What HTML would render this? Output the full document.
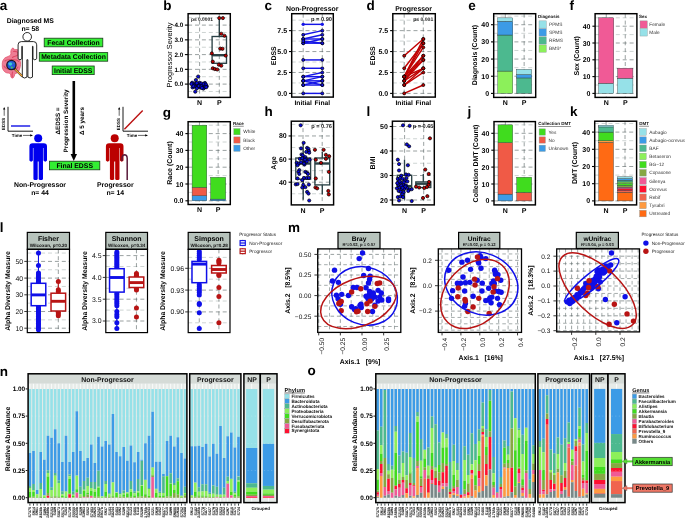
<!DOCTYPE html>
<html><head><meta charset="utf-8"><title>Figure</title>
<style>
html,body{margin:0;padding:0;background:#fff;}
svg{display:block;font-family:"Liberation Sans",sans-serif;text-rendering:geometricPrecision;}
</style></head><body>
<svg width="685" height="518" viewBox="0 0 685 518">
<rect x="0" y="0" width="685" height="518" fill="#ffffff"/>
<text x="-0.30" y="10.30" font-size="13.50px" font-weight="bold" text-anchor="start" fill="#000" >a</text>
<text x="30.30" y="23.20" font-size="6.85px" font-weight="bold" text-anchor="middle" fill="#000" >Diagnosed MS</text>
<text x="30.30" y="31.00" font-size="6.85px" font-weight="bold" text-anchor="middle" fill="#000" >n= 58</text>
<path d="M12 48.5 C13 47.5 14.5 48.5 14 50 C16 49 20 49.5 20 52.5 C20 55 19 56.5 18.5 57.5 C21 60 21 66 19.5 69 C19 72 17 73.5 15 73.5 C14.5 75.5 14 77 13 78 C11.5 78.5 10.5 77 10.8 75 C10.5 73.5 9 73 7.5 73 C4 72.5 2 69 2.3 65 C2 61 4 57.5 7 57 C9 56 10.5 55.5 11 54 C10.5 52 11 49.5 12 48.5 Z" fill="#ee7d94" stroke="#e4566e" stroke-width="0.8"/>
<path d="M13.5 51.5 C16 51 18.5 52 18 54.5 C17.5 56.5 14 56 12.5 57.5 M5 61 C7 59 17 59 18.5 61.5 M4 66 C6 70 16 71 18 67 M12.5 72 C12 74 12 76 12.3 77" fill="none" stroke="#dd4a66" stroke-width="1.1" stroke-linecap="round"/>
<circle cx="27.20" cy="36.80" r="4.30" fill="#fff" stroke="#111" stroke-width="0.90"/>
<path d="M 21.30 41.60 H 33.50 Q 36.70 41.60 36.70 44.80 V 58.75 Q 34.84 60.99 32.98 58.75 V 46.30 H 32.48 V 77.10 Q 30.19 78.90 27.90 77.10 V 59.75 H 26.90 V 77.10 Q 24.61 78.90 22.32 77.10 V 46.30 H 21.82 V 58.75 Q 19.96 60.99 18.10 58.75 V 44.80 Q 18.10 41.60 21.30 41.60 Z" fill="#fff" stroke="#111" stroke-width="0.9" stroke-linejoin="round"/>
<line x1="14.50" y1="68.80" x2="22.00" y2="76.00" stroke="#333" stroke-width="2.20" stroke-linecap="round"/>
<line x1="15.50" y1="69.80" x2="21.80" y2="75.80" stroke="#f0a030" stroke-width="1.30" stroke-linecap="round"/>
<circle cx="11.40" cy="65.00" r="4.60" fill="#2458dc" stroke="#1a1a22" stroke-width="1.30"/>
<path d="M8.2 63.4 q1.8 -2 3.6 -0.6 q1.2 1.6 -0.6 2.8 q-2.4 0.6 -3 -2.2 Z" fill="#38c8d8"/>
<path d="M10.6 66.6 q1.6 -0.6 2.6 0.6 q-0.6 1.6 -2.2 1.2 Z M12.6 62.6 q1.2 0.2 1.4 1.4 q-1 0.4 -1.4 -1.4 Z" fill="#40c060"/>
<rect x="44.20" y="38.20" width="58.60" height="8.60" fill="#33ee33" stroke="#1a3a1a" stroke-width="0.80" />
<text x="73.50" y="45.00" font-size="6.85px" font-weight="bold" text-anchor="middle" fill="#000" >Fecal Collection</text>
<rect x="39.30" y="52.60" width="68.40" height="8.60" fill="#33ee33" stroke="#1a3a1a" stroke-width="0.80" />
<text x="73.50" y="59.30" font-size="6.85px" font-weight="bold" text-anchor="middle" fill="#000" >Metadata Collection</text>
<rect x="52.20" y="66.00" width="42.00" height="8.60" fill="#33ee33" stroke="#1a3a1a" stroke-width="0.80" />
<text x="73.20" y="72.70" font-size="6.85px" font-weight="bold" text-anchor="middle" fill="#000" >Initial EDSS</text>
<line x1="73.80" y1="81.00" x2="73.80" y2="156.00" stroke="#000" stroke-width="2.60" />
<path d="M70.6 154 L77 154 L73.8 161 Z" fill="#000"/>
<text x="60.30" y="121.00" font-size="6.30px" font-weight="bold" text-anchor="middle" fill="#000" transform="rotate(-90 60.30 121.00)" >ΔEDSS =</text>
<text x="68.20" y="121.00" font-size="6.30px" font-weight="bold" text-anchor="middle" fill="#000" transform="rotate(-90 68.20 121.00)" >Progression Severity</text>
<text x="83.70" y="121.00" font-size="6.30px" font-weight="bold" text-anchor="middle" fill="#000" transform="rotate(-90 83.70 121.00)" >Δ 5 years</text>
<rect x="49.50" y="161.20" width="50.30" height="8.60" fill="#33ee33" stroke="#1a3a1a" stroke-width="0.80" />
<text x="74.70" y="167.90" font-size="6.85px" font-weight="bold" text-anchor="middle" fill="#000" >Final EDSS</text>
<path d="M8.00 106.8 V131.2 H33.00" fill="none" stroke="#000" stroke-width="0.9"/>
<text x="5.40" y="124.00" font-size="4.50px" font-weight="bold" text-anchor="middle" fill="#000" transform="rotate(-90 5.40 124.00)" >EDSS</text>
<line x1="4.20" y1="115.80" x2="4.20" y2="108.20" stroke="#000" stroke-width="0.60" />
<path d="M3.10 109.6 L4.20 107 L5.30 109.6 Z" fill="#000"/>
<text x="17.00" y="136.60" font-size="4.50px" font-weight="bold" text-anchor="middle" fill="#000" >Time</text>
<line x1="23.00" y1="135.40" x2="31.50" y2="135.40" stroke="#000" stroke-width="0.60" />
<path d="M30.20 134.2 L33.00 135.4 L30.20 136.6 Z" fill="#000"/>
<line x1="11.00" y1="126.00" x2="30.20" y2="126.00" stroke="#1010e6" stroke-width="1.40" />
<path d="M123.00 106.8 V131.2 H148.00" fill="none" stroke="#000" stroke-width="0.9"/>
<text x="120.40" y="124.00" font-size="4.50px" font-weight="bold" text-anchor="middle" fill="#000" transform="rotate(-90 120.40 124.00)" >EDSS</text>
<line x1="119.20" y1="115.80" x2="119.20" y2="108.20" stroke="#000" stroke-width="0.60" />
<path d="M118.10 109.6 L119.20 107 L120.30 109.6 Z" fill="#000"/>
<text x="132.00" y="136.60" font-size="4.50px" font-weight="bold" text-anchor="middle" fill="#000" >Time</text>
<line x1="138.00" y1="135.40" x2="146.50" y2="135.40" stroke="#000" stroke-width="0.60" />
<path d="M145.20 134.2 L148.00 135.4 L145.20 136.6 Z" fill="#000"/>
<line x1="124.40" y1="129.20" x2="142.70" y2="110.60" stroke="#bb1111" stroke-width="1.40" />
<circle cx="38.20" cy="138.30" r="4.00" fill="#0000ee" stroke="none" stroke-width="0.50"/>
<path d="M 32.60 143.20 H 43.80 Q 47.00 143.20 47.00 146.40 V 160.59 Q 45.24 162.70 43.48 160.59 V 147.90 H 42.98 V 179.20 Q 40.84 181.00 38.70 179.20 V 161.59 H 37.70 V 179.20 Q 35.56 181.00 33.42 179.20 V 147.90 H 32.92 V 160.59 Q 31.16 162.70 29.40 160.59 V 146.40 Q 29.40 143.20 32.60 143.20 Z" fill="#0000ee"/>
<circle cx="114.70" cy="138.30" r="4.00" fill="#bb0000" stroke="none" stroke-width="0.50"/>
<path d="M 109.10 143.20 H 120.30 Q 123.50 143.20 123.50 146.40 V 160.59 Q 121.74 162.70 119.98 160.59 V 147.90 H 119.48 V 179.20 Q 117.34 181.00 115.20 179.20 V 161.59 H 114.20 V 179.20 Q 112.06 181.00 109.92 179.20 V 147.90 H 109.42 V 160.59 Q 107.66 162.70 105.90 160.59 V 146.40 Q 105.90 143.20 109.10 143.20 Z" fill="#bb0000"/>
<path d="M122 161 Q121.6 155 124.3 154.8 Q127.2 154.8 127.2 158.5 V180" fill="none" stroke="#5a1a3a" stroke-width="1.5"/>
<text x="40.00" y="187.20" font-size="6.85px" font-weight="bold" text-anchor="middle" fill="#000" >Non-Progressor</text>
<text x="40.00" y="194.60" font-size="6.85px" font-weight="bold" text-anchor="middle" fill="#000" >n= 44</text>
<text x="115.30" y="187.20" font-size="6.85px" font-weight="bold" text-anchor="middle" fill="#000" >Progressor</text>
<text x="115.30" y="194.60" font-size="6.85px" font-weight="bold" text-anchor="middle" fill="#000" >n= 14</text>
<text x="163.30" y="10.30" font-size="13.50px" font-weight="bold" text-anchor="start" fill="#000" >b</text>
<line x1="188.10" y1="91.47" x2="230.30" y2="91.47" stroke="#a6b0ae" stroke-width="0.55" stroke-dasharray="4 2.9" stroke-dashoffset="0"/>
<line x1="188.10" y1="76.72" x2="230.30" y2="76.72" stroke="#a6b0ae" stroke-width="0.55" stroke-dasharray="4 2.9" stroke-dashoffset="0"/>
<line x1="188.10" y1="61.97" x2="230.30" y2="61.97" stroke="#a6b0ae" stroke-width="0.55" stroke-dasharray="4 2.9" stroke-dashoffset="0"/>
<line x1="188.10" y1="47.22" x2="230.30" y2="47.22" stroke="#a6b0ae" stroke-width="0.55" stroke-dasharray="4 2.9" stroke-dashoffset="0"/>
<line x1="188.10" y1="32.47" x2="230.30" y2="32.47" stroke="#a6b0ae" stroke-width="0.55" stroke-dasharray="4 2.9" stroke-dashoffset="0"/>
<line x1="188.10" y1="17.72" x2="230.30" y2="17.72" stroke="#a6b0ae" stroke-width="0.55" stroke-dasharray="4 2.9" stroke-dashoffset="0"/>
<line x1="188.10" y1="84.10" x2="230.30" y2="84.10" stroke="#465252" stroke-width="0.55" stroke-dasharray="4 2.9" stroke-dashoffset="0"/>
<line x1="188.10" y1="69.35" x2="230.30" y2="69.35" stroke="#465252" stroke-width="0.55" stroke-dasharray="4 2.9" stroke-dashoffset="0"/>
<line x1="188.10" y1="54.60" x2="230.30" y2="54.60" stroke="#465252" stroke-width="0.55" stroke-dasharray="4 2.9" stroke-dashoffset="0"/>
<line x1="188.10" y1="39.85" x2="230.30" y2="39.85" stroke="#465252" stroke-width="0.55" stroke-dasharray="4 2.9" stroke-dashoffset="0"/>
<line x1="188.10" y1="25.10" x2="230.30" y2="25.10" stroke="#465252" stroke-width="0.55" stroke-dasharray="4 2.9" stroke-dashoffset="0"/>
<line x1="199.60" y1="13.70" x2="199.60" y2="97.40" stroke="#465252" stroke-width="0.55" stroke-dasharray="4 2.9" stroke-dashoffset="0"/>
<line x1="219.30" y1="13.70" x2="219.30" y2="97.40" stroke="#465252" stroke-width="0.55" stroke-dasharray="4 2.9" stroke-dashoffset="0"/>
<line x1="219.30" y1="18.00" x2="219.30" y2="36.50" stroke="#2b4246" stroke-width="1.35" />
<line x1="219.30" y1="63.30" x2="219.30" y2="63.30" stroke="#2b4246" stroke-width="1.35" />
<rect x="212.10" y="36.50" width="14.40" height="26.80" fill="none" stroke="#2b4246" stroke-width="1.35" />
<line x1="212.10" y1="55.20" x2="226.50" y2="55.20" stroke="#2b4246" stroke-width="2.40" />
<circle cx="219.26" cy="18.07" r="1.60" fill="#c00000" stroke="#000" stroke-width="0.70"/>
<circle cx="222.87" cy="18.07" r="1.60" fill="#c00000" stroke="#000" stroke-width="0.70"/>
<circle cx="221.27" cy="33.73" r="1.60" fill="#c00000" stroke="#000" stroke-width="0.70"/>
<circle cx="224.48" cy="35.74" r="1.60" fill="#c00000" stroke="#000" stroke-width="0.70"/>
<circle cx="220.26" cy="48.59" r="1.60" fill="#c00000" stroke="#000" stroke-width="0.70"/>
<circle cx="222.47" cy="48.80" r="1.60" fill="#c00000" stroke="#000" stroke-width="0.70"/>
<circle cx="211.83" cy="53.41" r="1.60" fill="#c00000" stroke="#000" stroke-width="0.70"/>
<circle cx="225.68" cy="55.62" r="1.60" fill="#c00000" stroke="#000" stroke-width="0.70"/>
<circle cx="212.83" cy="61.65" r="1.60" fill="#c00000" stroke="#000" stroke-width="0.70"/>
<circle cx="218.86" cy="64.66" r="1.60" fill="#c00000" stroke="#000" stroke-width="0.70"/>
<circle cx="221.27" cy="65.66" r="1.60" fill="#c00000" stroke="#000" stroke-width="0.70"/>
<circle cx="212.83" cy="68.27" r="1.60" fill="#c00000" stroke="#000" stroke-width="0.70"/>
<circle cx="214.84" cy="69.08" r="1.60" fill="#c00000" stroke="#000" stroke-width="0.70"/>
<circle cx="217.25" cy="69.48" r="1.60" fill="#c00000" stroke="#000" stroke-width="0.70"/>
<circle cx="198.19" cy="76.59" r="1.65" fill="#0a0adc" stroke="#000" stroke-width="0.70"/>
<circle cx="195.88" cy="80.06" r="1.65" fill="#0a0adc" stroke="#000" stroke-width="0.70"/>
<circle cx="192.17" cy="82.76" r="1.65" fill="#0a0adc" stroke="#000" stroke-width="0.70"/>
<circle cx="195.10" cy="83.53" r="1.65" fill="#0a0adc" stroke="#000" stroke-width="0.70"/>
<circle cx="199.50" cy="82.76" r="1.65" fill="#0a0adc" stroke="#000" stroke-width="0.70"/>
<circle cx="204.90" cy="82.99" r="1.65" fill="#0a0adc" stroke="#000" stroke-width="0.70"/>
<circle cx="193.72" cy="84.69" r="1.65" fill="#0a0adc" stroke="#000" stroke-width="0.70"/>
<circle cx="197.19" cy="84.69" r="1.65" fill="#0a0adc" stroke="#000" stroke-width="0.70"/>
<circle cx="199.89" cy="84.85" r="1.65" fill="#0a0adc" stroke="#000" stroke-width="0.70"/>
<circle cx="202.59" cy="85.46" r="1.65" fill="#0a0adc" stroke="#000" stroke-width="0.70"/>
<circle cx="206.68" cy="86.23" r="1.65" fill="#0a0adc" stroke="#000" stroke-width="0.70"/>
<circle cx="192.56" cy="87.39" r="1.65" fill="#0a0adc" stroke="#000" stroke-width="0.70"/>
<circle cx="194.87" cy="86.62" r="1.65" fill="#0a0adc" stroke="#000" stroke-width="0.70"/>
<circle cx="197.57" cy="87.01" r="1.65" fill="#0a0adc" stroke="#000" stroke-width="0.70"/>
<circle cx="200.27" cy="87.39" r="1.65" fill="#0a0adc" stroke="#000" stroke-width="0.70"/>
<circle cx="204.13" cy="87.62" r="1.65" fill="#0a0adc" stroke="#000" stroke-width="0.70"/>
<circle cx="203.36" cy="88.55" r="1.65" fill="#0a0adc" stroke="#000" stroke-width="0.70"/>
<circle cx="195.26" cy="91.64" r="1.65" fill="#0a0adc" stroke="#000" stroke-width="0.70"/>
<circle cx="196.80" cy="83.15" r="1.65" fill="#0a0adc" stroke="#000" stroke-width="0.70"/>
<circle cx="201.43" cy="83.53" r="1.65" fill="#0a0adc" stroke="#000" stroke-width="0.70"/>
<circle cx="203.59" cy="84.07" r="1.65" fill="#0a0adc" stroke="#000" stroke-width="0.70"/>
<circle cx="205.91" cy="84.54" r="1.65" fill="#0a0adc" stroke="#000" stroke-width="0.70"/>
<circle cx="193.33" cy="86.08" r="1.65" fill="#0a0adc" stroke="#000" stroke-width="0.70"/>
<circle cx="198.73" cy="86.08" r="1.65" fill="#0a0adc" stroke="#000" stroke-width="0.70"/>
<circle cx="201.43" cy="86.39" r="1.65" fill="#0a0adc" stroke="#000" stroke-width="0.70"/>
<circle cx="205.29" cy="86.62" r="1.65" fill="#0a0adc" stroke="#000" stroke-width="0.70"/>
<circle cx="196.80" cy="88.40" r="1.65" fill="#0a0adc" stroke="#000" stroke-width="0.70"/>
<circle cx="201.82" cy="87.93" r="1.65" fill="#0a0adc" stroke="#000" stroke-width="0.70"/>
<circle cx="191.40" cy="83.92" r="1.65" fill="#0a0adc" stroke="#000" stroke-width="0.70"/>
<circle cx="206.22" cy="87.16" r="1.65" fill="#0a0adc" stroke="#000" stroke-width="0.70"/>
<rect x="188.10" y="13.70" width="42.20" height="83.70" fill="none" stroke="#000" stroke-width="1.45" />
<line x1="184.90" y1="84.10" x2="188.10" y2="84.10" stroke="#000" stroke-width="1.10" />
<text x="183.30" y="86.40" font-size="6.30px" font-weight="bold" text-anchor="end" fill="#000" >0.0</text>
<line x1="184.90" y1="69.35" x2="188.10" y2="69.35" stroke="#000" stroke-width="1.10" />
<text x="183.30" y="71.65" font-size="6.30px" font-weight="bold" text-anchor="end" fill="#000" >1.0</text>
<line x1="184.90" y1="54.60" x2="188.10" y2="54.60" stroke="#000" stroke-width="1.10" />
<text x="183.30" y="56.90" font-size="6.30px" font-weight="bold" text-anchor="end" fill="#000" >2.0</text>
<line x1="184.90" y1="39.85" x2="188.10" y2="39.85" stroke="#000" stroke-width="1.10" />
<text x="183.30" y="42.15" font-size="6.30px" font-weight="bold" text-anchor="end" fill="#000" >3.0</text>
<line x1="184.90" y1="25.10" x2="188.10" y2="25.10" stroke="#000" stroke-width="1.10" />
<text x="183.30" y="27.40" font-size="6.30px" font-weight="bold" text-anchor="end" fill="#000" >4.0</text>
<text x="199.60" y="105.00" font-size="7.00px" font-weight="bold" text-anchor="middle" fill="#000" >N</text>
<text x="219.30" y="105.00" font-size="7.00px" font-weight="bold" text-anchor="middle" fill="#000" >P</text>
<text x="171.90" y="55.00" font-size="7.40px" font-weight="normal" text-anchor="middle" fill="#000" transform="rotate(-90 171.90 55.00)" >Progressor Severity</text>
<text x="191.00" y="20.60" font-size="4.90px" font-weight="bold" text-anchor="start" fill="#222" >p≤ 0.0001</text>
<text x="264.60" y="10.30" font-size="13.50px" font-weight="bold" text-anchor="start" fill="#000" >c</text>
<text x="312.20" y="10.60" font-size="6.90px" font-weight="bold" text-anchor="middle" fill="#000" >Non-Progressor</text>
<line x1="291.70" y1="82.94" x2="333.30" y2="82.94" stroke="#a6b0ae" stroke-width="0.55" stroke-dasharray="4 2.9" stroke-dashoffset="0"/>
<line x1="291.70" y1="62.01" x2="333.30" y2="62.01" stroke="#a6b0ae" stroke-width="0.55" stroke-dasharray="4 2.9" stroke-dashoffset="0"/>
<line x1="291.70" y1="41.09" x2="333.30" y2="41.09" stroke="#a6b0ae" stroke-width="0.55" stroke-dasharray="4 2.9" stroke-dashoffset="0"/>
<line x1="291.70" y1="20.16" x2="333.30" y2="20.16" stroke="#a6b0ae" stroke-width="0.55" stroke-dasharray="4 2.9" stroke-dashoffset="0"/>
<line x1="291.70" y1="93.40" x2="333.30" y2="93.40" stroke="#465252" stroke-width="0.55" stroke-dasharray="4 2.9" stroke-dashoffset="0"/>
<line x1="291.70" y1="72.48" x2="333.30" y2="72.48" stroke="#465252" stroke-width="0.55" stroke-dasharray="4 2.9" stroke-dashoffset="0"/>
<line x1="291.70" y1="51.55" x2="333.30" y2="51.55" stroke="#465252" stroke-width="0.55" stroke-dasharray="4 2.9" stroke-dashoffset="0"/>
<line x1="291.70" y1="30.63" x2="333.30" y2="30.63" stroke="#465252" stroke-width="0.55" stroke-dasharray="4 2.9" stroke-dashoffset="0"/>
<line x1="303.20" y1="13.70" x2="303.20" y2="97.10" stroke="#465252" stroke-width="0.55" stroke-dasharray="4 2.9" stroke-dashoffset="0"/>
<line x1="322.30" y1="13.70" x2="322.30" y2="97.10" stroke="#465252" stroke-width="0.55" stroke-dasharray="4 2.9" stroke-dashoffset="0"/>
<line x1="303.20" y1="24.35" x2="322.30" y2="24.35" stroke="#1414e6" stroke-width="1.45" />
<line x1="303.20" y1="34.81" x2="322.30" y2="30.63" stroke="#1414e6" stroke-width="1.45" />
<line x1="303.20" y1="39.00" x2="322.30" y2="34.81" stroke="#1414e6" stroke-width="1.45" />
<line x1="303.20" y1="39.00" x2="322.30" y2="39.00" stroke="#1414e6" stroke-width="1.45" />
<line x1="303.20" y1="43.18" x2="322.30" y2="39.00" stroke="#1414e6" stroke-width="1.45" />
<line x1="303.20" y1="43.18" x2="322.30" y2="43.18" stroke="#1414e6" stroke-width="1.45" />
<line x1="303.20" y1="41.09" x2="322.30" y2="43.18" stroke="#1414e6" stroke-width="1.45" />
<line x1="303.20" y1="59.92" x2="322.30" y2="59.92" stroke="#1414e6" stroke-width="1.45" />
<line x1="303.20" y1="68.29" x2="322.30" y2="68.29" stroke="#1414e6" stroke-width="1.45" />
<line x1="303.20" y1="76.66" x2="322.30" y2="72.48" stroke="#1414e6" stroke-width="1.45" />
<line x1="303.20" y1="76.66" x2="322.30" y2="76.66" stroke="#1414e6" stroke-width="1.45" />
<line x1="303.20" y1="80.84" x2="322.30" y2="76.66" stroke="#1414e6" stroke-width="1.45" />
<line x1="303.20" y1="80.84" x2="322.30" y2="80.84" stroke="#1414e6" stroke-width="1.45" />
<line x1="303.20" y1="85.03" x2="322.30" y2="80.84" stroke="#1414e6" stroke-width="1.45" />
<line x1="303.20" y1="85.03" x2="322.30" y2="85.03" stroke="#1414e6" stroke-width="1.45" />
<line x1="303.20" y1="80.84" x2="322.30" y2="85.03" stroke="#1414e6" stroke-width="1.45" />
<line x1="303.20" y1="93.40" x2="322.30" y2="93.40" stroke="#1414e6" stroke-width="1.45" />
<circle cx="303.20" cy="24.35" r="1.70" fill="#1414e6" stroke="none" stroke-width="0.50"/>
<circle cx="322.30" cy="24.35" r="1.70" fill="#1414e6" stroke="none" stroke-width="0.50"/>
<circle cx="303.20" cy="34.81" r="1.50" fill="#1414e6" stroke="#000" stroke-width="0.70"/>
<circle cx="322.30" cy="30.63" r="1.50" fill="#1414e6" stroke="#000" stroke-width="0.70"/>
<circle cx="303.20" cy="39.00" r="1.50" fill="#1414e6" stroke="#000" stroke-width="0.70"/>
<circle cx="322.30" cy="34.81" r="1.50" fill="#1414e6" stroke="#000" stroke-width="0.70"/>
<circle cx="303.20" cy="39.00" r="1.50" fill="#1414e6" stroke="#000" stroke-width="0.70"/>
<circle cx="322.30" cy="39.00" r="1.50" fill="#1414e6" stroke="#000" stroke-width="0.70"/>
<circle cx="303.20" cy="43.18" r="1.50" fill="#1414e6" stroke="#000" stroke-width="0.70"/>
<circle cx="322.30" cy="39.00" r="1.50" fill="#1414e6" stroke="#000" stroke-width="0.70"/>
<circle cx="303.20" cy="43.18" r="1.50" fill="#1414e6" stroke="#000" stroke-width="0.70"/>
<circle cx="322.30" cy="43.18" r="1.50" fill="#1414e6" stroke="#000" stroke-width="0.70"/>
<circle cx="303.20" cy="41.09" r="1.50" fill="#1414e6" stroke="#000" stroke-width="0.70"/>
<circle cx="322.30" cy="43.18" r="1.50" fill="#1414e6" stroke="#000" stroke-width="0.70"/>
<circle cx="303.20" cy="59.92" r="1.50" fill="#1414e6" stroke="#000" stroke-width="0.70"/>
<circle cx="322.30" cy="59.92" r="1.50" fill="#1414e6" stroke="#000" stroke-width="0.70"/>
<circle cx="303.20" cy="68.29" r="1.50" fill="#1414e6" stroke="#000" stroke-width="0.70"/>
<circle cx="322.30" cy="68.29" r="1.50" fill="#1414e6" stroke="#000" stroke-width="0.70"/>
<circle cx="303.20" cy="76.66" r="1.50" fill="#1414e6" stroke="#000" stroke-width="0.70"/>
<circle cx="322.30" cy="72.48" r="1.50" fill="#1414e6" stroke="#000" stroke-width="0.70"/>
<circle cx="303.20" cy="76.66" r="1.50" fill="#1414e6" stroke="#000" stroke-width="0.70"/>
<circle cx="322.30" cy="76.66" r="1.50" fill="#1414e6" stroke="#000" stroke-width="0.70"/>
<circle cx="303.20" cy="80.84" r="1.50" fill="#1414e6" stroke="#000" stroke-width="0.70"/>
<circle cx="322.30" cy="76.66" r="1.50" fill="#1414e6" stroke="#000" stroke-width="0.70"/>
<circle cx="303.20" cy="80.84" r="1.50" fill="#1414e6" stroke="#000" stroke-width="0.70"/>
<circle cx="322.30" cy="80.84" r="1.50" fill="#1414e6" stroke="#000" stroke-width="0.70"/>
<circle cx="303.20" cy="85.03" r="1.50" fill="#1414e6" stroke="#000" stroke-width="0.70"/>
<circle cx="322.30" cy="80.84" r="1.50" fill="#1414e6" stroke="#000" stroke-width="0.70"/>
<circle cx="303.20" cy="85.03" r="1.50" fill="#1414e6" stroke="#000" stroke-width="0.70"/>
<circle cx="322.30" cy="85.03" r="1.50" fill="#1414e6" stroke="#000" stroke-width="0.70"/>
<circle cx="303.20" cy="80.84" r="1.50" fill="#1414e6" stroke="#000" stroke-width="0.70"/>
<circle cx="322.30" cy="85.03" r="1.50" fill="#1414e6" stroke="#000" stroke-width="0.70"/>
<circle cx="303.20" cy="93.40" r="1.50" fill="#1414e6" stroke="#000" stroke-width="0.70"/>
<circle cx="322.30" cy="93.40" r="1.50" fill="#1414e6" stroke="#000" stroke-width="0.70"/>
<rect x="291.70" y="13.70" width="41.60" height="83.40" fill="none" stroke="#000" stroke-width="1.45" />
<line x1="289.00" y1="93.40" x2="291.70" y2="93.40" stroke="#000" stroke-width="1.10" />
<text x="287.10" y="95.90" font-size="7.00px" font-weight="bold" text-anchor="end" fill="#000" >0.0</text>
<line x1="289.00" y1="72.48" x2="291.70" y2="72.48" stroke="#000" stroke-width="1.10" />
<text x="287.10" y="74.98" font-size="7.00px" font-weight="bold" text-anchor="end" fill="#000" >2.5</text>
<line x1="289.00" y1="51.55" x2="291.70" y2="51.55" stroke="#000" stroke-width="1.10" />
<text x="287.10" y="54.05" font-size="7.00px" font-weight="bold" text-anchor="end" fill="#000" >5.0</text>
<line x1="289.00" y1="30.63" x2="291.70" y2="30.63" stroke="#000" stroke-width="1.10" />
<text x="287.10" y="33.13" font-size="7.00px" font-weight="bold" text-anchor="end" fill="#000" >7.5</text>
<text x="303.20" y="104.70" font-size="6.70px" font-weight="bold" text-anchor="middle" fill="#000" >Initial</text>
<text x="322.30" y="104.70" font-size="6.70px" font-weight="bold" text-anchor="middle" fill="#000" >Final</text>
<text x="275.60" y="55.80" font-size="6.90px" font-weight="bold" text-anchor="middle" fill="#000" transform="rotate(-90 275.60 55.80)" >EDSS</text>
<text x="311.00" y="20.60" font-size="5.70px" font-weight="bold" text-anchor="start" fill="#222" >p = 0.90</text>
<text x="366.60" y="10.30" font-size="13.50px" font-weight="bold" text-anchor="start" fill="#000" >d</text>
<text x="413.60" y="10.60" font-size="6.90px" font-weight="bold" text-anchor="middle" fill="#000" >Progressor</text>
<line x1="392.80" y1="82.94" x2="435.30" y2="82.94" stroke="#a6b0ae" stroke-width="0.55" stroke-dasharray="4 2.9" stroke-dashoffset="0"/>
<line x1="392.80" y1="62.01" x2="435.30" y2="62.01" stroke="#a6b0ae" stroke-width="0.55" stroke-dasharray="4 2.9" stroke-dashoffset="0"/>
<line x1="392.80" y1="41.09" x2="435.30" y2="41.09" stroke="#a6b0ae" stroke-width="0.55" stroke-dasharray="4 2.9" stroke-dashoffset="0"/>
<line x1="392.80" y1="20.16" x2="435.30" y2="20.16" stroke="#a6b0ae" stroke-width="0.55" stroke-dasharray="4 2.9" stroke-dashoffset="0"/>
<line x1="392.80" y1="93.40" x2="435.30" y2="93.40" stroke="#465252" stroke-width="0.55" stroke-dasharray="4 2.9" stroke-dashoffset="0"/>
<line x1="392.80" y1="72.48" x2="435.30" y2="72.48" stroke="#465252" stroke-width="0.55" stroke-dasharray="4 2.9" stroke-dashoffset="0"/>
<line x1="392.80" y1="51.55" x2="435.30" y2="51.55" stroke="#465252" stroke-width="0.55" stroke-dasharray="4 2.9" stroke-dashoffset="0"/>
<line x1="392.80" y1="30.63" x2="435.30" y2="30.63" stroke="#465252" stroke-width="0.55" stroke-dasharray="4 2.9" stroke-dashoffset="0"/>
<line x1="404.20" y1="13.70" x2="404.20" y2="97.10" stroke="#465252" stroke-width="0.55" stroke-dasharray="4 2.9" stroke-dashoffset="0"/>
<line x1="423.30" y1="13.70" x2="423.30" y2="97.10" stroke="#465252" stroke-width="0.55" stroke-dasharray="4 2.9" stroke-dashoffset="0"/>
<line x1="404.20" y1="55.74" x2="423.30" y2="39.00" stroke="#c00000" stroke-width="1.45" />
<line x1="404.20" y1="68.29" x2="423.30" y2="43.18" stroke="#c00000" stroke-width="1.45" />
<line x1="404.20" y1="76.66" x2="423.30" y2="39.00" stroke="#c00000" stroke-width="1.45" />
<line x1="404.20" y1="76.66" x2="423.30" y2="43.18" stroke="#c00000" stroke-width="1.45" />
<line x1="404.20" y1="76.66" x2="423.30" y2="47.37" stroke="#c00000" stroke-width="1.45" />
<line x1="404.20" y1="76.66" x2="423.30" y2="55.74" stroke="#c00000" stroke-width="1.45" />
<line x1="404.20" y1="76.66" x2="423.30" y2="59.92" stroke="#c00000" stroke-width="1.45" />
<line x1="404.20" y1="80.84" x2="423.30" y2="59.92" stroke="#c00000" stroke-width="1.45" />
<line x1="404.20" y1="80.84" x2="423.30" y2="55.74" stroke="#c00000" stroke-width="1.45" />
<line x1="404.20" y1="80.84" x2="423.30" y2="68.29" stroke="#c00000" stroke-width="1.45" />
<line x1="404.20" y1="85.03" x2="423.30" y2="68.29" stroke="#c00000" stroke-width="1.45" />
<line x1="404.20" y1="85.03" x2="423.30" y2="72.48" stroke="#c00000" stroke-width="1.45" />
<line x1="404.20" y1="76.66" x2="423.30" y2="68.29" stroke="#c00000" stroke-width="1.45" />
<line x1="404.20" y1="93.40" x2="423.30" y2="85.03" stroke="#c00000" stroke-width="1.45" />
<circle cx="404.20" cy="55.74" r="1.50" fill="#c00000" stroke="#000" stroke-width="0.70"/>
<circle cx="423.30" cy="39.00" r="1.50" fill="#c00000" stroke="#000" stroke-width="0.70"/>
<circle cx="404.20" cy="68.29" r="1.50" fill="#c00000" stroke="#000" stroke-width="0.70"/>
<circle cx="423.30" cy="43.18" r="1.50" fill="#c00000" stroke="#000" stroke-width="0.70"/>
<circle cx="404.20" cy="76.66" r="1.50" fill="#c00000" stroke="#000" stroke-width="0.70"/>
<circle cx="423.30" cy="39.00" r="1.50" fill="#c00000" stroke="#000" stroke-width="0.70"/>
<circle cx="404.20" cy="76.66" r="1.50" fill="#c00000" stroke="#000" stroke-width="0.70"/>
<circle cx="423.30" cy="43.18" r="1.50" fill="#c00000" stroke="#000" stroke-width="0.70"/>
<circle cx="404.20" cy="76.66" r="1.50" fill="#c00000" stroke="#000" stroke-width="0.70"/>
<circle cx="423.30" cy="47.37" r="1.50" fill="#c00000" stroke="#000" stroke-width="0.70"/>
<circle cx="404.20" cy="76.66" r="1.50" fill="#c00000" stroke="#000" stroke-width="0.70"/>
<circle cx="423.30" cy="55.74" r="1.50" fill="#c00000" stroke="#000" stroke-width="0.70"/>
<circle cx="404.20" cy="76.66" r="1.50" fill="#c00000" stroke="#000" stroke-width="0.70"/>
<circle cx="423.30" cy="59.92" r="1.50" fill="#c00000" stroke="#000" stroke-width="0.70"/>
<circle cx="404.20" cy="80.84" r="1.50" fill="#c00000" stroke="#000" stroke-width="0.70"/>
<circle cx="423.30" cy="59.92" r="1.50" fill="#c00000" stroke="#000" stroke-width="0.70"/>
<circle cx="404.20" cy="80.84" r="1.50" fill="#c00000" stroke="#000" stroke-width="0.70"/>
<circle cx="423.30" cy="55.74" r="1.50" fill="#c00000" stroke="#000" stroke-width="0.70"/>
<circle cx="404.20" cy="80.84" r="1.50" fill="#c00000" stroke="#000" stroke-width="0.70"/>
<circle cx="423.30" cy="68.29" r="1.50" fill="#c00000" stroke="#000" stroke-width="0.70"/>
<circle cx="404.20" cy="85.03" r="1.50" fill="#c00000" stroke="#000" stroke-width="0.70"/>
<circle cx="423.30" cy="68.29" r="1.50" fill="#c00000" stroke="#000" stroke-width="0.70"/>
<circle cx="404.20" cy="85.03" r="1.50" fill="#c00000" stroke="#000" stroke-width="0.70"/>
<circle cx="423.30" cy="72.48" r="1.50" fill="#c00000" stroke="#000" stroke-width="0.70"/>
<circle cx="404.20" cy="76.66" r="1.50" fill="#c00000" stroke="#000" stroke-width="0.70"/>
<circle cx="423.30" cy="68.29" r="1.50" fill="#c00000" stroke="#000" stroke-width="0.70"/>
<circle cx="404.20" cy="93.40" r="1.50" fill="#c00000" stroke="#000" stroke-width="0.70"/>
<circle cx="423.30" cy="85.03" r="1.50" fill="#c00000" stroke="#000" stroke-width="0.70"/>
<rect x="392.80" y="13.70" width="42.50" height="83.40" fill="none" stroke="#000" stroke-width="1.45" />
<line x1="390.10" y1="93.40" x2="392.80" y2="93.40" stroke="#000" stroke-width="1.10" />
<text x="388.20" y="95.90" font-size="7.00px" font-weight="bold" text-anchor="end" fill="#000" >0.0</text>
<line x1="390.10" y1="72.48" x2="392.80" y2="72.48" stroke="#000" stroke-width="1.10" />
<text x="388.20" y="74.98" font-size="7.00px" font-weight="bold" text-anchor="end" fill="#000" >2.5</text>
<line x1="390.10" y1="51.55" x2="392.80" y2="51.55" stroke="#000" stroke-width="1.10" />
<text x="388.20" y="54.05" font-size="7.00px" font-weight="bold" text-anchor="end" fill="#000" >5.0</text>
<line x1="390.10" y1="30.63" x2="392.80" y2="30.63" stroke="#000" stroke-width="1.10" />
<text x="388.20" y="33.13" font-size="7.00px" font-weight="bold" text-anchor="end" fill="#000" >7.5</text>
<text x="404.20" y="104.70" font-size="6.70px" font-weight="bold" text-anchor="middle" fill="#000" >Initial</text>
<text x="423.30" y="104.70" font-size="6.70px" font-weight="bold" text-anchor="middle" fill="#000" >Final</text>
<text x="375.20" y="55.80" font-size="6.90px" font-weight="bold" text-anchor="middle" fill="#000" transform="rotate(-90 375.20 55.80)" >EDSS</text>
<text x="413.20" y="20.60" font-size="5.10px" font-weight="bold" text-anchor="start" fill="#222" >p≤ 0.001</text>
<text x="468.20" y="10.30" font-size="13.50px" font-weight="bold" text-anchor="start" fill="#000" >e</text>
<line x1="493.70" y1="84.81" x2="535.70" y2="84.81" stroke="#a6b0ae" stroke-width="0.55" stroke-dasharray="4 2.9" stroke-dashoffset="0"/>
<line x1="493.70" y1="67.65" x2="535.70" y2="67.65" stroke="#a6b0ae" stroke-width="0.55" stroke-dasharray="4 2.9" stroke-dashoffset="0"/>
<line x1="493.70" y1="50.48" x2="535.70" y2="50.48" stroke="#a6b0ae" stroke-width="0.55" stroke-dasharray="4 2.9" stroke-dashoffset="0"/>
<line x1="493.70" y1="33.30" x2="535.70" y2="33.30" stroke="#a6b0ae" stroke-width="0.55" stroke-dasharray="4 2.9" stroke-dashoffset="0"/>
<line x1="493.70" y1="16.13" x2="535.70" y2="16.13" stroke="#a6b0ae" stroke-width="0.55" stroke-dasharray="4 2.9" stroke-dashoffset="0"/>
<line x1="493.70" y1="93.40" x2="535.70" y2="93.40" stroke="#465252" stroke-width="0.55" stroke-dasharray="4 2.9" stroke-dashoffset="0"/>
<line x1="493.70" y1="76.23" x2="535.70" y2="76.23" stroke="#465252" stroke-width="0.55" stroke-dasharray="4 2.9" stroke-dashoffset="0"/>
<line x1="493.70" y1="59.06" x2="535.70" y2="59.06" stroke="#465252" stroke-width="0.55" stroke-dasharray="4 2.9" stroke-dashoffset="0"/>
<line x1="493.70" y1="41.89" x2="535.70" y2="41.89" stroke="#465252" stroke-width="0.55" stroke-dasharray="4 2.9" stroke-dashoffset="0"/>
<line x1="493.70" y1="24.72" x2="535.70" y2="24.72" stroke="#465252" stroke-width="0.55" stroke-dasharray="4 2.9" stroke-dashoffset="0"/>
<line x1="505.30" y1="13.70" x2="505.30" y2="97.40" stroke="#465252" stroke-width="0.55" stroke-dasharray="4 2.9" stroke-dashoffset="0"/>
<line x1="524.15" y1="13.70" x2="524.15" y2="97.40" stroke="#465252" stroke-width="0.55" stroke-dasharray="4 2.9" stroke-dashoffset="0"/>
<rect x="497.80" y="71.08" width="15.00" height="22.32" fill="#8cf05a" stroke="#2a3a3a" stroke-width="0.40" />
<rect x="497.80" y="35.02" width="15.00" height="36.06" fill="#4cb98f" stroke="#2a3a3a" stroke-width="0.40" />
<rect x="497.80" y="21.29" width="15.00" height="13.74" fill="#3c9be6" stroke="#2a3a3a" stroke-width="0.40" />
<rect x="497.80" y="17.85" width="15.00" height="3.43" fill="#96e1e8" stroke="#2a3a3a" stroke-width="0.40" />
<rect x="516.60" y="77.95" width="15.10" height="15.45" fill="#4cb98f" stroke="#2a3a3a" stroke-width="0.40" />
<rect x="516.60" y="74.51" width="15.10" height="3.43" fill="#3c9be6" stroke="#2a3a3a" stroke-width="0.40" />
<rect x="516.60" y="69.36" width="15.10" height="5.15" fill="#96e1e8" stroke="#2a3a3a" stroke-width="0.40" />
<rect x="493.70" y="13.70" width="42.00" height="83.70" fill="none" stroke="#000" stroke-width="1.45" />
<line x1="491.00" y1="93.40" x2="493.70" y2="93.40" stroke="#000" stroke-width="1.10" />
<text x="489.10" y="95.90" font-size="7.00px" font-weight="bold" text-anchor="end" fill="#000" >0</text>
<line x1="491.00" y1="76.23" x2="493.70" y2="76.23" stroke="#000" stroke-width="1.10" />
<text x="489.10" y="78.73" font-size="7.00px" font-weight="bold" text-anchor="end" fill="#000" >10</text>
<line x1="491.00" y1="59.06" x2="493.70" y2="59.06" stroke="#000" stroke-width="1.10" />
<text x="489.10" y="61.56" font-size="7.00px" font-weight="bold" text-anchor="end" fill="#000" >20</text>
<line x1="491.00" y1="41.89" x2="493.70" y2="41.89" stroke="#000" stroke-width="1.10" />
<text x="489.10" y="44.39" font-size="7.00px" font-weight="bold" text-anchor="end" fill="#000" >30</text>
<line x1="491.00" y1="24.72" x2="493.70" y2="24.72" stroke="#000" stroke-width="1.10" />
<text x="489.10" y="27.22" font-size="7.00px" font-weight="bold" text-anchor="end" fill="#000" >40</text>
<text x="505.30" y="105.00" font-size="7.00px" font-weight="bold" text-anchor="middle" fill="#000" >N</text>
<text x="524.15" y="105.00" font-size="7.00px" font-weight="bold" text-anchor="middle" fill="#000" >P</text>
<text x="477.20" y="55.00" font-size="7.00px" font-weight="bold" text-anchor="middle" fill="#000" transform="rotate(-90 477.20 55.00)" >Diagnosis (Count)</text>
<text x="538.00" y="17.50" font-size="4.50px" font-weight="bold" text-anchor="start" fill="#111" >Diagnosis</text>
<rect x="539.00" y="20.85" width="7.30" height="7.30" fill="#96e1e8" stroke="#8a9a9a" stroke-width="0.40" />
<text x="549.00" y="26.15" font-size="4.75px" font-weight="normal" text-anchor="start" fill="#333" >PPMS</text>
<rect x="539.00" y="28.75" width="7.30" height="7.30" fill="#3c9be6" stroke="#8a9a9a" stroke-width="0.40" />
<text x="549.00" y="34.05" font-size="4.75px" font-weight="normal" text-anchor="start" fill="#333" >SPMS</text>
<rect x="539.00" y="36.85" width="7.30" height="7.30" fill="#4cb98f" stroke="#8a9a9a" stroke-width="0.40" />
<text x="549.00" y="42.15" font-size="4.75px" font-weight="normal" text-anchor="start" fill="#333" >RRMS</text>
<rect x="539.00" y="44.95" width="7.30" height="7.30" fill="#8cf05a" stroke="#8a9a9a" stroke-width="0.40" />
<text x="549.00" y="50.25" font-size="4.75px" font-weight="normal" text-anchor="start" fill="#333" >BMS*</text>
<text x="569.60" y="10.30" font-size="13.50px" font-weight="bold" text-anchor="start" fill="#000" >f</text>
<line x1="595.10" y1="85.00" x2="636.90" y2="85.00" stroke="#a6b0ae" stroke-width="0.55" stroke-dasharray="4 2.9" stroke-dashoffset="0"/>
<line x1="595.10" y1="68.20" x2="636.90" y2="68.20" stroke="#a6b0ae" stroke-width="0.55" stroke-dasharray="4 2.9" stroke-dashoffset="0"/>
<line x1="595.10" y1="51.40" x2="636.90" y2="51.40" stroke="#a6b0ae" stroke-width="0.55" stroke-dasharray="4 2.9" stroke-dashoffset="0"/>
<line x1="595.10" y1="34.60" x2="636.90" y2="34.60" stroke="#a6b0ae" stroke-width="0.55" stroke-dasharray="4 2.9" stroke-dashoffset="0"/>
<line x1="595.10" y1="17.80" x2="636.90" y2="17.80" stroke="#a6b0ae" stroke-width="0.55" stroke-dasharray="4 2.9" stroke-dashoffset="0"/>
<line x1="595.10" y1="93.40" x2="636.90" y2="93.40" stroke="#465252" stroke-width="0.55" stroke-dasharray="4 2.9" stroke-dashoffset="0"/>
<line x1="595.10" y1="76.60" x2="636.90" y2="76.60" stroke="#465252" stroke-width="0.55" stroke-dasharray="4 2.9" stroke-dashoffset="0"/>
<line x1="595.10" y1="59.80" x2="636.90" y2="59.80" stroke="#465252" stroke-width="0.55" stroke-dasharray="4 2.9" stroke-dashoffset="0"/>
<line x1="595.10" y1="43.00" x2="636.90" y2="43.00" stroke="#465252" stroke-width="0.55" stroke-dasharray="4 2.9" stroke-dashoffset="0"/>
<line x1="595.10" y1="26.20" x2="636.90" y2="26.20" stroke="#465252" stroke-width="0.55" stroke-dasharray="4 2.9" stroke-dashoffset="0"/>
<line x1="606.25" y1="13.70" x2="606.25" y2="97.40" stroke="#465252" stroke-width="0.55" stroke-dasharray="4 2.9" stroke-dashoffset="0"/>
<line x1="625.25" y1="13.70" x2="625.25" y2="97.40" stroke="#465252" stroke-width="0.55" stroke-dasharray="4 2.9" stroke-dashoffset="0"/>
<rect x="598.70" y="83.32" width="15.10" height="10.08" fill="#96e1e8" stroke="#2a3a3a" stroke-width="0.40" />
<rect x="598.70" y="17.80" width="15.10" height="65.52" fill="#f05a96" stroke="#2a3a3a" stroke-width="0.40" />
<rect x="617.60" y="78.28" width="15.30" height="15.12" fill="#96e1e8" stroke="#2a3a3a" stroke-width="0.40" />
<rect x="617.60" y="68.20" width="15.30" height="10.08" fill="#f05a96" stroke="#2a3a3a" stroke-width="0.40" />
<rect x="595.10" y="13.70" width="41.80" height="83.70" fill="none" stroke="#000" stroke-width="1.45" />
<line x1="592.40" y1="93.40" x2="595.10" y2="93.40" stroke="#000" stroke-width="1.10" />
<text x="590.50" y="95.90" font-size="7.00px" font-weight="bold" text-anchor="end" fill="#000" >0</text>
<line x1="592.40" y1="76.60" x2="595.10" y2="76.60" stroke="#000" stroke-width="1.10" />
<text x="590.50" y="79.10" font-size="7.00px" font-weight="bold" text-anchor="end" fill="#000" >10</text>
<line x1="592.40" y1="59.80" x2="595.10" y2="59.80" stroke="#000" stroke-width="1.10" />
<text x="590.50" y="62.30" font-size="7.00px" font-weight="bold" text-anchor="end" fill="#000" >20</text>
<line x1="592.40" y1="43.00" x2="595.10" y2="43.00" stroke="#000" stroke-width="1.10" />
<text x="590.50" y="45.50" font-size="7.00px" font-weight="bold" text-anchor="end" fill="#000" >30</text>
<line x1="592.40" y1="26.20" x2="595.10" y2="26.20" stroke="#000" stroke-width="1.10" />
<text x="590.50" y="28.70" font-size="7.00px" font-weight="bold" text-anchor="end" fill="#000" >40</text>
<text x="606.25" y="105.00" font-size="7.00px" font-weight="bold" text-anchor="middle" fill="#000" >N</text>
<text x="625.25" y="105.00" font-size="7.00px" font-weight="bold" text-anchor="middle" fill="#000" >P</text>
<text x="578.70" y="55.80" font-size="7.00px" font-weight="bold" text-anchor="middle" fill="#000" transform="rotate(-90 578.70 55.80)" >Sex (Count)</text>
<text x="639.00" y="17.50" font-size="4.50px" font-weight="bold" text-anchor="start" fill="#111" >Sex</text>
<rect x="640.00" y="20.85" width="7.30" height="7.30" fill="#f05a96" stroke="#8a9a9a" stroke-width="0.40" />
<text x="649.30" y="26.15" font-size="4.75px" font-weight="normal" text-anchor="start" fill="#333" >Female</text>
<rect x="640.00" y="28.75" width="7.30" height="7.30" fill="#96e1e8" stroke="#8a9a9a" stroke-width="0.40" />
<text x="649.30" y="34.05" font-size="4.75px" font-weight="normal" text-anchor="start" fill="#333" >Male</text>
<text x="162.80" y="116.60" font-size="13.50px" font-weight="bold" text-anchor="start" fill="#000" >g</text>
<line x1="188.10" y1="192.40" x2="230.30" y2="192.40" stroke="#a6b0ae" stroke-width="0.55" stroke-dasharray="4 2.9" stroke-dashoffset="0"/>
<line x1="188.10" y1="175.60" x2="230.30" y2="175.60" stroke="#a6b0ae" stroke-width="0.55" stroke-dasharray="4 2.9" stroke-dashoffset="0"/>
<line x1="188.10" y1="158.80" x2="230.30" y2="158.80" stroke="#a6b0ae" stroke-width="0.55" stroke-dasharray="4 2.9" stroke-dashoffset="0"/>
<line x1="188.10" y1="142.00" x2="230.30" y2="142.00" stroke="#a6b0ae" stroke-width="0.55" stroke-dasharray="4 2.9" stroke-dashoffset="0"/>
<line x1="188.10" y1="125.20" x2="230.30" y2="125.20" stroke="#a6b0ae" stroke-width="0.55" stroke-dasharray="4 2.9" stroke-dashoffset="0"/>
<line x1="188.10" y1="200.80" x2="230.30" y2="200.80" stroke="#465252" stroke-width="0.55" stroke-dasharray="4 2.9" stroke-dashoffset="0"/>
<line x1="188.10" y1="184.00" x2="230.30" y2="184.00" stroke="#465252" stroke-width="0.55" stroke-dasharray="4 2.9" stroke-dashoffset="0"/>
<line x1="188.10" y1="167.20" x2="230.30" y2="167.20" stroke="#465252" stroke-width="0.55" stroke-dasharray="4 2.9" stroke-dashoffset="0"/>
<line x1="188.10" y1="150.40" x2="230.30" y2="150.40" stroke="#465252" stroke-width="0.55" stroke-dasharray="4 2.9" stroke-dashoffset="0"/>
<line x1="188.10" y1="133.60" x2="230.30" y2="133.60" stroke="#465252" stroke-width="0.55" stroke-dasharray="4 2.9" stroke-dashoffset="0"/>
<line x1="199.45" y1="121.70" x2="199.45" y2="204.50" stroke="#465252" stroke-width="0.55" stroke-dasharray="4 2.9" stroke-dashoffset="0"/>
<line x1="218.15" y1="121.70" x2="218.15" y2="204.50" stroke="#465252" stroke-width="0.55" stroke-dasharray="4 2.9" stroke-dashoffset="0"/>
<rect x="192.10" y="195.76" width="14.70" height="5.04" fill="#3c9be6" stroke="#2a3a3a" stroke-width="0.40" />
<rect x="192.10" y="187.36" width="14.70" height="8.40" fill="#f05a46" stroke="#2a3a3a" stroke-width="0.40" />
<rect x="192.10" y="125.20" width="14.70" height="62.16" fill="#40dc1e" stroke="#2a3a3a" stroke-width="0.40" />
<rect x="210.60" y="199.12" width="15.10" height="1.68" fill="#3c9be6" stroke="#2a3a3a" stroke-width="0.40" />
<rect x="210.60" y="177.28" width="15.10" height="21.84" fill="#40dc1e" stroke="#2a3a3a" stroke-width="0.40" />
<rect x="188.10" y="121.70" width="42.20" height="82.80" fill="none" stroke="#000" stroke-width="1.45" />
<line x1="185.40" y1="200.80" x2="188.10" y2="200.80" stroke="#000" stroke-width="1.10" />
<text x="183.50" y="203.30" font-size="7.00px" font-weight="bold" text-anchor="end" fill="#000" >0.0</text>
<line x1="185.40" y1="184.00" x2="188.10" y2="184.00" stroke="#000" stroke-width="1.10" />
<text x="183.50" y="186.50" font-size="7.00px" font-weight="bold" text-anchor="end" fill="#000" >10</text>
<line x1="185.40" y1="167.20" x2="188.10" y2="167.20" stroke="#000" stroke-width="1.10" />
<text x="183.50" y="169.70" font-size="7.00px" font-weight="bold" text-anchor="end" fill="#000" >20</text>
<line x1="185.40" y1="150.40" x2="188.10" y2="150.40" stroke="#000" stroke-width="1.10" />
<text x="183.50" y="152.90" font-size="7.00px" font-weight="bold" text-anchor="end" fill="#000" >30</text>
<line x1="185.40" y1="133.60" x2="188.10" y2="133.60" stroke="#000" stroke-width="1.10" />
<text x="183.50" y="136.10" font-size="7.00px" font-weight="bold" text-anchor="end" fill="#000" >40</text>
<text x="199.45" y="212.10" font-size="7.00px" font-weight="bold" text-anchor="middle" fill="#000" >N</text>
<text x="218.15" y="212.10" font-size="7.00px" font-weight="bold" text-anchor="middle" fill="#000" >P</text>
<text x="171.70" y="163.00" font-size="7.00px" font-weight="bold" text-anchor="middle" fill="#000" transform="rotate(-90 171.70 163.00)" >Race (Count)</text>
<text x="233.00" y="124.90" font-size="4.50px" font-weight="bold" text-anchor="start" fill="#111" text-decoration="underline">Race</text>
<rect x="233.80" y="128.55" width="6.30" height="6.30" fill="#40dc1e" stroke="#8a9a9a" stroke-width="0.40" />
<text x="243.30" y="133.35" font-size="4.75px" font-weight="normal" text-anchor="start" fill="#333" >White</text>
<rect x="233.80" y="136.85" width="6.30" height="6.30" fill="#f05a46" stroke="#8a9a9a" stroke-width="0.40" />
<text x="243.30" y="141.65" font-size="4.75px" font-weight="normal" text-anchor="start" fill="#333" >Black</text>
<rect x="233.80" y="145.05" width="6.30" height="6.30" fill="#3c9be6" stroke="#8a9a9a" stroke-width="0.40" />
<text x="243.30" y="149.85" font-size="4.75px" font-weight="normal" text-anchor="start" fill="#333" >Other</text>
<text x="264.40" y="116.40" font-size="13.50px" font-weight="bold" text-anchor="start" fill="#000" >h</text>
<line x1="291.30" y1="193.76" x2="333.60" y2="193.76" stroke="#a6b0ae" stroke-width="0.55" stroke-dasharray="4 2.9" stroke-dashoffset="0"/>
<line x1="291.30" y1="170.64" x2="333.60" y2="170.64" stroke="#a6b0ae" stroke-width="0.55" stroke-dasharray="4 2.9" stroke-dashoffset="0"/>
<line x1="291.30" y1="147.52" x2="333.60" y2="147.52" stroke="#a6b0ae" stroke-width="0.55" stroke-dasharray="4 2.9" stroke-dashoffset="0"/>
<line x1="291.30" y1="124.40" x2="333.60" y2="124.40" stroke="#a6b0ae" stroke-width="0.55" stroke-dasharray="4 2.9" stroke-dashoffset="0"/>
<line x1="291.30" y1="182.20" x2="333.60" y2="182.20" stroke="#465252" stroke-width="0.55" stroke-dasharray="4 2.9" stroke-dashoffset="0"/>
<line x1="291.30" y1="159.08" x2="333.60" y2="159.08" stroke="#465252" stroke-width="0.55" stroke-dasharray="4 2.9" stroke-dashoffset="0"/>
<line x1="291.30" y1="135.96" x2="333.60" y2="135.96" stroke="#465252" stroke-width="0.55" stroke-dasharray="4 2.9" stroke-dashoffset="0"/>
<line x1="303.00" y1="121.20" x2="303.00" y2="204.90" stroke="#465252" stroke-width="0.55" stroke-dasharray="4 2.9" stroke-dashoffset="0"/>
<line x1="322.20" y1="121.20" x2="322.20" y2="204.90" stroke="#465252" stroke-width="0.55" stroke-dasharray="4 2.9" stroke-dashoffset="0"/>
<line x1="303.20" y1="144.00" x2="303.20" y2="158.00" stroke="#2b4246" stroke-width="1.35" />
<line x1="303.20" y1="179.20" x2="303.20" y2="199.70" stroke="#2b4246" stroke-width="1.35" />
<rect x="295.80" y="158.00" width="14.80" height="21.20" fill="none" stroke="#2b4246" stroke-width="1.35" />
<line x1="295.80" y1="163.50" x2="310.60" y2="163.50" stroke="#2b4246" stroke-width="2.40" />
<line x1="322.30" y1="151.90" x2="322.30" y2="158.00" stroke="#2b4246" stroke-width="1.35" />
<line x1="322.30" y1="184.90" x2="322.30" y2="194.40" stroke="#2b4246" stroke-width="1.35" />
<rect x="314.90" y="158.00" width="14.80" height="26.90" fill="none" stroke="#2b4246" stroke-width="1.35" />
<line x1="314.90" y1="163.50" x2="329.70" y2="163.50" stroke="#2b4246" stroke-width="2.40" />
<circle cx="300.68" cy="125.30" r="1.60" fill="#0a0adc" stroke="#000" stroke-width="0.70"/>
<circle cx="303.64" cy="142.84" r="1.60" fill="#0a0adc" stroke="#000" stroke-width="0.70"/>
<circle cx="301.03" cy="148.40" r="1.60" fill="#0a0adc" stroke="#000" stroke-width="0.70"/>
<circle cx="307.11" cy="147.88" r="1.60" fill="#0a0adc" stroke="#000" stroke-width="0.70"/>
<circle cx="308.50" cy="148.92" r="1.60" fill="#0a0adc" stroke="#000" stroke-width="0.70"/>
<circle cx="308.85" cy="151.01" r="1.60" fill="#0a0adc" stroke="#000" stroke-width="0.70"/>
<circle cx="306.24" cy="151.88" r="1.60" fill="#0a0adc" stroke="#000" stroke-width="0.70"/>
<circle cx="309.20" cy="152.75" r="1.60" fill="#0a0adc" stroke="#000" stroke-width="0.70"/>
<circle cx="301.55" cy="154.48" r="1.60" fill="#0a0adc" stroke="#000" stroke-width="0.70"/>
<circle cx="302.77" cy="155.35" r="1.60" fill="#0a0adc" stroke="#000" stroke-width="0.70"/>
<circle cx="305.37" cy="157.09" r="1.60" fill="#0a0adc" stroke="#000" stroke-width="0.70"/>
<circle cx="299.81" cy="158.83" r="1.60" fill="#0a0adc" stroke="#000" stroke-width="0.70"/>
<circle cx="302.25" cy="158.31" r="1.60" fill="#0a0adc" stroke="#000" stroke-width="0.70"/>
<circle cx="306.24" cy="159.35" r="1.60" fill="#0a0adc" stroke="#000" stroke-width="0.70"/>
<circle cx="309.72" cy="159.70" r="1.60" fill="#0a0adc" stroke="#000" stroke-width="0.70"/>
<circle cx="303.98" cy="160.56" r="1.60" fill="#0a0adc" stroke="#000" stroke-width="0.70"/>
<circle cx="306.76" cy="161.43" r="1.60" fill="#0a0adc" stroke="#000" stroke-width="0.70"/>
<circle cx="296.69" cy="162.82" r="1.60" fill="#0a0adc" stroke="#000" stroke-width="0.70"/>
<circle cx="298.77" cy="163.52" r="1.60" fill="#0a0adc" stroke="#000" stroke-width="0.70"/>
<circle cx="297.56" cy="165.26" r="1.60" fill="#0a0adc" stroke="#000" stroke-width="0.70"/>
<circle cx="304.50" cy="164.56" r="1.60" fill="#0a0adc" stroke="#000" stroke-width="0.70"/>
<circle cx="299.29" cy="170.12" r="1.60" fill="#0a0adc" stroke="#000" stroke-width="0.70"/>
<circle cx="298.42" cy="171.86" r="1.60" fill="#0a0adc" stroke="#000" stroke-width="0.70"/>
<circle cx="305.37" cy="171.86" r="1.60" fill="#0a0adc" stroke="#000" stroke-width="0.70"/>
<circle cx="307.11" cy="172.73" r="1.60" fill="#0a0adc" stroke="#000" stroke-width="0.70"/>
<circle cx="307.98" cy="173.94" r="1.60" fill="#0a0adc" stroke="#000" stroke-width="0.70"/>
<circle cx="297.56" cy="178.46" r="1.60" fill="#0a0adc" stroke="#000" stroke-width="0.70"/>
<circle cx="303.98" cy="177.94" r="1.60" fill="#0a0adc" stroke="#000" stroke-width="0.70"/>
<circle cx="306.76" cy="177.94" r="1.60" fill="#0a0adc" stroke="#000" stroke-width="0.70"/>
<circle cx="302.25" cy="180.20" r="1.60" fill="#0a0adc" stroke="#000" stroke-width="0.70"/>
<circle cx="295.82" cy="184.37" r="1.60" fill="#0a0adc" stroke="#000" stroke-width="0.70"/>
<circle cx="297.56" cy="184.02" r="1.60" fill="#0a0adc" stroke="#000" stroke-width="0.70"/>
<circle cx="303.29" cy="184.89" r="1.60" fill="#0a0adc" stroke="#000" stroke-width="0.70"/>
<circle cx="308.85" cy="184.54" r="1.60" fill="#0a0adc" stroke="#000" stroke-width="0.70"/>
<circle cx="302.25" cy="187.49" r="1.60" fill="#0a0adc" stroke="#000" stroke-width="0.70"/>
<circle cx="305.37" cy="187.15" r="1.60" fill="#0a0adc" stroke="#000" stroke-width="0.70"/>
<circle cx="307.11" cy="191.84" r="1.60" fill="#0a0adc" stroke="#000" stroke-width="0.70"/>
<circle cx="308.50" cy="193.57" r="1.60" fill="#0a0adc" stroke="#000" stroke-width="0.70"/>
<circle cx="309.20" cy="200.52" r="1.60" fill="#0a0adc" stroke="#000" stroke-width="0.70"/>
<circle cx="301.03" cy="162.30" r="1.60" fill="#0a0adc" stroke="#000" stroke-width="0.70"/>
<circle cx="303.98" cy="163.52" r="1.60" fill="#0a0adc" stroke="#000" stroke-width="0.70"/>
<circle cx="308.85" cy="177.94" r="1.60" fill="#0a0adc" stroke="#000" stroke-width="0.70"/>
<circle cx="299.29" cy="173.94" r="1.60" fill="#0a0adc" stroke="#000" stroke-width="0.70"/>
<circle cx="305.03" cy="159.70" r="1.60" fill="#0a0adc" stroke="#000" stroke-width="0.70"/>
<circle cx="314.93" cy="149.79" r="1.60" fill="#c00000" stroke="#000" stroke-width="0.70"/>
<circle cx="323.62" cy="149.79" r="1.60" fill="#c00000" stroke="#000" stroke-width="0.70"/>
<circle cx="325.87" cy="154.83" r="1.60" fill="#c00000" stroke="#000" stroke-width="0.70"/>
<circle cx="329.17" cy="156.22" r="1.60" fill="#c00000" stroke="#000" stroke-width="0.70"/>
<circle cx="315.80" cy="159.70" r="1.60" fill="#c00000" stroke="#000" stroke-width="0.70"/>
<circle cx="325.87" cy="158.83" r="1.60" fill="#c00000" stroke="#000" stroke-width="0.70"/>
<circle cx="321.01" cy="162.82" r="1.60" fill="#c00000" stroke="#000" stroke-width="0.70"/>
<circle cx="328.83" cy="171.86" r="1.60" fill="#c00000" stroke="#000" stroke-width="0.70"/>
<circle cx="315.80" cy="178.46" r="1.60" fill="#c00000" stroke="#000" stroke-width="0.70"/>
<circle cx="315.45" cy="187.49" r="1.60" fill="#c00000" stroke="#000" stroke-width="0.70"/>
<circle cx="317.19" cy="188.36" r="1.60" fill="#c00000" stroke="#000" stroke-width="0.70"/>
<circle cx="328.31" cy="190.97" r="1.60" fill="#c00000" stroke="#000" stroke-width="0.70"/>
<circle cx="328.83" cy="194.44" r="1.60" fill="#c00000" stroke="#000" stroke-width="0.70"/>
<rect x="291.30" y="121.20" width="42.30" height="83.70" fill="none" stroke="#000" stroke-width="1.45" />
<line x1="288.60" y1="182.20" x2="291.30" y2="182.20" stroke="#000" stroke-width="1.10" />
<text x="286.70" y="184.70" font-size="7.00px" font-weight="bold" text-anchor="end" fill="#000" >40</text>
<line x1="288.60" y1="159.08" x2="291.30" y2="159.08" stroke="#000" stroke-width="1.10" />
<text x="286.70" y="161.58" font-size="7.00px" font-weight="bold" text-anchor="end" fill="#000" >60</text>
<line x1="288.60" y1="135.96" x2="291.30" y2="135.96" stroke="#000" stroke-width="1.10" />
<text x="286.70" y="138.46" font-size="7.00px" font-weight="bold" text-anchor="end" fill="#000" >80</text>
<text x="303.00" y="212.50" font-size="7.00px" font-weight="bold" text-anchor="middle" fill="#000" >N</text>
<text x="322.20" y="212.50" font-size="7.00px" font-weight="bold" text-anchor="middle" fill="#000" >P</text>
<text x="275.80" y="163.00" font-size="7.00px" font-weight="bold" text-anchor="middle" fill="#000" transform="rotate(-90 275.80 163.00)" >Age</text>
<text x="311.20" y="128.10" font-size="5.60px" font-weight="bold" text-anchor="start" fill="#222" >p = 0.76</text>
<text x="366.60" y="116.40" font-size="13.50px" font-weight="bold" text-anchor="start" fill="#000" >l</text>
<line x1="392.40" y1="187.75" x2="434.30" y2="187.75" stroke="#a6b0ae" stroke-width="0.55" stroke-dasharray="4 2.9" stroke-dashoffset="0"/>
<line x1="392.40" y1="163.25" x2="434.30" y2="163.25" stroke="#a6b0ae" stroke-width="0.55" stroke-dasharray="4 2.9" stroke-dashoffset="0"/>
<line x1="392.40" y1="138.75" x2="434.30" y2="138.75" stroke="#a6b0ae" stroke-width="0.55" stroke-dasharray="4 2.9" stroke-dashoffset="0"/>
<line x1="392.40" y1="200.00" x2="434.30" y2="200.00" stroke="#465252" stroke-width="0.55" stroke-dasharray="4 2.9" stroke-dashoffset="0"/>
<line x1="392.40" y1="175.50" x2="434.30" y2="175.50" stroke="#465252" stroke-width="0.55" stroke-dasharray="4 2.9" stroke-dashoffset="0"/>
<line x1="392.40" y1="151.00" x2="434.30" y2="151.00" stroke="#465252" stroke-width="0.55" stroke-dasharray="4 2.9" stroke-dashoffset="0"/>
<line x1="392.40" y1="126.50" x2="434.30" y2="126.50" stroke="#465252" stroke-width="0.55" stroke-dasharray="4 2.9" stroke-dashoffset="0"/>
<line x1="404.60" y1="121.20" x2="404.60" y2="204.90" stroke="#465252" stroke-width="0.55" stroke-dasharray="4 2.9" stroke-dashoffset="0"/>
<line x1="423.70" y1="121.20" x2="423.70" y2="204.90" stroke="#465252" stroke-width="0.55" stroke-dasharray="4 2.9" stroke-dashoffset="0"/>
<line x1="404.50" y1="159.70" x2="404.50" y2="175.30" stroke="#2b4246" stroke-width="1.35" />
<line x1="404.50" y1="188.40" x2="404.50" y2="199.70" stroke="#2b4246" stroke-width="1.35" />
<rect x="397.30" y="175.30" width="14.40" height="13.10" fill="none" stroke="#2b4246" stroke-width="1.35" />
<line x1="397.30" y1="186.10" x2="411.70" y2="186.10" stroke="#2b4246" stroke-width="2.40" />
<line x1="423.30" y1="173.90" x2="423.30" y2="181.90" stroke="#2b4246" stroke-width="1.35" />
<line x1="423.30" y1="187.50" x2="423.30" y2="187.50" stroke="#2b4246" stroke-width="1.35" />
<rect x="415.80" y="181.90" width="15.00" height="5.60" fill="none" stroke="#2b4246" stroke-width="1.35" />
<line x1="415.80" y1="183.70" x2="430.80" y2="183.70" stroke="#2b4246" stroke-width="2.40" />
<circle cx="403.03" cy="125.30" r="1.60" fill="#0a0adc" stroke="#000" stroke-width="0.70"/>
<circle cx="409.63" cy="125.82" r="1.60" fill="#0a0adc" stroke="#000" stroke-width="0.70"/>
<circle cx="406.85" cy="144.41" r="1.60" fill="#0a0adc" stroke="#000" stroke-width="0.70"/>
<circle cx="409.11" cy="146.32" r="1.60" fill="#0a0adc" stroke="#000" stroke-width="0.70"/>
<circle cx="397.82" cy="159.70" r="1.60" fill="#0a0adc" stroke="#000" stroke-width="0.70"/>
<circle cx="399.03" cy="164.04" r="1.60" fill="#0a0adc" stroke="#000" stroke-width="0.70"/>
<circle cx="407.89" cy="165.26" r="1.60" fill="#0a0adc" stroke="#000" stroke-width="0.70"/>
<circle cx="399.03" cy="170.47" r="1.60" fill="#0a0adc" stroke="#000" stroke-width="0.70"/>
<circle cx="405.98" cy="174.46" r="1.60" fill="#0a0adc" stroke="#000" stroke-width="0.70"/>
<circle cx="408.59" cy="174.81" r="1.60" fill="#0a0adc" stroke="#000" stroke-width="0.70"/>
<circle cx="401.29" cy="175.68" r="1.60" fill="#0a0adc" stroke="#000" stroke-width="0.70"/>
<circle cx="397.82" cy="178.81" r="1.60" fill="#0a0adc" stroke="#000" stroke-width="0.70"/>
<circle cx="400.08" cy="177.94" r="1.60" fill="#0a0adc" stroke="#000" stroke-width="0.70"/>
<circle cx="402.51" cy="178.81" r="1.60" fill="#0a0adc" stroke="#000" stroke-width="0.70"/>
<circle cx="404.77" cy="180.54" r="1.60" fill="#0a0adc" stroke="#000" stroke-width="0.70"/>
<circle cx="407.37" cy="181.41" r="1.60" fill="#0a0adc" stroke="#000" stroke-width="0.70"/>
<circle cx="400.77" cy="182.63" r="1.60" fill="#0a0adc" stroke="#000" stroke-width="0.70"/>
<circle cx="398.34" cy="184.89" r="1.60" fill="#0a0adc" stroke="#000" stroke-width="0.70"/>
<circle cx="403.55" cy="184.54" r="1.60" fill="#0a0adc" stroke="#000" stroke-width="0.70"/>
<circle cx="405.98" cy="185.41" r="1.60" fill="#0a0adc" stroke="#000" stroke-width="0.70"/>
<circle cx="396.95" cy="188.36" r="1.60" fill="#0a0adc" stroke="#000" stroke-width="0.70"/>
<circle cx="399.56" cy="187.49" r="1.60" fill="#0a0adc" stroke="#000" stroke-width="0.70"/>
<circle cx="401.81" cy="189.23" r="1.60" fill="#0a0adc" stroke="#000" stroke-width="0.70"/>
<circle cx="404.25" cy="188.88" r="1.60" fill="#0a0adc" stroke="#000" stroke-width="0.70"/>
<circle cx="407.03" cy="187.84" r="1.60" fill="#0a0adc" stroke="#000" stroke-width="0.70"/>
<circle cx="409.46" cy="189.58" r="1.60" fill="#0a0adc" stroke="#000" stroke-width="0.70"/>
<circle cx="411.72" cy="189.23" r="1.60" fill="#0a0adc" stroke="#000" stroke-width="0.70"/>
<circle cx="398.69" cy="190.97" r="1.60" fill="#0a0adc" stroke="#000" stroke-width="0.70"/>
<circle cx="400.77" cy="191.84" r="1.60" fill="#0a0adc" stroke="#000" stroke-width="0.70"/>
<circle cx="403.55" cy="192.36" r="1.60" fill="#0a0adc" stroke="#000" stroke-width="0.70"/>
<circle cx="402.16" cy="194.44" r="1.60" fill="#0a0adc" stroke="#000" stroke-width="0.70"/>
<circle cx="397.82" cy="197.05" r="1.60" fill="#0a0adc" stroke="#000" stroke-width="0.70"/>
<circle cx="400.42" cy="196.53" r="1.60" fill="#0a0adc" stroke="#000" stroke-width="0.70"/>
<circle cx="403.03" cy="197.05" r="1.60" fill="#0a0adc" stroke="#000" stroke-width="0.70"/>
<circle cx="399.03" cy="200.52" r="1.60" fill="#0a0adc" stroke="#000" stroke-width="0.70"/>
<circle cx="411.72" cy="201.04" r="1.60" fill="#0a0adc" stroke="#000" stroke-width="0.70"/>
<circle cx="405.29" cy="186.62" r="1.60" fill="#0a0adc" stroke="#000" stroke-width="0.70"/>
<circle cx="408.24" cy="190.97" r="1.60" fill="#0a0adc" stroke="#000" stroke-width="0.70"/>
<circle cx="401.29" cy="185.76" r="1.60" fill="#0a0adc" stroke="#000" stroke-width="0.70"/>
<circle cx="403.90" cy="182.28" r="1.60" fill="#0a0adc" stroke="#000" stroke-width="0.70"/>
<circle cx="406.50" cy="177.94" r="1.60" fill="#0a0adc" stroke="#000" stroke-width="0.70"/>
<circle cx="399.56" cy="181.41" r="1.60" fill="#0a0adc" stroke="#000" stroke-width="0.70"/>
<circle cx="397.30" cy="183.15" r="1.60" fill="#0a0adc" stroke="#000" stroke-width="0.70"/>
<circle cx="402.51" cy="187.84" r="1.60" fill="#0a0adc" stroke="#000" stroke-width="0.70"/>
<circle cx="429.96" cy="138.33" r="1.60" fill="#c00000" stroke="#000" stroke-width="0.70"/>
<circle cx="425.27" cy="169.60" r="1.60" fill="#c00000" stroke="#000" stroke-width="0.70"/>
<circle cx="428.74" cy="173.94" r="1.60" fill="#c00000" stroke="#000" stroke-width="0.70"/>
<circle cx="429.09" cy="181.93" r="1.60" fill="#c00000" stroke="#000" stroke-width="0.70"/>
<circle cx="428.57" cy="184.89" r="1.60" fill="#c00000" stroke="#000" stroke-width="0.70"/>
<circle cx="426.83" cy="186.97" r="1.60" fill="#c00000" stroke="#000" stroke-width="0.70"/>
<circle cx="424.23" cy="188.01" r="1.60" fill="#c00000" stroke="#000" stroke-width="0.70"/>
<circle cx="419.19" cy="187.49" r="1.60" fill="#c00000" stroke="#000" stroke-width="0.70"/>
<circle cx="416.06" cy="186.62" r="1.60" fill="#c00000" stroke="#000" stroke-width="0.70"/>
<circle cx="427.35" cy="196.18" r="1.60" fill="#c00000" stroke="#000" stroke-width="0.70"/>
<circle cx="423.01" cy="197.92" r="1.60" fill="#c00000" stroke="#000" stroke-width="0.70"/>
<rect x="392.40" y="121.20" width="41.90" height="83.70" fill="none" stroke="#000" stroke-width="1.45" />
<line x1="389.70" y1="200.00" x2="392.40" y2="200.00" stroke="#000" stroke-width="1.10" />
<text x="387.80" y="202.50" font-size="7.00px" font-weight="bold" text-anchor="end" fill="#000" >20</text>
<line x1="389.70" y1="175.50" x2="392.40" y2="175.50" stroke="#000" stroke-width="1.10" />
<text x="387.80" y="178.00" font-size="7.00px" font-weight="bold" text-anchor="end" fill="#000" >30</text>
<line x1="389.70" y1="151.00" x2="392.40" y2="151.00" stroke="#000" stroke-width="1.10" />
<text x="387.80" y="153.50" font-size="7.00px" font-weight="bold" text-anchor="end" fill="#000" >40</text>
<line x1="389.70" y1="126.50" x2="392.40" y2="126.50" stroke="#000" stroke-width="1.10" />
<text x="387.80" y="129.00" font-size="7.00px" font-weight="bold" text-anchor="end" fill="#000" >50</text>
<text x="404.60" y="212.50" font-size="7.00px" font-weight="bold" text-anchor="middle" fill="#000" >N</text>
<text x="423.70" y="212.50" font-size="7.00px" font-weight="bold" text-anchor="middle" fill="#000" >P</text>
<text x="374.80" y="163.00" font-size="7.00px" font-weight="bold" text-anchor="middle" fill="#000" transform="rotate(-90 374.80 163.00)" >BMI</text>
<text x="412.80" y="128.10" font-size="5.60px" font-weight="bold" text-anchor="start" fill="#222" >p = 0.65</text>
<text x="467.60" y="116.00" font-size="13.50px" font-weight="bold" text-anchor="start" fill="#000" >j</text>
<line x1="494.00" y1="192.45" x2="535.40" y2="192.45" stroke="#a6b0ae" stroke-width="0.55" stroke-dasharray="4 2.9" stroke-dashoffset="0"/>
<line x1="494.00" y1="175.55" x2="535.40" y2="175.55" stroke="#a6b0ae" stroke-width="0.55" stroke-dasharray="4 2.9" stroke-dashoffset="0"/>
<line x1="494.00" y1="158.65" x2="535.40" y2="158.65" stroke="#a6b0ae" stroke-width="0.55" stroke-dasharray="4 2.9" stroke-dashoffset="0"/>
<line x1="494.00" y1="141.75" x2="535.40" y2="141.75" stroke="#a6b0ae" stroke-width="0.55" stroke-dasharray="4 2.9" stroke-dashoffset="0"/>
<line x1="494.00" y1="124.85" x2="535.40" y2="124.85" stroke="#a6b0ae" stroke-width="0.55" stroke-dasharray="4 2.9" stroke-dashoffset="0"/>
<line x1="494.00" y1="200.90" x2="535.40" y2="200.90" stroke="#465252" stroke-width="0.55" stroke-dasharray="4 2.9" stroke-dashoffset="0"/>
<line x1="494.00" y1="184.00" x2="535.40" y2="184.00" stroke="#465252" stroke-width="0.55" stroke-dasharray="4 2.9" stroke-dashoffset="0"/>
<line x1="494.00" y1="167.10" x2="535.40" y2="167.10" stroke="#465252" stroke-width="0.55" stroke-dasharray="4 2.9" stroke-dashoffset="0"/>
<line x1="494.00" y1="150.20" x2="535.40" y2="150.20" stroke="#465252" stroke-width="0.55" stroke-dasharray="4 2.9" stroke-dashoffset="0"/>
<line x1="494.00" y1="133.30" x2="535.40" y2="133.30" stroke="#465252" stroke-width="0.55" stroke-dasharray="4 2.9" stroke-dashoffset="0"/>
<line x1="505.35" y1="121.60" x2="505.35" y2="204.90" stroke="#465252" stroke-width="0.55" stroke-dasharray="4 2.9" stroke-dashoffset="0"/>
<line x1="524.20" y1="121.60" x2="524.20" y2="204.90" stroke="#465252" stroke-width="0.55" stroke-dasharray="4 2.9" stroke-dashoffset="0"/>
<rect x="498.00" y="194.14" width="14.70" height="6.76" fill="#3c9be6" stroke="#2a3a3a" stroke-width="0.40" />
<rect x="498.00" y="142.60" width="14.70" height="51.54" fill="#f05a46" stroke="#2a3a3a" stroke-width="0.40" />
<rect x="498.00" y="124.85" width="14.70" height="17.75" fill="#40dc1e" stroke="#2a3a3a" stroke-width="0.40" />
<rect x="516.70" y="192.45" width="15.00" height="8.45" fill="#f05a46" stroke="#2a3a3a" stroke-width="0.40" />
<rect x="516.70" y="177.24" width="15.00" height="15.21" fill="#40dc1e" stroke="#2a3a3a" stroke-width="0.40" />
<rect x="494.00" y="121.60" width="41.40" height="83.30" fill="none" stroke="#000" stroke-width="1.45" />
<line x1="491.30" y1="200.90" x2="494.00" y2="200.90" stroke="#000" stroke-width="1.10" />
<text x="489.40" y="203.40" font-size="7.00px" font-weight="bold" text-anchor="end" fill="#000" >0</text>
<line x1="491.30" y1="184.00" x2="494.00" y2="184.00" stroke="#000" stroke-width="1.10" />
<text x="489.40" y="186.50" font-size="7.00px" font-weight="bold" text-anchor="end" fill="#000" >10</text>
<line x1="491.30" y1="167.10" x2="494.00" y2="167.10" stroke="#000" stroke-width="1.10" />
<text x="489.40" y="169.60" font-size="7.00px" font-weight="bold" text-anchor="end" fill="#000" >20</text>
<line x1="491.30" y1="150.20" x2="494.00" y2="150.20" stroke="#000" stroke-width="1.10" />
<text x="489.40" y="152.70" font-size="7.00px" font-weight="bold" text-anchor="end" fill="#000" >30</text>
<line x1="491.30" y1="133.30" x2="494.00" y2="133.30" stroke="#000" stroke-width="1.10" />
<text x="489.40" y="135.80" font-size="7.00px" font-weight="bold" text-anchor="end" fill="#000" >40</text>
<text x="505.35" y="212.50" font-size="7.00px" font-weight="bold" text-anchor="middle" fill="#000" >N</text>
<text x="524.20" y="212.50" font-size="7.00px" font-weight="bold" text-anchor="middle" fill="#000" >P</text>
<text x="478.30" y="163.50" font-size="7.00px" font-weight="bold" text-anchor="middle" fill="#000" transform="rotate(-90 478.30 163.50)" >Collection DMT (Count)</text>
<text x="538.30" y="125.00" font-size="4.50px" font-weight="bold" text-anchor="start" fill="#111" text-decoration="underline">Collection DMT</text>
<rect x="539.10" y="128.85" width="6.30" height="6.30" fill="#40dc1e" stroke="#8a9a9a" stroke-width="0.40" />
<text x="548.60" y="133.65" font-size="4.75px" font-weight="normal" text-anchor="start" fill="#333" >Yes</text>
<rect x="539.10" y="136.85" width="6.30" height="6.30" fill="#f05a46" stroke="#8a9a9a" stroke-width="0.40" />
<text x="548.60" y="141.65" font-size="4.75px" font-weight="normal" text-anchor="start" fill="#333" >No</text>
<rect x="539.10" y="145.15" width="6.30" height="6.30" fill="#3c9be6" stroke="#8a9a9a" stroke-width="0.40" />
<text x="548.60" y="149.95" font-size="4.75px" font-weight="normal" text-anchor="start" fill="#333" >Unknown</text>
<text x="570.00" y="116.40" font-size="13.50px" font-weight="bold" text-anchor="start" fill="#000" >k</text>
<line x1="594.70" y1="192.30" x2="636.60" y2="192.30" stroke="#a6b0ae" stroke-width="0.55" stroke-dasharray="4 2.9" stroke-dashoffset="0"/>
<line x1="594.70" y1="175.10" x2="636.60" y2="175.10" stroke="#a6b0ae" stroke-width="0.55" stroke-dasharray="4 2.9" stroke-dashoffset="0"/>
<line x1="594.70" y1="157.90" x2="636.60" y2="157.90" stroke="#a6b0ae" stroke-width="0.55" stroke-dasharray="4 2.9" stroke-dashoffset="0"/>
<line x1="594.70" y1="140.70" x2="636.60" y2="140.70" stroke="#a6b0ae" stroke-width="0.55" stroke-dasharray="4 2.9" stroke-dashoffset="0"/>
<line x1="594.70" y1="123.50" x2="636.60" y2="123.50" stroke="#a6b0ae" stroke-width="0.55" stroke-dasharray="4 2.9" stroke-dashoffset="0"/>
<line x1="594.70" y1="200.90" x2="636.60" y2="200.90" stroke="#465252" stroke-width="0.55" stroke-dasharray="4 2.9" stroke-dashoffset="0"/>
<line x1="594.70" y1="183.70" x2="636.60" y2="183.70" stroke="#465252" stroke-width="0.55" stroke-dasharray="4 2.9" stroke-dashoffset="0"/>
<line x1="594.70" y1="166.50" x2="636.60" y2="166.50" stroke="#465252" stroke-width="0.55" stroke-dasharray="4 2.9" stroke-dashoffset="0"/>
<line x1="594.70" y1="149.30" x2="636.60" y2="149.30" stroke="#465252" stroke-width="0.55" stroke-dasharray="4 2.9" stroke-dashoffset="0"/>
<line x1="594.70" y1="132.10" x2="636.60" y2="132.10" stroke="#465252" stroke-width="0.55" stroke-dasharray="4 2.9" stroke-dashoffset="0"/>
<line x1="606.10" y1="121.20" x2="606.10" y2="204.90" stroke="#465252" stroke-width="0.55" stroke-dasharray="4 2.9" stroke-dashoffset="0"/>
<line x1="625.00" y1="121.20" x2="625.00" y2="204.90" stroke="#465252" stroke-width="0.55" stroke-dasharray="4 2.9" stroke-dashoffset="0"/>
<rect x="598.70" y="142.42" width="14.80" height="58.48" fill="#ff6a14" stroke="#2a3a3a" stroke-width="0.40" />
<rect x="598.70" y="140.70" width="14.80" height="1.72" fill="#ff9a40" stroke="#2a3a3a" stroke-width="0.40" />
<rect x="598.70" y="132.10" width="14.80" height="8.60" fill="#40dc1e" stroke="#2a3a3a" stroke-width="0.40" />
<rect x="598.70" y="126.94" width="14.80" height="5.16" fill="#4cb98f" stroke="#2a3a3a" stroke-width="0.40" />
<rect x="598.70" y="125.22" width="14.80" height="1.72" fill="#96e1e8" stroke="#2a3a3a" stroke-width="0.40" />
<rect x="617.40" y="192.30" width="15.20" height="8.60" fill="#ff6a14" stroke="#2a3a3a" stroke-width="0.40" />
<rect x="617.40" y="190.58" width="15.20" height="1.72" fill="#f0644e" stroke="#2a3a3a" stroke-width="0.40" />
<rect x="617.40" y="188.86" width="15.20" height="1.72" fill="#ff1030" stroke="#2a3a3a" stroke-width="0.40" />
<rect x="617.40" y="187.14" width="15.20" height="1.72" fill="#f05a96" stroke="#2a3a3a" stroke-width="0.40" />
<rect x="617.40" y="185.42" width="15.20" height="1.72" fill="#86a843" stroke="#2a3a3a" stroke-width="0.40" />
<rect x="617.40" y="183.70" width="15.20" height="1.72" fill="#40dc1e" stroke="#2a3a3a" stroke-width="0.40" />
<rect x="617.40" y="181.98" width="15.20" height="1.72" fill="#8cf05a" stroke="#2a3a3a" stroke-width="0.40" />
<rect x="617.40" y="180.26" width="15.20" height="1.72" fill="#4cb98f" stroke="#2a3a3a" stroke-width="0.40" />
<rect x="617.40" y="178.54" width="15.20" height="1.72" fill="#3c9be6" stroke="#2a3a3a" stroke-width="0.40" />
<rect x="617.40" y="176.82" width="15.20" height="1.72" fill="#96e1e8" stroke="#2a3a3a" stroke-width="0.40" />
<rect x="594.70" y="121.20" width="41.90" height="83.70" fill="none" stroke="#000" stroke-width="1.45" />
<line x1="592.00" y1="200.90" x2="594.70" y2="200.90" stroke="#000" stroke-width="1.10" />
<text x="590.10" y="203.40" font-size="7.00px" font-weight="bold" text-anchor="end" fill="#000" >0</text>
<line x1="592.00" y1="183.70" x2="594.70" y2="183.70" stroke="#000" stroke-width="1.10" />
<text x="590.10" y="186.20" font-size="7.00px" font-weight="bold" text-anchor="end" fill="#000" >10</text>
<line x1="592.00" y1="166.50" x2="594.70" y2="166.50" stroke="#000" stroke-width="1.10" />
<text x="590.10" y="169.00" font-size="7.00px" font-weight="bold" text-anchor="end" fill="#000" >20</text>
<line x1="592.00" y1="149.30" x2="594.70" y2="149.30" stroke="#000" stroke-width="1.10" />
<text x="590.10" y="151.80" font-size="7.00px" font-weight="bold" text-anchor="end" fill="#000" >30</text>
<line x1="592.00" y1="132.10" x2="594.70" y2="132.10" stroke="#000" stroke-width="1.10" />
<text x="590.10" y="134.60" font-size="7.00px" font-weight="bold" text-anchor="end" fill="#000" >40</text>
<text x="606.10" y="212.50" font-size="7.00px" font-weight="bold" text-anchor="middle" fill="#000" >N</text>
<text x="625.00" y="212.50" font-size="7.00px" font-weight="bold" text-anchor="middle" fill="#000" >P</text>
<text x="577.20" y="163.00" font-size="7.00px" font-weight="bold" text-anchor="middle" fill="#000" transform="rotate(-90 577.20 163.00)" >DMT (Count)</text>
<text x="639.20" y="124.90" font-size="4.50px" font-weight="bold" text-anchor="start" fill="#111" text-decoration="underline">DMT</text>
<rect x="639.60" y="128.70" width="6.60" height="6.60" fill="#96e1e8" stroke="#8a9a9a" stroke-width="0.40" />
<text x="649.30" y="133.65" font-size="4.75px" font-weight="normal" text-anchor="start" fill="#333" >Aubagio</text>
<rect x="639.60" y="136.85" width="6.60" height="6.60" fill="#3c9be6" stroke="#8a9a9a" stroke-width="0.40" />
<text x="649.30" y="141.81" font-size="4.75px" font-weight="normal" text-anchor="start" fill="#333" >Aubagio-ocrevus</text>
<rect x="639.60" y="145.01" width="6.60" height="6.60" fill="#4cb98f" stroke="#8a9a9a" stroke-width="0.40" />
<text x="649.30" y="149.96" font-size="4.75px" font-weight="normal" text-anchor="start" fill="#333" >BAF</text>
<rect x="639.60" y="153.16" width="6.60" height="6.60" fill="#8cf05a" stroke="#8a9a9a" stroke-width="0.40" />
<text x="649.30" y="158.12" font-size="4.75px" font-weight="normal" text-anchor="start" fill="#333" >Betaseron</text>
<rect x="639.60" y="161.32" width="6.60" height="6.60" fill="#40dc1e" stroke="#8a9a9a" stroke-width="0.40" />
<text x="649.30" y="166.27" font-size="4.75px" font-weight="normal" text-anchor="start" fill="#333" >BG−12</text>
<rect x="639.60" y="169.47" width="6.60" height="6.60" fill="#86a843" stroke="#8a9a9a" stroke-width="0.40" />
<text x="649.30" y="174.43" font-size="4.75px" font-weight="normal" text-anchor="start" fill="#333" >Copaxone</text>
<rect x="639.60" y="177.63" width="6.60" height="6.60" fill="#f05a96" stroke="#8a9a9a" stroke-width="0.40" />
<text x="649.30" y="182.58" font-size="4.75px" font-weight="normal" text-anchor="start" fill="#333" >Gilenya</text>
<rect x="639.60" y="185.78" width="6.60" height="6.60" fill="#ff1030" stroke="#8a9a9a" stroke-width="0.40" />
<text x="649.30" y="190.73" font-size="4.75px" font-weight="normal" text-anchor="start" fill="#333" >Ocrevus</text>
<rect x="639.60" y="193.94" width="6.60" height="6.60" fill="#f0644e" stroke="#8a9a9a" stroke-width="0.40" />
<text x="649.30" y="198.89" font-size="4.75px" font-weight="normal" text-anchor="start" fill="#333" >Rebif</text>
<rect x="639.60" y="202.09" width="6.60" height="6.60" fill="#ff9a40" stroke="#8a9a9a" stroke-width="0.40" />
<text x="649.30" y="207.04" font-size="4.75px" font-weight="normal" text-anchor="start" fill="#333" >Tysabri</text>
<rect x="639.60" y="210.25" width="6.60" height="6.60" fill="#ff6a14" stroke="#8a9a9a" stroke-width="0.40" />
<text x="649.30" y="215.20" font-size="4.75px" font-weight="normal" text-anchor="start" fill="#333" >Untreated</text>
<text x="-0.20" y="231.60" font-size="13.50px" font-weight="bold" text-anchor="start" fill="#000" >l</text>
<line x1="27.30" y1="319.85" x2="69.50" y2="319.85" stroke="#a6b0ae" stroke-width="0.55" stroke-dasharray="4 2.9" stroke-dashoffset="0"/>
<line x1="27.30" y1="303.15" x2="69.50" y2="303.15" stroke="#a6b0ae" stroke-width="0.55" stroke-dasharray="4 2.9" stroke-dashoffset="0"/>
<line x1="27.30" y1="286.45" x2="69.50" y2="286.45" stroke="#a6b0ae" stroke-width="0.55" stroke-dasharray="4 2.9" stroke-dashoffset="0"/>
<line x1="27.30" y1="269.75" x2="69.50" y2="269.75" stroke="#a6b0ae" stroke-width="0.55" stroke-dasharray="4 2.9" stroke-dashoffset="0"/>
<line x1="27.30" y1="253.05" x2="69.50" y2="253.05" stroke="#a6b0ae" stroke-width="0.55" stroke-dasharray="4 2.9" stroke-dashoffset="0"/>
<line x1="27.30" y1="328.20" x2="69.50" y2="328.20" stroke="#465252" stroke-width="0.55" stroke-dasharray="4 2.9" stroke-dashoffset="0"/>
<line x1="27.30" y1="311.50" x2="69.50" y2="311.50" stroke="#465252" stroke-width="0.55" stroke-dasharray="4 2.9" stroke-dashoffset="0"/>
<line x1="27.30" y1="294.80" x2="69.50" y2="294.80" stroke="#465252" stroke-width="0.55" stroke-dasharray="4 2.9" stroke-dashoffset="0"/>
<line x1="27.30" y1="278.10" x2="69.50" y2="278.10" stroke="#465252" stroke-width="0.55" stroke-dasharray="4 2.9" stroke-dashoffset="0"/>
<line x1="27.30" y1="261.40" x2="69.50" y2="261.40" stroke="#465252" stroke-width="0.55" stroke-dasharray="4 2.9" stroke-dashoffset="0"/>
<line x1="38.48" y1="249.30" x2="38.48" y2="332.60" stroke="#465252" stroke-width="0.55" stroke-dasharray="4 2.9" stroke-dashoffset="0"/>
<line x1="58.32" y1="249.30" x2="58.32" y2="332.60" stroke="#465252" stroke-width="0.55" stroke-dasharray="4 2.9" stroke-dashoffset="0"/>
<line x1="38.48" y1="252.00" x2="38.48" y2="329.60" stroke="#0f0fe8" stroke-width="1.10" />
<circle cx="38.48" cy="253.05" r="2.50" fill="#0f0fe8" stroke="none" stroke-width="0.50"/>
<circle cx="38.48" cy="265.57" r="2.50" fill="#0f0fe8" stroke="none" stroke-width="0.50"/>
<circle cx="38.48" cy="273.09" r="2.50" fill="#0f0fe8" stroke="none" stroke-width="0.50"/>
<circle cx="38.48" cy="274.76" r="2.50" fill="#0f0fe8" stroke="none" stroke-width="0.50"/>
<circle cx="38.48" cy="276.43" r="2.50" fill="#0f0fe8" stroke="none" stroke-width="0.50"/>
<circle cx="38.48" cy="278.10" r="2.50" fill="#0f0fe8" stroke="none" stroke-width="0.50"/>
<circle cx="38.48" cy="279.77" r="2.50" fill="#0f0fe8" stroke="none" stroke-width="0.50"/>
<circle cx="38.48" cy="281.44" r="2.50" fill="#0f0fe8" stroke="none" stroke-width="0.50"/>
<circle cx="38.48" cy="282.27" r="2.50" fill="#0f0fe8" stroke="none" stroke-width="0.50"/>
<circle cx="38.48" cy="306.49" r="2.50" fill="#0f0fe8" stroke="none" stroke-width="0.50"/>
<circle cx="38.48" cy="308.16" r="2.50" fill="#0f0fe8" stroke="none" stroke-width="0.50"/>
<circle cx="38.48" cy="309.83" r="2.50" fill="#0f0fe8" stroke="none" stroke-width="0.50"/>
<circle cx="38.48" cy="311.50" r="2.50" fill="#0f0fe8" stroke="none" stroke-width="0.50"/>
<circle cx="38.48" cy="313.17" r="2.50" fill="#0f0fe8" stroke="none" stroke-width="0.50"/>
<circle cx="38.48" cy="314.84" r="2.50" fill="#0f0fe8" stroke="none" stroke-width="0.50"/>
<circle cx="38.48" cy="316.51" r="2.50" fill="#0f0fe8" stroke="none" stroke-width="0.50"/>
<circle cx="38.48" cy="318.18" r="2.50" fill="#0f0fe8" stroke="none" stroke-width="0.50"/>
<circle cx="38.48" cy="319.85" r="2.50" fill="#0f0fe8" stroke="none" stroke-width="0.50"/>
<circle cx="38.48" cy="321.52" r="2.50" fill="#0f0fe8" stroke="none" stroke-width="0.50"/>
<circle cx="38.48" cy="323.19" r="2.50" fill="#0f0fe8" stroke="none" stroke-width="0.50"/>
<circle cx="38.48" cy="324.86" r="2.50" fill="#0f0fe8" stroke="none" stroke-width="0.50"/>
<circle cx="38.48" cy="326.53" r="2.50" fill="#0f0fe8" stroke="none" stroke-width="0.50"/>
<circle cx="38.48" cy="328.20" r="2.50" fill="#0f0fe8" stroke="none" stroke-width="0.50"/>
<circle cx="38.48" cy="329.87" r="2.50" fill="#0f0fe8" stroke="none" stroke-width="0.50"/>
<rect x="31.18" y="283.30" width="14.60" height="22.40" fill="#fff" stroke="#0f0fe8" stroke-width="1.50" />
<line x1="31.18" y1="294.90" x2="45.78" y2="294.90" stroke="#0f0fe8" stroke-width="2.90" />
<line x1="58.32" y1="281.70" x2="58.32" y2="315.70" stroke="#b81414" stroke-width="1.10" />
<circle cx="58.32" cy="281.44" r="2.50" fill="#b81414" stroke="none" stroke-width="0.50"/>
<circle cx="58.32" cy="289.79" r="2.50" fill="#b81414" stroke="none" stroke-width="0.50"/>
<circle cx="58.32" cy="291.46" r="2.50" fill="#b81414" stroke="none" stroke-width="0.50"/>
<circle cx="58.32" cy="312.33" r="2.50" fill="#b81414" stroke="none" stroke-width="0.50"/>
<circle cx="58.32" cy="314.00" r="2.50" fill="#b81414" stroke="none" stroke-width="0.50"/>
<circle cx="58.32" cy="315.68" r="2.50" fill="#b81414" stroke="none" stroke-width="0.50"/>
<rect x="51.02" y="293.20" width="14.60" height="17.80" fill="#fff" stroke="#b81414" stroke-width="1.50" />
<line x1="51.02" y1="301.30" x2="65.62" y2="301.30" stroke="#b81414" stroke-width="2.90" />
<rect x="27.30" y="232.40" width="42.20" height="16.90" fill="#b7c3bc" stroke="#000" stroke-width="1.20" />
<rect x="27.30" y="249.30" width="42.20" height="83.30" fill="none" stroke="#000" stroke-width="1.20" />
<text x="48.40" y="241.20" font-size="7.00px" font-weight="bold" text-anchor="middle" fill="#000" >Fisher</text>
<text x="48.40" y="247.00" font-size="4.60px" font-weight="bold" text-anchor="middle" fill="#111" >Wilcoxon, p=0.20</text>
<line x1="24.30" y1="328.20" x2="27.30" y2="328.20" stroke="#222" stroke-width="0.90" />
<text x="23.10" y="330.65" font-size="6.90px" font-weight="normal" text-anchor="end" fill="#111" >10</text>
<line x1="24.30" y1="311.50" x2="27.30" y2="311.50" stroke="#222" stroke-width="0.90" />
<text x="23.10" y="313.95" font-size="6.90px" font-weight="normal" text-anchor="end" fill="#111" >20</text>
<line x1="24.30" y1="294.80" x2="27.30" y2="294.80" stroke="#222" stroke-width="0.90" />
<text x="23.10" y="297.25" font-size="6.90px" font-weight="normal" text-anchor="end" fill="#111" >30</text>
<line x1="24.30" y1="278.10" x2="27.30" y2="278.10" stroke="#222" stroke-width="0.90" />
<text x="23.10" y="280.55" font-size="6.90px" font-weight="normal" text-anchor="end" fill="#111" >40</text>
<line x1="24.30" y1="261.40" x2="27.30" y2="261.40" stroke="#222" stroke-width="0.90" />
<text x="23.10" y="263.85" font-size="6.90px" font-weight="normal" text-anchor="end" fill="#111" >50</text>
<text x="9.90" y="291.00" font-size="6.86px" font-weight="bold" text-anchor="middle" fill="#000" transform="rotate(-90 9.90 291.00)" >Alpha Diversity Measure</text>
<line x1="105.80" y1="310.10" x2="147.50" y2="310.10" stroke="#a6b0ae" stroke-width="0.55" stroke-dasharray="4 2.9" stroke-dashoffset="0"/>
<line x1="105.80" y1="288.30" x2="147.50" y2="288.30" stroke="#a6b0ae" stroke-width="0.55" stroke-dasharray="4 2.9" stroke-dashoffset="0"/>
<line x1="105.80" y1="266.50" x2="147.50" y2="266.50" stroke="#a6b0ae" stroke-width="0.55" stroke-dasharray="4 2.9" stroke-dashoffset="0"/>
<line x1="105.80" y1="321.00" x2="147.50" y2="321.00" stroke="#465252" stroke-width="0.55" stroke-dasharray="4 2.9" stroke-dashoffset="0"/>
<line x1="105.80" y1="299.20" x2="147.50" y2="299.20" stroke="#465252" stroke-width="0.55" stroke-dasharray="4 2.9" stroke-dashoffset="0"/>
<line x1="105.80" y1="277.40" x2="147.50" y2="277.40" stroke="#465252" stroke-width="0.55" stroke-dasharray="4 2.9" stroke-dashoffset="0"/>
<line x1="105.80" y1="255.60" x2="147.50" y2="255.60" stroke="#465252" stroke-width="0.55" stroke-dasharray="4 2.9" stroke-dashoffset="0"/>
<line x1="116.85" y1="249.30" x2="116.85" y2="332.60" stroke="#465252" stroke-width="0.55" stroke-dasharray="4 2.9" stroke-dashoffset="0"/>
<line x1="136.45" y1="249.30" x2="136.45" y2="332.60" stroke="#465252" stroke-width="0.55" stroke-dasharray="4 2.9" stroke-dashoffset="0"/>
<line x1="116.85" y1="252.00" x2="116.85" y2="328.40" stroke="#0f0fe8" stroke-width="1.10" />
<circle cx="116.85" cy="252.11" r="2.50" fill="#0f0fe8" stroke="none" stroke-width="0.50"/>
<circle cx="116.85" cy="253.42" r="2.50" fill="#0f0fe8" stroke="none" stroke-width="0.50"/>
<circle cx="116.85" cy="255.60" r="2.50" fill="#0f0fe8" stroke="none" stroke-width="0.50"/>
<circle cx="116.85" cy="257.34" r="2.50" fill="#0f0fe8" stroke="none" stroke-width="0.50"/>
<circle cx="116.85" cy="259.09" r="2.50" fill="#0f0fe8" stroke="none" stroke-width="0.50"/>
<circle cx="116.85" cy="260.83" r="2.50" fill="#0f0fe8" stroke="none" stroke-width="0.50"/>
<circle cx="116.85" cy="262.58" r="2.50" fill="#0f0fe8" stroke="none" stroke-width="0.50"/>
<circle cx="116.85" cy="264.32" r="2.50" fill="#0f0fe8" stroke="none" stroke-width="0.50"/>
<circle cx="116.85" cy="266.06" r="2.50" fill="#0f0fe8" stroke="none" stroke-width="0.50"/>
<circle cx="116.85" cy="267.81" r="2.50" fill="#0f0fe8" stroke="none" stroke-width="0.50"/>
<circle cx="116.85" cy="293.10" r="2.50" fill="#0f0fe8" stroke="none" stroke-width="0.50"/>
<circle cx="116.85" cy="294.84" r="2.50" fill="#0f0fe8" stroke="none" stroke-width="0.50"/>
<circle cx="116.85" cy="297.02" r="2.50" fill="#0f0fe8" stroke="none" stroke-width="0.50"/>
<circle cx="116.85" cy="299.20" r="2.50" fill="#0f0fe8" stroke="none" stroke-width="0.50"/>
<circle cx="116.85" cy="301.38" r="2.50" fill="#0f0fe8" stroke="none" stroke-width="0.50"/>
<circle cx="116.85" cy="303.56" r="2.50" fill="#0f0fe8" stroke="none" stroke-width="0.50"/>
<circle cx="116.85" cy="305.74" r="2.50" fill="#0f0fe8" stroke="none" stroke-width="0.50"/>
<circle cx="116.85" cy="311.41" r="2.50" fill="#0f0fe8" stroke="none" stroke-width="0.50"/>
<circle cx="116.85" cy="314.46" r="2.50" fill="#0f0fe8" stroke="none" stroke-width="0.50"/>
<circle cx="116.85" cy="316.64" r="2.50" fill="#0f0fe8" stroke="none" stroke-width="0.50"/>
<circle cx="116.85" cy="322.74" r="2.50" fill="#0f0fe8" stroke="none" stroke-width="0.50"/>
<circle cx="116.85" cy="328.41" r="2.50" fill="#0f0fe8" stroke="none" stroke-width="0.50"/>
<rect x="109.55" y="268.70" width="14.60" height="23.40" fill="#fff" stroke="#0f0fe8" stroke-width="1.50" />
<line x1="109.55" y1="277.50" x2="124.15" y2="277.50" stroke="#0f0fe8" stroke-width="2.90" />
<line x1="136.45" y1="273.30" x2="136.45" y2="290.20" stroke="#b81414" stroke-width="1.10" />
<circle cx="136.45" cy="273.48" r="2.50" fill="#b81414" stroke="none" stroke-width="0.50"/>
<circle cx="136.45" cy="275.22" r="2.50" fill="#b81414" stroke="none" stroke-width="0.50"/>
<circle cx="136.45" cy="276.53" r="2.50" fill="#b81414" stroke="none" stroke-width="0.50"/>
<circle cx="136.45" cy="288.74" r="2.50" fill="#b81414" stroke="none" stroke-width="0.50"/>
<circle cx="136.45" cy="290.04" r="2.50" fill="#b81414" stroke="none" stroke-width="0.50"/>
<circle cx="136.45" cy="307.92" r="2.50" fill="#b81414" stroke="none" stroke-width="0.50"/>
<circle cx="136.45" cy="317.08" r="2.50" fill="#b81414" stroke="none" stroke-width="0.50"/>
<rect x="129.15" y="277.00" width="14.60" height="10.50" fill="#fff" stroke="#b81414" stroke-width="1.50" />
<line x1="129.15" y1="282.60" x2="143.75" y2="282.60" stroke="#b81414" stroke-width="2.90" />
<rect x="105.80" y="232.40" width="41.70" height="16.90" fill="#b7c3bc" stroke="#000" stroke-width="1.20" />
<rect x="105.80" y="249.30" width="41.70" height="83.30" fill="none" stroke="#000" stroke-width="1.20" />
<text x="126.65" y="241.20" font-size="7.00px" font-weight="bold" text-anchor="middle" fill="#000" >Shannon</text>
<text x="126.65" y="247.00" font-size="4.60px" font-weight="bold" text-anchor="middle" fill="#111" >Wilcoxon, p=0.34</text>
<line x1="102.80" y1="321.00" x2="105.80" y2="321.00" stroke="#222" stroke-width="0.90" />
<text x="101.60" y="323.45" font-size="6.90px" font-weight="normal" text-anchor="end" fill="#111" >3.0</text>
<line x1="102.80" y1="299.20" x2="105.80" y2="299.20" stroke="#222" stroke-width="0.90" />
<text x="101.60" y="301.65" font-size="6.90px" font-weight="normal" text-anchor="end" fill="#111" >3.5</text>
<line x1="102.80" y1="277.40" x2="105.80" y2="277.40" stroke="#222" stroke-width="0.90" />
<text x="101.60" y="279.85" font-size="6.90px" font-weight="normal" text-anchor="end" fill="#111" >4.0</text>
<line x1="102.80" y1="255.60" x2="105.80" y2="255.60" stroke="#222" stroke-width="0.90" />
<text x="101.60" y="258.05" font-size="6.90px" font-weight="normal" text-anchor="end" fill="#111" >4.5</text>
<text x="86.60" y="291.00" font-size="6.86px" font-weight="bold" text-anchor="middle" fill="#000" transform="rotate(-90 86.60 291.00)" >Alpha Diversity Measure</text>
<line x1="188.20" y1="322.80" x2="230.00" y2="322.80" stroke="#a6b0ae" stroke-width="0.55" stroke-dasharray="4 2.9" stroke-dashoffset="0"/>
<line x1="188.20" y1="301.00" x2="230.00" y2="301.00" stroke="#a6b0ae" stroke-width="0.55" stroke-dasharray="4 2.9" stroke-dashoffset="0"/>
<line x1="188.20" y1="279.20" x2="230.00" y2="279.20" stroke="#a6b0ae" stroke-width="0.55" stroke-dasharray="4 2.9" stroke-dashoffset="0"/>
<line x1="188.20" y1="257.40" x2="230.00" y2="257.40" stroke="#a6b0ae" stroke-width="0.55" stroke-dasharray="4 2.9" stroke-dashoffset="0"/>
<line x1="188.20" y1="311.90" x2="230.00" y2="311.90" stroke="#465252" stroke-width="0.55" stroke-dasharray="4 2.9" stroke-dashoffset="0"/>
<line x1="188.20" y1="290.10" x2="230.00" y2="290.10" stroke="#465252" stroke-width="0.55" stroke-dasharray="4 2.9" stroke-dashoffset="0"/>
<line x1="188.20" y1="268.30" x2="230.00" y2="268.30" stroke="#465252" stroke-width="0.55" stroke-dasharray="4 2.9" stroke-dashoffset="0"/>
<line x1="199.28" y1="249.30" x2="199.28" y2="332.60" stroke="#465252" stroke-width="0.55" stroke-dasharray="4 2.9" stroke-dashoffset="0"/>
<line x1="218.92" y1="249.30" x2="218.92" y2="332.60" stroke="#465252" stroke-width="0.55" stroke-dasharray="4 2.9" stroke-dashoffset="0"/>
<line x1="199.28" y1="251.60" x2="199.28" y2="295.00" stroke="#0f0fe8" stroke-width="1.10" />
<circle cx="199.28" cy="251.60" r="2.50" fill="#0f0fe8" stroke="none" stroke-width="0.50"/>
<circle cx="199.28" cy="253.50" r="2.50" fill="#0f0fe8" stroke="none" stroke-width="0.50"/>
<circle cx="199.28" cy="255.50" r="2.50" fill="#0f0fe8" stroke="none" stroke-width="0.50"/>
<circle cx="199.28" cy="257.50" r="2.50" fill="#0f0fe8" stroke="none" stroke-width="0.50"/>
<circle cx="199.28" cy="259.50" r="2.50" fill="#0f0fe8" stroke="none" stroke-width="0.50"/>
<circle cx="199.28" cy="284.50" r="2.50" fill="#0f0fe8" stroke="none" stroke-width="0.50"/>
<circle cx="199.28" cy="286.50" r="2.50" fill="#0f0fe8" stroke="none" stroke-width="0.50"/>
<circle cx="199.28" cy="288.50" r="2.50" fill="#0f0fe8" stroke="none" stroke-width="0.50"/>
<circle cx="199.28" cy="290.50" r="2.50" fill="#0f0fe8" stroke="none" stroke-width="0.50"/>
<circle cx="199.28" cy="292.50" r="2.50" fill="#0f0fe8" stroke="none" stroke-width="0.50"/>
<circle cx="199.28" cy="295.00" r="2.50" fill="#0f0fe8" stroke="none" stroke-width="0.50"/>
<circle cx="199.28" cy="303.50" r="2.50" fill="#0f0fe8" stroke="none" stroke-width="0.50"/>
<circle cx="199.28" cy="304.50" r="2.50" fill="#0f0fe8" stroke="none" stroke-width="0.50"/>
<circle cx="199.28" cy="312.80" r="2.50" fill="#0f0fe8" stroke="none" stroke-width="0.50"/>
<circle cx="199.28" cy="328.60" r="2.50" fill="#0f0fe8" stroke="none" stroke-width="0.50"/>
<rect x="191.98" y="261.40" width="14.60" height="21.30" fill="#fff" stroke="#0f0fe8" stroke-width="1.50" />
<line x1="191.98" y1="264.10" x2="206.58" y2="264.10" stroke="#0f0fe8" stroke-width="2.90" />
<line x1="218.92" y1="260.20" x2="218.92" y2="275.30" stroke="#b81414" stroke-width="1.10" />
<circle cx="218.92" cy="260.20" r="2.50" fill="#b81414" stroke="none" stroke-width="0.50"/>
<circle cx="218.92" cy="261.50" r="2.50" fill="#b81414" stroke="none" stroke-width="0.50"/>
<circle cx="218.92" cy="263.00" r="2.50" fill="#b81414" stroke="none" stroke-width="0.50"/>
<circle cx="218.92" cy="274.50" r="2.50" fill="#b81414" stroke="none" stroke-width="0.50"/>
<circle cx="218.92" cy="275.50" r="2.50" fill="#b81414" stroke="none" stroke-width="0.50"/>
<circle cx="218.92" cy="287.60" r="2.50" fill="#b81414" stroke="none" stroke-width="0.50"/>
<circle cx="218.92" cy="296.60" r="2.50" fill="#b81414" stroke="none" stroke-width="0.50"/>
<circle cx="218.92" cy="322.80" r="2.50" fill="#b81414" stroke="none" stroke-width="0.50"/>
<rect x="211.62" y="265.50" width="14.60" height="7.50" fill="#fff" stroke="#b81414" stroke-width="1.50" />
<line x1="211.62" y1="269.50" x2="226.22" y2="269.50" stroke="#b81414" stroke-width="2.90" />
<rect x="188.20" y="232.40" width="41.80" height="16.90" fill="#b7c3bc" stroke="#000" stroke-width="1.20" />
<rect x="188.20" y="249.30" width="41.80" height="83.30" fill="none" stroke="#000" stroke-width="1.20" />
<text x="209.10" y="241.20" font-size="7.00px" font-weight="bold" text-anchor="middle" fill="#000" >Simpson</text>
<text x="209.10" y="247.00" font-size="4.60px" font-weight="bold" text-anchor="middle" fill="#111" >Wilcoxon, p=0.28</text>
<line x1="185.20" y1="311.90" x2="188.20" y2="311.90" stroke="#222" stroke-width="0.90" />
<text x="184.00" y="314.35" font-size="6.90px" font-weight="normal" text-anchor="end" fill="#111" >0.90</text>
<line x1="185.20" y1="290.10" x2="188.20" y2="290.10" stroke="#222" stroke-width="0.90" />
<text x="184.00" y="292.55" font-size="6.90px" font-weight="normal" text-anchor="end" fill="#111" >0.93</text>
<line x1="185.20" y1="268.30" x2="188.20" y2="268.30" stroke="#222" stroke-width="0.90" />
<text x="184.00" y="270.75" font-size="6.90px" font-weight="normal" text-anchor="end" fill="#111" >0.96</text>
<text x="164.60" y="291.00" font-size="6.86px" font-weight="bold" text-anchor="middle" fill="#000" transform="rotate(-90 164.60 291.00)" >Alpha Diversity Measure</text>
<text x="239.20" y="236.20" font-size="4.60px" font-weight="normal" text-anchor="start" fill="#222" >Progressor Status</text>
<rect x="239.40" y="239.70" width="6.60" height="6.60" fill="#dfe4e2" stroke="none" stroke-width="1.00" />
<line x1="242.70" y1="239.90" x2="242.70" y2="246.10" stroke="#0f0fe8" stroke-width="1.00" />
<rect x="240.10" y="240.60" width="5.20" height="4.80" fill="#fff" stroke="#0f0fe8" stroke-width="1.10" />
<line x1="240.10" y1="243.00" x2="245.30" y2="243.00" stroke="#0f0fe8" stroke-width="1.20" />
<text x="249.20" y="244.60" font-size="4.70px" font-weight="normal" text-anchor="start" fill="#222" >Non-Progressor</text>
<rect x="239.40" y="247.90" width="6.60" height="6.60" fill="#dfe4e2" stroke="none" stroke-width="1.00" />
<line x1="242.70" y1="248.10" x2="242.70" y2="254.30" stroke="#b81414" stroke-width="1.00" />
<rect x="240.10" y="248.80" width="5.20" height="4.80" fill="#fff" stroke="#b81414" stroke-width="1.10" />
<line x1="240.10" y1="251.20" x2="245.30" y2="251.20" stroke="#b81414" stroke-width="1.20" />
<text x="249.20" y="252.80" font-size="4.70px" font-weight="normal" text-anchor="start" fill="#222" >Progressor</text>
<text x="287.90" y="231.80" font-size="13.50px" font-weight="bold" text-anchor="start" fill="#000" >m</text>
<line x1="317.70" y1="326.50" x2="400.80" y2="326.50" stroke="#5c6868" stroke-width="0.55" stroke-dasharray="3.6 2.8" stroke-dashoffset="0"/>
<line x1="317.70" y1="305.90" x2="400.80" y2="305.90" stroke="#5c6868" stroke-width="0.55" stroke-dasharray="3.6 2.8" stroke-dashoffset="0"/>
<line x1="317.70" y1="285.30" x2="400.80" y2="285.30" stroke="#5c6868" stroke-width="0.55" stroke-dasharray="3.6 2.8" stroke-dashoffset="0"/>
<line x1="317.70" y1="264.70" x2="400.80" y2="264.70" stroke="#5c6868" stroke-width="0.55" stroke-dasharray="3.6 2.8" stroke-dashoffset="0"/>
<line x1="317.70" y1="316.20" x2="400.80" y2="316.20" stroke="#465252" stroke-width="0.55" stroke-dasharray="3.6 2.8" stroke-dashoffset="0"/>
<line x1="317.70" y1="295.60" x2="400.80" y2="295.60" stroke="#465252" stroke-width="0.55" stroke-dasharray="3.6 2.8" stroke-dashoffset="0"/>
<line x1="317.70" y1="275.00" x2="400.80" y2="275.00" stroke="#465252" stroke-width="0.55" stroke-dasharray="3.6 2.8" stroke-dashoffset="0"/>
<line x1="317.70" y1="254.40" x2="400.80" y2="254.40" stroke="#465252" stroke-width="0.55" stroke-dasharray="3.6 2.8" stroke-dashoffset="0"/>
<line x1="329.52" y1="248.90" x2="329.52" y2="332.40" stroke="#5c6868" stroke-width="0.55" stroke-dasharray="3.6 2.8" stroke-dashoffset="0"/>
<line x1="351.18" y1="248.90" x2="351.18" y2="332.40" stroke="#5c6868" stroke-width="0.55" stroke-dasharray="3.6 2.8" stroke-dashoffset="0"/>
<line x1="372.82" y1="248.90" x2="372.82" y2="332.40" stroke="#5c6868" stroke-width="0.55" stroke-dasharray="3.6 2.8" stroke-dashoffset="0"/>
<line x1="394.48" y1="248.90" x2="394.48" y2="332.40" stroke="#5c6868" stroke-width="0.55" stroke-dasharray="3.6 2.8" stroke-dashoffset="0"/>
<line x1="318.70" y1="248.90" x2="318.70" y2="332.40" stroke="#465252" stroke-width="0.55" stroke-dasharray="3.6 2.8" stroke-dashoffset="0"/>
<line x1="340.35" y1="248.90" x2="340.35" y2="332.40" stroke="#465252" stroke-width="0.55" stroke-dasharray="3.6 2.8" stroke-dashoffset="0"/>
<line x1="362.00" y1="248.90" x2="362.00" y2="332.40" stroke="#465252" stroke-width="0.55" stroke-dasharray="3.6 2.8" stroke-dashoffset="0"/>
<line x1="383.65" y1="248.90" x2="383.65" y2="332.40" stroke="#465252" stroke-width="0.55" stroke-dasharray="3.6 2.8" stroke-dashoffset="0"/>
<circle cx="362.55" cy="253.01" r="2.70" fill="#0f0fe8" stroke="none" stroke-width="0.50"/>
<circle cx="359.19" cy="258.62" r="2.70" fill="#0f0fe8" stroke="none" stroke-width="0.50"/>
<circle cx="334.51" cy="270.15" r="2.70" fill="#0f0fe8" stroke="none" stroke-width="0.50"/>
<circle cx="368.48" cy="268.55" r="2.70" fill="#0f0fe8" stroke="none" stroke-width="0.50"/>
<circle cx="363.67" cy="275.44" r="2.70" fill="#0f0fe8" stroke="none" stroke-width="0.50"/>
<circle cx="370.08" cy="276.24" r="2.70" fill="#0f0fe8" stroke="none" stroke-width="0.50"/>
<circle cx="332.42" cy="281.05" r="2.70" fill="#0f0fe8" stroke="none" stroke-width="0.50"/>
<circle cx="338.35" cy="282.33" r="2.70" fill="#0f0fe8" stroke="none" stroke-width="0.50"/>
<circle cx="369.60" cy="279.45" r="2.70" fill="#0f0fe8" stroke="none" stroke-width="0.50"/>
<circle cx="368.48" cy="282.97" r="2.70" fill="#0f0fe8" stroke="none" stroke-width="0.50"/>
<circle cx="353.26" cy="287.46" r="2.70" fill="#0f0fe8" stroke="none" stroke-width="0.50"/>
<circle cx="356.94" cy="287.46" r="2.70" fill="#0f0fe8" stroke="none" stroke-width="0.50"/>
<circle cx="366.08" cy="287.78" r="2.70" fill="#0f0fe8" stroke="none" stroke-width="0.50"/>
<circle cx="378.10" cy="290.35" r="2.70" fill="#0f0fe8" stroke="none" stroke-width="0.50"/>
<circle cx="381.30" cy="293.07" r="2.70" fill="#0f0fe8" stroke="none" stroke-width="0.50"/>
<circle cx="336.43" cy="295.15" r="2.70" fill="#0f0fe8" stroke="none" stroke-width="0.50"/>
<circle cx="341.72" cy="294.35" r="2.70" fill="#0f0fe8" stroke="none" stroke-width="0.50"/>
<circle cx="348.45" cy="295.47" r="2.70" fill="#0f0fe8" stroke="none" stroke-width="0.50"/>
<circle cx="338.03" cy="298.68" r="2.70" fill="#0f0fe8" stroke="none" stroke-width="0.50"/>
<circle cx="366.08" cy="296.28" r="2.70" fill="#0f0fe8" stroke="none" stroke-width="0.50"/>
<circle cx="369.28" cy="294.67" r="2.70" fill="#0f0fe8" stroke="none" stroke-width="0.50"/>
<circle cx="373.29" cy="293.07" r="2.70" fill="#0f0fe8" stroke="none" stroke-width="0.50"/>
<circle cx="370.88" cy="297.08" r="2.70" fill="#0f0fe8" stroke="none" stroke-width="0.50"/>
<circle cx="374.89" cy="297.08" r="2.70" fill="#0f0fe8" stroke="none" stroke-width="0.50"/>
<circle cx="378.10" cy="301.08" r="2.70" fill="#0f0fe8" stroke="none" stroke-width="0.50"/>
<circle cx="381.78" cy="299.96" r="2.70" fill="#0f0fe8" stroke="none" stroke-width="0.50"/>
<circle cx="388.51" cy="299.00" r="2.70" fill="#0f0fe8" stroke="none" stroke-width="0.50"/>
<circle cx="388.51" cy="300.60" r="2.70" fill="#0f0fe8" stroke="none" stroke-width="0.50"/>
<circle cx="351.65" cy="306.69" r="2.70" fill="#0f0fe8" stroke="none" stroke-width="0.50"/>
<circle cx="355.66" cy="308.62" r="2.70" fill="#0f0fe8" stroke="none" stroke-width="0.50"/>
<circle cx="360.95" cy="304.29" r="2.70" fill="#0f0fe8" stroke="none" stroke-width="0.50"/>
<circle cx="361.27" cy="307.49" r="2.70" fill="#0f0fe8" stroke="none" stroke-width="0.50"/>
<circle cx="357.26" cy="310.70" r="2.70" fill="#0f0fe8" stroke="none" stroke-width="0.50"/>
<circle cx="372.49" cy="311.50" r="2.70" fill="#0f0fe8" stroke="none" stroke-width="0.50"/>
<circle cx="374.89" cy="305.09" r="2.70" fill="#0f0fe8" stroke="none" stroke-width="0.50"/>
<circle cx="367.68" cy="297.08" r="2.70" fill="#0f0fe8" stroke="none" stroke-width="0.50"/>
<circle cx="340.44" cy="304.29" r="2.70" fill="#0f0fe8" stroke="none" stroke-width="0.50"/>
<circle cx="369.60" cy="291.47" r="2.70" fill="#0f0fe8" stroke="none" stroke-width="0.50"/>
<circle cx="373.29" cy="295.47" r="2.70" fill="#0f0fe8" stroke="none" stroke-width="0.50"/>
<circle cx="368.00" cy="298.68" r="2.70" fill="#0f0fe8" stroke="none" stroke-width="0.50"/>
<circle cx="354.54" cy="309.58" r="2.70" fill="#0f0fe8" stroke="none" stroke-width="0.50"/>
<circle cx="379.70" cy="297.08" r="2.70" fill="#0f0fe8" stroke="none" stroke-width="0.50"/>
<circle cx="359.99" cy="305.41" r="2.70" fill="#0f0fe8" stroke="none" stroke-width="0.50"/>
<circle cx="371.69" cy="299.00" r="2.70" fill="#0f0fe8" stroke="none" stroke-width="0.50"/>
<circle cx="377.29" cy="283.46" r="2.70" fill="#b81414" stroke="none" stroke-width="0.50"/>
<circle cx="379.70" cy="282.97" r="2.70" fill="#b81414" stroke="none" stroke-width="0.50"/>
<circle cx="360.79" cy="288.74" r="2.70" fill="#b81414" stroke="none" stroke-width="0.50"/>
<circle cx="351.65" cy="291.95" r="2.70" fill="#b81414" stroke="none" stroke-width="0.50"/>
<circle cx="338.83" cy="303.49" r="2.70" fill="#b81414" stroke="none" stroke-width="0.50"/>
<circle cx="341.24" cy="301.56" r="2.70" fill="#b81414" stroke="none" stroke-width="0.50"/>
<circle cx="341.24" cy="310.70" r="2.70" fill="#b81414" stroke="none" stroke-width="0.50"/>
<circle cx="356.46" cy="311.82" r="2.70" fill="#b81414" stroke="none" stroke-width="0.50"/>
<circle cx="358.06" cy="311.18" r="2.70" fill="#b81414" stroke="none" stroke-width="0.50"/>
<circle cx="367.68" cy="311.50" r="2.70" fill="#b81414" stroke="none" stroke-width="0.50"/>
<circle cx="366.88" cy="303.81" r="2.70" fill="#b81414" stroke="none" stroke-width="0.50"/>
<circle cx="370.08" cy="301.08" r="2.70" fill="#b81414" stroke="none" stroke-width="0.50"/>
<circle cx="374.89" cy="306.37" r="2.70" fill="#b81414" stroke="none" stroke-width="0.50"/>
<circle cx="339.63" cy="302.69" r="2.70" fill="#b81414" stroke="none" stroke-width="0.50"/>
<ellipse cx="364.60" cy="295.90" rx="33.40" ry="28.60" transform="rotate(22.0 364.60 295.90)" fill="none" stroke="#0f0fe8" stroke-width="1.5"/>
<ellipse cx="358.50" cy="302.50" rx="39.50" ry="23.50" transform="rotate(-21.0 358.50 302.50)" fill="none" stroke="#b81414" stroke-width="1.5"/>
<rect x="338.00" y="232.40" width="42.00" height="16.10" fill="#b7c3bc" stroke="#000" stroke-width="1.20" />
<rect x="317.70" y="248.90" width="83.10" height="83.50" fill="none" stroke="#000" stroke-width="1.30" />
<text x="359.00" y="240.80" font-size="6.60px" font-weight="bold" text-anchor="middle" fill="#000" >Bray</text>
<text x="359.00" y="246.40" font-size="4.20px" font-weight="bold" text-anchor="middle" fill="#111" >R²=0.02, p = 0.07</text>
<line x1="314.40" y1="316.20" x2="317.70" y2="316.20" stroke="#222" stroke-width="0.90" />
<text x="311.30" y="318.50" font-size="6.50px" font-weight="normal" text-anchor="end" fill="#111" >−0.25</text>
<line x1="314.40" y1="295.60" x2="317.70" y2="295.60" stroke="#222" stroke-width="0.90" />
<text x="311.30" y="297.90" font-size="6.50px" font-weight="normal" text-anchor="end" fill="#111" >0.00</text>
<line x1="314.40" y1="275.00" x2="317.70" y2="275.00" stroke="#222" stroke-width="0.90" />
<text x="311.30" y="277.30" font-size="6.50px" font-weight="normal" text-anchor="end" fill="#111" >0.25</text>
<line x1="314.40" y1="254.40" x2="317.70" y2="254.40" stroke="#222" stroke-width="0.90" />
<text x="311.30" y="256.70" font-size="6.50px" font-weight="normal" text-anchor="end" fill="#111" >0.50</text>
<line x1="318.70" y1="332.40" x2="318.70" y2="335.40" stroke="#222" stroke-width="0.90" />
<text x="323.80" y="337.80" font-size="6.60px" font-weight="normal" text-anchor="end" fill="#111" transform="rotate(-90 323.80 337.80)" >−0.50</text>
<line x1="340.35" y1="332.40" x2="340.35" y2="335.40" stroke="#222" stroke-width="0.90" />
<text x="345.45" y="337.80" font-size="6.60px" font-weight="normal" text-anchor="end" fill="#111" transform="rotate(-90 345.45 337.80)" >−0.25</text>
<line x1="362.00" y1="332.40" x2="362.00" y2="335.40" stroke="#222" stroke-width="0.90" />
<text x="367.10" y="337.80" font-size="6.60px" font-weight="normal" text-anchor="end" fill="#111" transform="rotate(-90 367.10 337.80)" >0.00</text>
<line x1="383.65" y1="332.40" x2="383.65" y2="335.40" stroke="#222" stroke-width="0.90" />
<text x="388.75" y="337.80" font-size="6.60px" font-weight="normal" text-anchor="end" fill="#111" transform="rotate(-90 388.75 337.80)" >0.25</text>
<text x="360.05" y="363.80" font-size="6.90px" font-weight="bold" text-anchor="middle" fill="#000" xml:space="preserve">Axis.1   [9%]</text>
<text x="290.20" y="290.60" font-size="6.90px" font-weight="bold" text-anchor="middle" fill="#000" transform="rotate(-90 290.20 290.60)" xml:space="preserve">Axis.2   [8.5%]</text>
<line x1="438.30" y1="330.15" x2="521.50" y2="330.15" stroke="#5c6868" stroke-width="0.55" stroke-dasharray="3.6 2.8" stroke-dashoffset="0"/>
<line x1="438.30" y1="323.80" x2="521.50" y2="323.80" stroke="#5c6868" stroke-width="0.55" stroke-dasharray="3.6 2.8" stroke-dashoffset="0"/>
<line x1="438.30" y1="317.45" x2="521.50" y2="317.45" stroke="#5c6868" stroke-width="0.55" stroke-dasharray="3.6 2.8" stroke-dashoffset="0"/>
<line x1="438.30" y1="304.75" x2="521.50" y2="304.75" stroke="#5c6868" stroke-width="0.55" stroke-dasharray="3.6 2.8" stroke-dashoffset="0"/>
<line x1="438.30" y1="298.40" x2="521.50" y2="298.40" stroke="#5c6868" stroke-width="0.55" stroke-dasharray="3.6 2.8" stroke-dashoffset="0"/>
<line x1="438.30" y1="292.05" x2="521.50" y2="292.05" stroke="#5c6868" stroke-width="0.55" stroke-dasharray="3.6 2.8" stroke-dashoffset="0"/>
<line x1="438.30" y1="279.35" x2="521.50" y2="279.35" stroke="#5c6868" stroke-width="0.55" stroke-dasharray="3.6 2.8" stroke-dashoffset="0"/>
<line x1="438.30" y1="273.00" x2="521.50" y2="273.00" stroke="#5c6868" stroke-width="0.55" stroke-dasharray="3.6 2.8" stroke-dashoffset="0"/>
<line x1="438.30" y1="266.65" x2="521.50" y2="266.65" stroke="#5c6868" stroke-width="0.55" stroke-dasharray="3.6 2.8" stroke-dashoffset="0"/>
<line x1="438.30" y1="253.95" x2="521.50" y2="253.95" stroke="#5c6868" stroke-width="0.55" stroke-dasharray="3.6 2.8" stroke-dashoffset="0"/>
<line x1="438.30" y1="311.10" x2="521.50" y2="311.10" stroke="#465252" stroke-width="0.55" stroke-dasharray="3.6 2.8" stroke-dashoffset="0"/>
<line x1="438.30" y1="285.70" x2="521.50" y2="285.70" stroke="#465252" stroke-width="0.55" stroke-dasharray="3.6 2.8" stroke-dashoffset="0"/>
<line x1="438.30" y1="260.30" x2="521.50" y2="260.30" stroke="#465252" stroke-width="0.55" stroke-dasharray="3.6 2.8" stroke-dashoffset="0"/>
<line x1="451.48" y1="248.90" x2="451.48" y2="332.40" stroke="#5c6868" stroke-width="0.55" stroke-dasharray="3.6 2.8" stroke-dashoffset="0"/>
<line x1="470.36" y1="248.90" x2="470.36" y2="332.40" stroke="#5c6868" stroke-width="0.55" stroke-dasharray="3.6 2.8" stroke-dashoffset="0"/>
<line x1="489.24" y1="248.90" x2="489.24" y2="332.40" stroke="#5c6868" stroke-width="0.55" stroke-dasharray="3.6 2.8" stroke-dashoffset="0"/>
<line x1="508.12" y1="248.90" x2="508.12" y2="332.40" stroke="#5c6868" stroke-width="0.55" stroke-dasharray="3.6 2.8" stroke-dashoffset="0"/>
<line x1="442.04" y1="248.90" x2="442.04" y2="332.40" stroke="#465252" stroke-width="0.55" stroke-dasharray="3.6 2.8" stroke-dashoffset="0"/>
<line x1="460.92" y1="248.90" x2="460.92" y2="332.40" stroke="#465252" stroke-width="0.55" stroke-dasharray="3.6 2.8" stroke-dashoffset="0"/>
<line x1="479.80" y1="248.90" x2="479.80" y2="332.40" stroke="#465252" stroke-width="0.55" stroke-dasharray="3.6 2.8" stroke-dashoffset="0"/>
<line x1="498.68" y1="248.90" x2="498.68" y2="332.40" stroke="#465252" stroke-width="0.55" stroke-dasharray="3.6 2.8" stroke-dashoffset="0"/>
<line x1="517.56" y1="248.90" x2="517.56" y2="332.40" stroke="#465252" stroke-width="0.55" stroke-dasharray="3.6 2.8" stroke-dashoffset="0"/>
<circle cx="480.19" cy="255.73" r="2.70" fill="#0f0fe8" stroke="none" stroke-width="0.50"/>
<circle cx="485.79" cy="258.62" r="2.70" fill="#0f0fe8" stroke="none" stroke-width="0.50"/>
<circle cx="461.92" cy="262.14" r="2.70" fill="#0f0fe8" stroke="none" stroke-width="0.50"/>
<circle cx="467.53" cy="260.22" r="2.70" fill="#0f0fe8" stroke="none" stroke-width="0.50"/>
<circle cx="478.74" cy="263.10" r="2.70" fill="#0f0fe8" stroke="none" stroke-width="0.50"/>
<circle cx="480.99" cy="268.23" r="2.70" fill="#0f0fe8" stroke="none" stroke-width="0.50"/>
<circle cx="470.57" cy="269.35" r="2.70" fill="#0f0fe8" stroke="none" stroke-width="0.50"/>
<circle cx="448.62" cy="270.31" r="2.70" fill="#0f0fe8" stroke="none" stroke-width="0.50"/>
<circle cx="494.61" cy="270.15" r="2.70" fill="#0f0fe8" stroke="none" stroke-width="0.50"/>
<circle cx="495.41" cy="274.32" r="2.70" fill="#0f0fe8" stroke="none" stroke-width="0.50"/>
<circle cx="497.97" cy="274.64" r="2.70" fill="#0f0fe8" stroke="none" stroke-width="0.50"/>
<circle cx="463.04" cy="277.04" r="2.70" fill="#0f0fe8" stroke="none" stroke-width="0.50"/>
<circle cx="500.70" cy="280.25" r="2.70" fill="#0f0fe8" stroke="none" stroke-width="0.50"/>
<circle cx="477.14" cy="280.25" r="2.70" fill="#0f0fe8" stroke="none" stroke-width="0.50"/>
<circle cx="493.49" cy="281.05" r="2.70" fill="#0f0fe8" stroke="none" stroke-width="0.50"/>
<circle cx="457.43" cy="283.13" r="2.70" fill="#0f0fe8" stroke="none" stroke-width="0.50"/>
<circle cx="460.63" cy="283.13" r="2.70" fill="#0f0fe8" stroke="none" stroke-width="0.50"/>
<circle cx="465.44" cy="282.65" r="2.70" fill="#0f0fe8" stroke="none" stroke-width="0.50"/>
<circle cx="469.77" cy="282.33" r="2.70" fill="#0f0fe8" stroke="none" stroke-width="0.50"/>
<circle cx="482.27" cy="283.13" r="2.70" fill="#0f0fe8" stroke="none" stroke-width="0.50"/>
<circle cx="491.88" cy="283.46" r="2.70" fill="#0f0fe8" stroke="none" stroke-width="0.50"/>
<circle cx="488.68" cy="288.26" r="2.70" fill="#0f0fe8" stroke="none" stroke-width="0.50"/>
<circle cx="452.62" cy="290.67" r="2.70" fill="#0f0fe8" stroke="none" stroke-width="0.50"/>
<circle cx="464.64" cy="290.99" r="2.70" fill="#0f0fe8" stroke="none" stroke-width="0.50"/>
<circle cx="481.95" cy="290.99" r="2.70" fill="#0f0fe8" stroke="none" stroke-width="0.50"/>
<circle cx="495.09" cy="290.99" r="2.70" fill="#0f0fe8" stroke="none" stroke-width="0.50"/>
<circle cx="498.62" cy="291.47" r="2.70" fill="#0f0fe8" stroke="none" stroke-width="0.50"/>
<circle cx="501.18" cy="292.27" r="2.70" fill="#0f0fe8" stroke="none" stroke-width="0.50"/>
<circle cx="473.13" cy="296.28" r="2.70" fill="#0f0fe8" stroke="none" stroke-width="0.50"/>
<circle cx="451.50" cy="298.36" r="2.70" fill="#0f0fe8" stroke="none" stroke-width="0.50"/>
<circle cx="491.88" cy="297.08" r="2.70" fill="#0f0fe8" stroke="none" stroke-width="0.50"/>
<circle cx="497.49" cy="298.36" r="2.70" fill="#0f0fe8" stroke="none" stroke-width="0.50"/>
<circle cx="485.79" cy="300.60" r="2.70" fill="#0f0fe8" stroke="none" stroke-width="0.50"/>
<circle cx="488.68" cy="299.96" r="2.70" fill="#0f0fe8" stroke="none" stroke-width="0.50"/>
<circle cx="491.08" cy="302.69" r="2.70" fill="#0f0fe8" stroke="none" stroke-width="0.50"/>
<circle cx="499.58" cy="304.77" r="2.70" fill="#0f0fe8" stroke="none" stroke-width="0.50"/>
<circle cx="465.44" cy="303.49" r="2.70" fill="#0f0fe8" stroke="none" stroke-width="0.50"/>
<circle cx="464.64" cy="306.37" r="2.70" fill="#0f0fe8" stroke="none" stroke-width="0.50"/>
<circle cx="494.29" cy="283.46" r="2.70" fill="#0f0fe8" stroke="none" stroke-width="0.50"/>
<circle cx="489.96" cy="297.88" r="2.70" fill="#0f0fe8" stroke="none" stroke-width="0.50"/>
<circle cx="495.41" cy="272.24" r="2.70" fill="#0f0fe8" stroke="none" stroke-width="0.50"/>
<circle cx="458.23" cy="284.26" r="2.70" fill="#0f0fe8" stroke="none" stroke-width="0.50"/>
<circle cx="478.26" cy="261.82" r="2.70" fill="#0f0fe8" stroke="none" stroke-width="0.50"/>
<circle cx="480.99" cy="257.33" r="2.70" fill="#0f0fe8" stroke="none" stroke-width="0.50"/>
<circle cx="477.46" cy="257.01" r="2.70" fill="#b81414" stroke="none" stroke-width="0.50"/>
<circle cx="474.58" cy="279.13" r="2.70" fill="#b81414" stroke="none" stroke-width="0.50"/>
<circle cx="497.49" cy="278.65" r="2.70" fill="#b81414" stroke="none" stroke-width="0.50"/>
<circle cx="475.06" cy="285.06" r="2.70" fill="#b81414" stroke="none" stroke-width="0.50"/>
<circle cx="493.97" cy="286.66" r="2.70" fill="#b81414" stroke="none" stroke-width="0.50"/>
<circle cx="458.23" cy="287.94" r="2.70" fill="#b81414" stroke="none" stroke-width="0.50"/>
<circle cx="493.17" cy="291.95" r="2.70" fill="#b81414" stroke="none" stroke-width="0.50"/>
<circle cx="457.75" cy="296.76" r="2.70" fill="#b81414" stroke="none" stroke-width="0.50"/>
<circle cx="478.74" cy="298.36" r="2.70" fill="#b81414" stroke="none" stroke-width="0.50"/>
<circle cx="464.96" cy="299.48" r="2.70" fill="#b81414" stroke="none" stroke-width="0.50"/>
<circle cx="465.44" cy="301.08" r="2.70" fill="#b81414" stroke="none" stroke-width="0.50"/>
<circle cx="473.13" cy="307.01" r="2.70" fill="#b81414" stroke="none" stroke-width="0.50"/>
<circle cx="467.85" cy="311.50" r="2.70" fill="#b81414" stroke="none" stroke-width="0.50"/>
<circle cx="489.16" cy="313.42" r="2.70" fill="#b81414" stroke="none" stroke-width="0.50"/>
<ellipse cx="481.30" cy="283.50" rx="37.50" ry="30.50" transform="rotate(22.5 481.30 283.50)" fill="none" stroke="#0f0fe8" stroke-width="1.5"/>
<ellipse cx="475.00" cy="293.90" rx="39.40" ry="28.70" transform="rotate(-46.0 475.00 293.90)" fill="none" stroke="#b81414" stroke-width="1.5"/>
<rect x="458.60" y="232.40" width="41.20" height="16.10" fill="#b7c3bc" stroke="#000" stroke-width="1.20" />
<rect x="438.30" y="248.90" width="83.20" height="83.50" fill="none" stroke="#000" stroke-width="1.30" />
<text x="479.20" y="240.80" font-size="6.60px" font-weight="bold" text-anchor="middle" fill="#000" >Unifrac</text>
<text x="479.20" y="246.40" font-size="4.20px" font-weight="bold" text-anchor="middle" fill="#111" >R²=0.02, p = 0.12</text>
<line x1="435.00" y1="311.10" x2="438.30" y2="311.10" stroke="#222" stroke-width="0.90" />
<text x="431.90" y="313.40" font-size="6.50px" font-weight="normal" text-anchor="end" fill="#111" >−0.2</text>
<line x1="435.00" y1="285.70" x2="438.30" y2="285.70" stroke="#222" stroke-width="0.90" />
<text x="431.90" y="288.00" font-size="6.50px" font-weight="normal" text-anchor="end" fill="#111" >0.0</text>
<line x1="435.00" y1="260.30" x2="438.30" y2="260.30" stroke="#222" stroke-width="0.90" />
<text x="431.90" y="262.60" font-size="6.50px" font-weight="normal" text-anchor="end" fill="#111" >0.2</text>
<line x1="442.04" y1="332.40" x2="442.04" y2="335.40" stroke="#222" stroke-width="0.90" />
<text x="447.14" y="337.80" font-size="6.60px" font-weight="normal" text-anchor="end" fill="#111" transform="rotate(-90 447.14 337.80)" >−0.4</text>
<line x1="460.92" y1="332.40" x2="460.92" y2="335.40" stroke="#222" stroke-width="0.90" />
<text x="466.02" y="337.80" font-size="6.60px" font-weight="normal" text-anchor="end" fill="#111" transform="rotate(-90 466.02 337.80)" >−0.2</text>
<line x1="479.80" y1="332.40" x2="479.80" y2="335.40" stroke="#222" stroke-width="0.90" />
<text x="484.90" y="337.80" font-size="6.60px" font-weight="normal" text-anchor="end" fill="#111" transform="rotate(-90 484.90 337.80)" >0.0</text>
<line x1="498.68" y1="332.40" x2="498.68" y2="335.40" stroke="#222" stroke-width="0.90" />
<text x="503.78" y="337.80" font-size="6.60px" font-weight="normal" text-anchor="end" fill="#111" transform="rotate(-90 503.78 337.80)" >0.2</text>
<line x1="517.56" y1="332.40" x2="517.56" y2="335.40" stroke="#222" stroke-width="0.90" />
<text x="522.66" y="337.80" font-size="6.60px" font-weight="normal" text-anchor="end" fill="#111" transform="rotate(-90 522.66 337.80)" >0.4</text>
<text x="480.70" y="360.20" font-size="6.90px" font-weight="bold" text-anchor="middle" fill="#000" xml:space="preserve">Axis.1   [16%]</text>
<text x="415.20" y="290.60" font-size="6.90px" font-weight="bold" text-anchor="middle" fill="#000" transform="rotate(-90 415.20 290.60)" xml:space="preserve">Axis.2   [8.2%]</text>
<line x1="556.70" y1="323.25" x2="639.50" y2="323.25" stroke="#5c6868" stroke-width="0.55" stroke-dasharray="3.6 2.8" stroke-dashoffset="0"/>
<line x1="556.70" y1="308.35" x2="639.50" y2="308.35" stroke="#5c6868" stroke-width="0.55" stroke-dasharray="3.6 2.8" stroke-dashoffset="0"/>
<line x1="556.70" y1="293.45" x2="639.50" y2="293.45" stroke="#5c6868" stroke-width="0.55" stroke-dasharray="3.6 2.8" stroke-dashoffset="0"/>
<line x1="556.70" y1="278.55" x2="639.50" y2="278.55" stroke="#5c6868" stroke-width="0.55" stroke-dasharray="3.6 2.8" stroke-dashoffset="0"/>
<line x1="556.70" y1="263.65" x2="639.50" y2="263.65" stroke="#5c6868" stroke-width="0.55" stroke-dasharray="3.6 2.8" stroke-dashoffset="0"/>
<line x1="556.70" y1="330.70" x2="639.50" y2="330.70" stroke="#465252" stroke-width="0.55" stroke-dasharray="3.6 2.8" stroke-dashoffset="0"/>
<line x1="556.70" y1="315.80" x2="639.50" y2="315.80" stroke="#465252" stroke-width="0.55" stroke-dasharray="3.6 2.8" stroke-dashoffset="0"/>
<line x1="556.70" y1="300.90" x2="639.50" y2="300.90" stroke="#465252" stroke-width="0.55" stroke-dasharray="3.6 2.8" stroke-dashoffset="0"/>
<line x1="556.70" y1="286.00" x2="639.50" y2="286.00" stroke="#465252" stroke-width="0.55" stroke-dasharray="3.6 2.8" stroke-dashoffset="0"/>
<line x1="556.70" y1="271.10" x2="639.50" y2="271.10" stroke="#465252" stroke-width="0.55" stroke-dasharray="3.6 2.8" stroke-dashoffset="0"/>
<line x1="556.70" y1="256.20" x2="639.50" y2="256.20" stroke="#465252" stroke-width="0.55" stroke-dasharray="3.6 2.8" stroke-dashoffset="0"/>
<line x1="559.50" y1="248.90" x2="559.50" y2="331.90" stroke="#5c6868" stroke-width="0.55" stroke-dasharray="3.6 2.8" stroke-dashoffset="0"/>
<line x1="565.55" y1="248.90" x2="565.55" y2="331.90" stroke="#5c6868" stroke-width="0.55" stroke-dasharray="3.6 2.8" stroke-dashoffset="0"/>
<line x1="577.65" y1="248.90" x2="577.65" y2="331.90" stroke="#5c6868" stroke-width="0.55" stroke-dasharray="3.6 2.8" stroke-dashoffset="0"/>
<line x1="583.70" y1="248.90" x2="583.70" y2="331.90" stroke="#5c6868" stroke-width="0.55" stroke-dasharray="3.6 2.8" stroke-dashoffset="0"/>
<line x1="589.75" y1="248.90" x2="589.75" y2="331.90" stroke="#5c6868" stroke-width="0.55" stroke-dasharray="3.6 2.8" stroke-dashoffset="0"/>
<line x1="601.85" y1="248.90" x2="601.85" y2="331.90" stroke="#5c6868" stroke-width="0.55" stroke-dasharray="3.6 2.8" stroke-dashoffset="0"/>
<line x1="607.90" y1="248.90" x2="607.90" y2="331.90" stroke="#5c6868" stroke-width="0.55" stroke-dasharray="3.6 2.8" stroke-dashoffset="0"/>
<line x1="613.95" y1="248.90" x2="613.95" y2="331.90" stroke="#5c6868" stroke-width="0.55" stroke-dasharray="3.6 2.8" stroke-dashoffset="0"/>
<line x1="626.05" y1="248.90" x2="626.05" y2="331.90" stroke="#5c6868" stroke-width="0.55" stroke-dasharray="3.6 2.8" stroke-dashoffset="0"/>
<line x1="632.10" y1="248.90" x2="632.10" y2="331.90" stroke="#5c6868" stroke-width="0.55" stroke-dasharray="3.6 2.8" stroke-dashoffset="0"/>
<line x1="638.15" y1="248.90" x2="638.15" y2="331.90" stroke="#5c6868" stroke-width="0.55" stroke-dasharray="3.6 2.8" stroke-dashoffset="0"/>
<line x1="571.60" y1="248.90" x2="571.60" y2="331.90" stroke="#465252" stroke-width="0.55" stroke-dasharray="3.6 2.8" stroke-dashoffset="0"/>
<line x1="595.80" y1="248.90" x2="595.80" y2="331.90" stroke="#465252" stroke-width="0.55" stroke-dasharray="3.6 2.8" stroke-dashoffset="0"/>
<line x1="620.00" y1="248.90" x2="620.00" y2="331.90" stroke="#465252" stroke-width="0.55" stroke-dasharray="3.6 2.8" stroke-dashoffset="0"/>
<circle cx="611.49" cy="253.01" r="2.70" fill="#0f0fe8" stroke="none" stroke-width="0.50"/>
<circle cx="610.69" cy="265.03" r="2.70" fill="#0f0fe8" stroke="none" stroke-width="0.50"/>
<circle cx="605.88" cy="265.83" r="2.70" fill="#0f0fe8" stroke="none" stroke-width="0.50"/>
<circle cx="607.96" cy="267.91" r="2.70" fill="#0f0fe8" stroke="none" stroke-width="0.50"/>
<circle cx="602.67" cy="269.03" r="2.70" fill="#0f0fe8" stroke="none" stroke-width="0.50"/>
<circle cx="598.99" cy="269.83" r="2.70" fill="#0f0fe8" stroke="none" stroke-width="0.50"/>
<circle cx="605.08" cy="271.44" r="2.70" fill="#0f0fe8" stroke="none" stroke-width="0.50"/>
<circle cx="601.07" cy="273.04" r="2.70" fill="#0f0fe8" stroke="none" stroke-width="0.50"/>
<circle cx="597.87" cy="274.64" r="2.70" fill="#0f0fe8" stroke="none" stroke-width="0.50"/>
<circle cx="599.47" cy="277.04" r="2.70" fill="#0f0fe8" stroke="none" stroke-width="0.50"/>
<circle cx="595.46" cy="278.65" r="2.70" fill="#0f0fe8" stroke="none" stroke-width="0.50"/>
<circle cx="597.87" cy="280.25" r="2.70" fill="#0f0fe8" stroke="none" stroke-width="0.50"/>
<circle cx="593.06" cy="280.25" r="2.70" fill="#0f0fe8" stroke="none" stroke-width="0.50"/>
<circle cx="585.85" cy="283.46" r="2.70" fill="#0f0fe8" stroke="none" stroke-width="0.50"/>
<circle cx="590.65" cy="283.46" r="2.70" fill="#0f0fe8" stroke="none" stroke-width="0.50"/>
<circle cx="594.66" cy="283.46" r="2.70" fill="#0f0fe8" stroke="none" stroke-width="0.50"/>
<circle cx="600.27" cy="281.85" r="2.70" fill="#0f0fe8" stroke="none" stroke-width="0.50"/>
<circle cx="588.25" cy="286.18" r="2.70" fill="#0f0fe8" stroke="none" stroke-width="0.50"/>
<circle cx="591.46" cy="288.26" r="2.70" fill="#0f0fe8" stroke="none" stroke-width="0.50"/>
<circle cx="598.35" cy="288.74" r="2.70" fill="#0f0fe8" stroke="none" stroke-width="0.50"/>
<circle cx="583.44" cy="289.06" r="2.70" fill="#0f0fe8" stroke="none" stroke-width="0.50"/>
<circle cx="580.24" cy="290.99" r="2.70" fill="#0f0fe8" stroke="none" stroke-width="0.50"/>
<circle cx="581.04" cy="293.07" r="2.70" fill="#0f0fe8" stroke="none" stroke-width="0.50"/>
<circle cx="577.03" cy="294.67" r="2.70" fill="#0f0fe8" stroke="none" stroke-width="0.50"/>
<circle cx="578.63" cy="296.28" r="2.70" fill="#0f0fe8" stroke="none" stroke-width="0.50"/>
<circle cx="574.63" cy="297.08" r="2.70" fill="#0f0fe8" stroke="none" stroke-width="0.50"/>
<circle cx="572.22" cy="298.68" r="2.70" fill="#0f0fe8" stroke="none" stroke-width="0.50"/>
<circle cx="573.03" cy="301.08" r="2.70" fill="#0f0fe8" stroke="none" stroke-width="0.50"/>
<circle cx="569.02" cy="300.28" r="2.70" fill="#0f0fe8" stroke="none" stroke-width="0.50"/>
<circle cx="567.42" cy="301.88" r="2.70" fill="#0f0fe8" stroke="none" stroke-width="0.50"/>
<circle cx="569.82" cy="303.49" r="2.70" fill="#0f0fe8" stroke="none" stroke-width="0.50"/>
<circle cx="605.40" cy="299.48" r="2.70" fill="#0f0fe8" stroke="none" stroke-width="0.50"/>
<circle cx="625.11" cy="296.76" r="2.70" fill="#0f0fe8" stroke="none" stroke-width="0.50"/>
<circle cx="616.78" cy="322.72" r="2.70" fill="#0f0fe8" stroke="none" stroke-width="0.50"/>
<circle cx="603.47" cy="273.04" r="2.70" fill="#0f0fe8" stroke="none" stroke-width="0.50"/>
<circle cx="596.26" cy="276.24" r="2.70" fill="#0f0fe8" stroke="none" stroke-width="0.50"/>
<circle cx="593.06" cy="285.86" r="2.70" fill="#0f0fe8" stroke="none" stroke-width="0.50"/>
<circle cx="585.04" cy="287.46" r="2.70" fill="#0f0fe8" stroke="none" stroke-width="0.50"/>
<circle cx="576.23" cy="298.68" r="2.70" fill="#0f0fe8" stroke="none" stroke-width="0.50"/>
<circle cx="606.68" cy="269.83" r="2.70" fill="#0f0fe8" stroke="none" stroke-width="0.50"/>
<circle cx="582.64" cy="291.47" r="2.70" fill="#0f0fe8" stroke="none" stroke-width="0.50"/>
<circle cx="589.05" cy="285.06" r="2.70" fill="#0f0fe8" stroke="none" stroke-width="0.50"/>
<circle cx="597.06" cy="271.44" r="2.70" fill="#0f0fe8" stroke="none" stroke-width="0.50"/>
<circle cx="571.42" cy="301.88" r="2.70" fill="#0f0fe8" stroke="none" stroke-width="0.50"/>
<circle cx="609.88" cy="271.12" r="2.70" fill="#b81414" stroke="none" stroke-width="0.50"/>
<circle cx="589.05" cy="280.73" r="2.70" fill="#b81414" stroke="none" stroke-width="0.50"/>
<circle cx="577.35" cy="288.26" r="2.70" fill="#b81414" stroke="none" stroke-width="0.50"/>
<circle cx="588.57" cy="287.46" r="2.70" fill="#b81414" stroke="none" stroke-width="0.50"/>
<circle cx="597.87" cy="286.66" r="2.70" fill="#b81414" stroke="none" stroke-width="0.50"/>
<circle cx="587.45" cy="293.07" r="2.70" fill="#b81414" stroke="none" stroke-width="0.50"/>
<circle cx="585.85" cy="295.47" r="2.70" fill="#b81414" stroke="none" stroke-width="0.50"/>
<circle cx="614.37" cy="304.29" r="2.70" fill="#b81414" stroke="none" stroke-width="0.50"/>
<circle cx="627.03" cy="313.90" r="2.70" fill="#b81414" stroke="none" stroke-width="0.50"/>
<circle cx="633.44" cy="321.12" r="2.70" fill="#b81414" stroke="none" stroke-width="0.50"/>
<circle cx="609.08" cy="324.32" r="2.70" fill="#b81414" stroke="none" stroke-width="0.50"/>
<ellipse cx="591.80" cy="281.00" rx="34.30" ry="7.60" transform="rotate(-39.0 591.80 281.00)" fill="none" stroke="#0f0fe8" stroke-width="1.5"/>
<ellipse cx="597.60" cy="290.60" rx="48.90" ry="22.80" transform="rotate(44.0 597.60 290.60)" fill="none" stroke="#b81414" stroke-width="1.5"/>
<rect x="576.30" y="232.40" width="42.10" height="16.10" fill="#b7c3bc" stroke="#000" stroke-width="1.20" />
<rect x="556.70" y="248.90" width="82.80" height="83.00" fill="none" stroke="#000" stroke-width="1.30" />
<text x="597.35" y="240.80" font-size="6.60px" font-weight="bold" text-anchor="middle" fill="#000" >wUnifrac</text>
<text x="597.35" y="246.40" font-size="4.20px" font-weight="bold" text-anchor="middle" fill="#111" >R²=0.04, p = 0.03</text>
<line x1="553.40" y1="330.70" x2="556.70" y2="330.70" stroke="#222" stroke-width="0.90" />
<text x="550.30" y="333.00" font-size="6.50px" font-weight="normal" text-anchor="end" fill="#111" >−0.3</text>
<line x1="553.40" y1="315.80" x2="556.70" y2="315.80" stroke="#222" stroke-width="0.90" />
<text x="550.30" y="318.10" font-size="6.50px" font-weight="normal" text-anchor="end" fill="#111" >−0.2</text>
<line x1="553.40" y1="300.90" x2="556.70" y2="300.90" stroke="#222" stroke-width="0.90" />
<text x="550.30" y="303.20" font-size="6.50px" font-weight="normal" text-anchor="end" fill="#111" >−0.1</text>
<line x1="553.40" y1="286.00" x2="556.70" y2="286.00" stroke="#222" stroke-width="0.90" />
<text x="550.30" y="288.30" font-size="6.50px" font-weight="normal" text-anchor="end" fill="#111" >0.0</text>
<line x1="553.40" y1="271.10" x2="556.70" y2="271.10" stroke="#222" stroke-width="0.90" />
<text x="550.30" y="273.40" font-size="6.50px" font-weight="normal" text-anchor="end" fill="#111" >0.1</text>
<line x1="553.40" y1="256.20" x2="556.70" y2="256.20" stroke="#222" stroke-width="0.90" />
<text x="550.30" y="258.50" font-size="6.50px" font-weight="normal" text-anchor="end" fill="#111" >0.2</text>
<line x1="571.60" y1="331.90" x2="571.60" y2="334.90" stroke="#222" stroke-width="0.90" />
<text x="576.70" y="337.30" font-size="6.60px" font-weight="normal" text-anchor="end" fill="#111" transform="rotate(-90 576.70 337.30)" >−0.2</text>
<line x1="595.80" y1="331.90" x2="595.80" y2="334.90" stroke="#222" stroke-width="0.90" />
<text x="600.90" y="337.30" font-size="6.60px" font-weight="normal" text-anchor="end" fill="#111" transform="rotate(-90 600.90 337.30)" >0.0</text>
<line x1="620.00" y1="331.90" x2="620.00" y2="334.90" stroke="#222" stroke-width="0.90" />
<text x="625.10" y="337.30" font-size="6.60px" font-weight="normal" text-anchor="end" fill="#111" transform="rotate(-90 625.10 337.30)" >0.2</text>
<text x="598.90" y="360.20" font-size="6.90px" font-weight="bold" text-anchor="middle" fill="#000" xml:space="preserve">Axis.1   [27.5%]</text>
<text x="532.80" y="290.60" font-size="6.90px" font-weight="bold" text-anchor="middle" fill="#000" transform="rotate(-90 532.80 290.60)" xml:space="preserve">Axis.2   [18.3%]</text>
<text x="641.50" y="236.20" font-size="4.60px" font-weight="normal" text-anchor="start" fill="#222" >Progressor Status</text>
<circle cx="645.90" cy="243.10" r="2.70" fill="#0f0fe8" stroke="none" stroke-width="0.50"/>
<text x="651.70" y="244.70" font-size="4.70px" font-weight="normal" text-anchor="start" fill="#222" >Non-Progressor</text>
<circle cx="645.90" cy="251.20" r="2.70" fill="#b81414" stroke="none" stroke-width="0.50"/>
<text x="651.70" y="252.80" font-size="4.70px" font-weight="normal" text-anchor="start" fill="#222" >Progressor</text>
<text x="-0.30" y="375.60" font-size="13.50px" font-weight="bold" text-anchor="start" fill="#000" >n</text>
<rect x="28.10" y="373.80" width="158.80" height="10.00" fill="#d5dbd7" stroke="none" stroke-width="1.00" />
<rect x="28.10" y="383.80" width="158.80" height="118.80" fill="#e6ebe8" stroke="none" stroke-width="1.00" />
<path d="M29.9 383.8V502.6M33.51 383.8V502.6M37.12 383.8V502.6M40.73 383.8V502.6M44.34 383.8V502.6M47.95 383.8V502.6M51.56 383.8V502.6M55.17 383.8V502.6M58.78 383.8V502.6M62.39 383.8V502.6M66 383.8V502.6M69.6 383.8V502.6M73.21 383.8V502.6M76.82 383.8V502.6M80.43 383.8V502.6M84.04 383.8V502.6M87.65 383.8V502.6M91.26 383.8V502.6M94.87 383.8V502.6M98.48 383.8V502.6M102.09 383.8V502.6M105.7 383.8V502.6M109.3 383.8V502.6M112.91 383.8V502.6M116.52 383.8V502.6M120.13 383.8V502.6M123.74 383.8V502.6M127.35 383.8V502.6M130.96 383.8V502.6M134.57 383.8V502.6M138.18 383.8V502.6M141.79 383.8V502.6M145.4 383.8V502.6M149 383.8V502.6M152.61 383.8V502.6M156.22 383.8V502.6M159.83 383.8V502.6M163.44 383.8V502.6M167.05 383.8V502.6M170.66 383.8V502.6M174.27 383.8V502.6M177.88 383.8V502.6M181.49 383.8V502.6M185.1 383.8V502.6" stroke="#fff" stroke-width="0.8" fill="none"/>
<path d="M28.6 388.9h2.6v64.19h-2.6zM32.21 388.9h2.6v62.02h-2.6zM35.82 388.9h2.6v101.18h-2.6zM39.43 388.9h2.6v63.1h-2.6zM43.04 388.9h2.6v70.94h-2.6zM46.65 388.9h2.6v46.78h-2.6zM50.26 388.9h2.6v48.96h-2.6zM53.87 388.9h2.6v40.26h-2.6zM57.48 388.9h2.6v54.4h-2.6zM61.09 388.9h2.6v73h-2.6zM64.7 388.9h2.6v46.78h-2.6zM68.3 388.9h2.6v73h-2.6zM71.91 388.9h2.6v63.1h-2.6zM75.52 388.9h2.6v22.3h-2.6zM79.13 388.9h2.6v62.02h-2.6zM82.74 388.9h2.6v72.13h-2.6zM86.35 388.9h2.6v69.09h-2.6zM89.96 388.9h2.6v55.49h-2.6zM93.57 388.9h2.6v73.98h-2.6zM97.18 388.9h2.6v47.87h-2.6zM100.79 388.9h2.6v57.66h-2.6zM104.4 388.9h2.6v52.22h-2.6zM108 388.9h2.6v55.49h-2.6zM111.61 388.9h2.6v25.02h-2.6zM115.22 388.9h2.6v63.1h-2.6zM118.83 388.9h2.6v67.46h-2.6zM122.44 388.9h2.6v58.21h-2.6zM126.05 388.9h2.6v71.81h-2.6zM129.66 388.9h2.6v56.58h-2.6zM133.27 388.9h2.6v73.37h-2.6zM136.88 388.9h2.6v63.1h-2.6zM140.49 388.9h2.6v70.94h-2.6zM144.1 388.9h2.6v54.4h-2.6zM147.7 388.9h2.6v46.78h-2.6zM151.31 388.9h2.6v22.85h-2.6zM154.92 388.9h2.6v72.79h-2.6zM158.53 388.9h2.6v72.79h-2.6zM162.14 388.9h2.6v85.03h-2.6zM165.75 388.9h2.6v52.22h-2.6zM169.36 388.9h2.6v46.78h-2.6zM172.97 388.9h2.6v57.66h-2.6zM176.58 388.9h2.6v48.42h-2.6zM180.19 388.9h2.6v64.19h-2.6zM183.8 388.9h2.6v69.63h-2.6z" fill="#96e1e8"/>
<path d="M28.6 453.09h2.6v32.86h-2.6zM32.21 450.92h2.6v33.08h-2.6zM35.82 490.08h2.6v3.81h-2.6zM39.43 452h2.6v31.12h-2.6zM43.04 459.84h2.6v35.14h-2.6zM46.65 435.68h2.6v34.6h-2.6zM50.26 437.86h2.6v49.29h-2.6zM53.87 429.16h2.6v43.79h-2.6zM57.48 443.3h2.6v36.99h-2.6zM61.09 461.9h2.6v29.27h-2.6zM64.7 435.68h2.6v55.49h-2.6zM68.3 461.9h2.6v12.62h-2.6zM71.91 452h2.6v39.71h-2.6zM75.52 411.2h2.6v64.19h-2.6zM79.13 450.92h2.6v35.9h-2.6zM82.74 461.03h2.6v20.02h-2.6zM86.35 457.99h2.6v19.87h-2.6zM89.96 444.39h2.6v37.54h-2.6zM93.57 462.88h2.6v19.04h-2.6zM97.18 436.77h2.6v34.09h-2.6zM100.79 446.56h2.6v49.4h-2.6zM104.4 441.12h2.6v39.93h-2.6zM108 444.39h2.6v48.96h-2.6zM111.61 413.92h2.6v68h-2.6zM115.22 452h2.6v40.26h-2.6zM118.83 456.36h2.6v36.56h-2.6zM122.44 447.11h2.6v43.41h-2.6zM126.05 460.71h2.6v31.55h-2.6zM129.66 445.48h2.6v35.58h-2.6zM133.27 462.27h2.6v28.9h-2.6zM136.88 452h2.6v27.09h-2.6zM140.49 459.84h2.6v0.87h-2.6zM144.1 443.3h2.6v36.45h-2.6zM147.7 435.68h2.6v52.33h-2.6zM151.31 411.75h2.6v55.49h-2.6zM154.92 461.69h2.6v26.98h-2.6zM158.53 461.69h2.6v30.03h-2.6zM162.14 473.93h2.6v2.23h-2.6zM165.75 441.12h2.6v34.82h-2.6zM169.36 435.68h2.6v37.64h-2.6zM172.97 446.56h2.6v36.56h-2.6zM176.58 437.32h2.6v40.91h-2.6zM180.19 453.09h2.6v42.43h-2.6zM183.8 458.53h2.6v28.29h-2.6z" fill="#3c9be6"/>
<path d="M28.6 485.95h2.6v2.07h-2.6zM32.21 483.99h2.6v6.09h-2.6zM35.82 493.89h2.6v0.33h-2.6zM39.43 483.12h2.6v5.77h-2.6zM43.04 494.98h2.6v0.44h-2.6zM46.65 470.28h2.6v2.67h-2.6zM50.26 487.15h2.6v2.94h-2.6zM53.87 472.95h2.6v2.82h-2.6zM57.48 480.29h2.6v2.83h-2.6zM61.09 491.17h2.6v3.05h-2.6zM64.7 491.17h2.6v0.54h-2.6zM68.3 474.53h2.6v1.63h-2.6zM71.91 491.72h2.6v3.05h-2.6zM75.52 475.4h2.6v0.37h-2.6zM79.13 486.82h2.6v7.34h-2.6zM82.74 481.05h2.6v8.6h-2.6zM86.35 477.85h2.6v8.09h-2.6zM89.96 481.92h2.6v6.09h-2.6zM93.57 481.92h2.6v7.33h-2.6zM97.18 470.86h2.6v15.96h-2.6zM100.79 495.96h2.6v0.65h-2.6zM104.4 481.05h2.6v2.94h-2.6zM108 493.35h2.6v1.2h-2.6zM111.61 481.92h2.6v0.54h-2.6zM115.22 492.26h2.6v0.33h-2.6zM118.83 492.91h2.6v1.63h-2.6zM122.44 490.52h2.6v2.39h-2.6zM126.05 492.26h2.6v0.33h-2.6zM129.66 481.05h2.6v8.2h-2.6zM133.27 491.17h2.6v2.18h-2.6zM136.88 479.1h2.6v12.08h-2.6zM140.49 460.71h2.6v24.48h-2.6zM144.1 479.75h2.6v0.33h-2.6zM147.7 488.02h2.6v0.87h-2.6zM151.31 467.24h2.6v0.54h-2.6zM154.92 488.67h2.6v0.59h-2.6zM158.53 491.72h2.6v1.2h-2.6zM162.14 476.16h2.6v16.76h-2.6zM165.75 475.94h2.6v0.22h-2.6zM169.36 473.33h2.6v10.23h-2.6zM172.97 483.12h2.6v1.85h-2.6zM176.58 478.22h2.6v2.83h-2.6zM180.19 495.52h2.6v0.48h-2.6zM183.8 486.82h2.6v6.09h-2.6z" fill="#4cb98f"/>
<path d="M28.6 488.02h2.6v3.7h-2.6zM32.21 490.08h2.6v1.96h-2.6zM35.82 494.22h2.6v2.94h-2.6zM39.43 488.89h2.6v7.51h-2.6zM43.04 495.42h2.6v1.63h-2.6zM46.65 472.95h2.6v3.43h-2.6zM50.26 490.08h2.6v6.31h-2.6zM53.87 475.77h2.6v20.3h-2.6zM57.48 483.12h2.6v13.27h-2.6zM61.09 494.22h2.6v1.78h-2.6zM64.7 491.72h2.6v4.9h-2.6zM68.3 476.16h2.6v2.72h-2.6zM71.91 494.76h2.6v1.31h-2.6zM75.52 475.77h2.6v13.49h-2.6zM79.13 494.16h2.6v2.23h-2.6zM82.74 489.65h2.6v1.2h-2.6zM86.35 485.95h2.6v6.96h-2.6zM89.96 488.02h2.6v2.83h-2.6zM93.57 489.26h2.6v2.46h-2.6zM97.18 486.82h2.6v0.87h-2.6zM100.79 496.61h2.6v0.65h-2.6zM104.4 483.99h2.6v7.72h-2.6zM108 494.54h2.6v1.85h-2.6zM111.61 482.47h2.6v13.6h-2.6zM115.22 492.59h2.6v0.33h-2.6zM118.83 494.54h2.6v1.85h-2.6zM122.44 492.91h2.6v1.52h-2.6zM126.05 492.59h2.6v0.98h-2.6zM129.66 489.26h2.6v2.46h-2.6zM133.27 493.35h2.6v2.18h-2.6zM136.88 491.17h2.6v1.41h-2.6zM140.49 485.19h2.6v0.76h-2.6zM144.1 480.07h2.6v14.14h-2.6zM147.7 488.89h2.6v7.18h-2.6zM151.31 467.78h2.6v7.07h-2.6zM154.92 489.26h2.6v3.66h-2.6zM158.53 492.91h2.6v3.16h-2.6zM162.14 492.91h2.6v2.61h-2.6zM165.75 476.16h2.6v0.11h-2.6zM169.36 483.56h2.6v0.22h-2.6zM172.97 484.97h2.6v4.9h-2.6zM176.58 481.05h2.6v0.22h-2.6zM180.19 496h2.6v1.04h-2.6zM183.8 492.91h2.6v1.31h-2.6z" fill="#8cf05a"/>
<path d="M28.6 491.72h2.6v5.22h-2.6zM32.21 492.04h2.6v4.79h-2.6zM35.82 497.16h2.6v0.54h-2.6zM39.43 496.39h2.6v0.44h-2.6zM43.04 497.05h2.6v0.65h-2.6zM46.65 476.38h2.6v16.54h-2.6zM50.26 496.39h2.6v0.44h-2.6zM53.87 496.07h2.6v0.54h-2.6zM57.48 496.39h2.6v0.65h-2.6zM61.09 496h2.6v1.15h-2.6zM64.7 496.61h2.6v1.09h-2.6zM68.3 478.88h2.6v14.91h-2.6zM71.91 496.07h2.6v1.09h-2.6zM75.52 489.26h2.6v3.22h-2.6zM79.13 496.39h2.6v0.44h-2.6zM82.74 490.85h2.6v5.16h-2.6zM86.35 492.91h2.6v1.52h-2.6zM89.96 490.85h2.6v4.9h-2.6zM93.57 491.72h2.6v5.11h-2.6zM97.18 487.69h2.6v9.14h-2.6zM100.79 497.26h2.6v0.44h-2.6zM104.4 491.72h2.6v5.11h-2.6zM108 496.39h2.6v0.65h-2.6zM111.61 496.07h2.6v0.76h-2.6zM115.22 492.91h2.6v4.24h-2.6zM118.83 496.39h2.6v0.44h-2.6zM122.44 494.44h2.6v2.39h-2.6zM126.05 493.57h2.6v3.59h-2.6zM129.66 491.72h2.6v5.11h-2.6zM133.27 495.52h2.6v1.52h-2.6zM136.88 492.59h2.6v4.24h-2.6zM140.49 485.95h2.6v10.44h-2.6zM144.1 494.22h2.6v1.85h-2.6zM147.7 496.07h2.6v0.98h-2.6zM151.31 474.85h2.6v0.33h-2.6zM154.92 492.91h2.6v4.13h-2.6zM158.53 496.07h2.6v0.98h-2.6zM162.14 495.52h2.6v1.52h-2.6zM165.75 476.27h2.6v20.13h-2.6zM169.36 483.77h2.6v12.62h-2.6zM172.97 489.87h2.6v3.05h-2.6zM176.58 481.27h2.6v13.49h-2.6zM180.19 497.05h2.6v0.33h-2.6zM183.8 494.22h2.6v1.31h-2.6z" fill="#40dc1e"/>
<path d="M28.6 496.94h2.6v0.76h-2.6zM32.21 496.83h2.6v0.87h-2.6zM39.43 496.83h2.6v0.87h-2.6zM46.65 492.91h2.6v2.83h-2.6zM50.26 496.83h2.6v0.87h-2.6zM53.87 496.61h2.6v1.09h-2.6zM57.48 497.05h2.6v0.65h-2.6zM61.09 497.16h2.6v0.54h-2.6zM68.3 493.78h2.6v0.38h-2.6zM71.91 497.16h2.6v0.54h-2.6zM75.52 492.48h2.6v0.22h-2.6zM79.13 496.83h2.6v0.87h-2.6zM82.74 496h2.6v1.37h-2.6zM86.35 494.44h2.6v2.83h-2.6zM89.96 495.74h2.6v0.26h-2.6zM93.57 496.83h2.6v0.87h-2.6zM97.18 496.83h2.6v0.87h-2.6zM104.4 496.83h2.6v0.87h-2.6zM108 497.05h2.6v0.65h-2.6zM111.61 496.83h2.6v0.87h-2.6zM115.22 497.16h2.6v0.54h-2.6zM118.83 496.83h2.6v0.87h-2.6zM122.44 496.83h2.6v0.87h-2.6zM126.05 497.16h2.6v0.54h-2.6zM129.66 496.83h2.6v0.87h-2.6zM133.27 497.05h2.6v0.65h-2.6zM136.88 496.83h2.6v0.87h-2.6zM140.49 496.39h2.6v1.31h-2.6zM144.1 496.07h2.6v1.63h-2.6zM147.7 497.05h2.6v0.65h-2.6zM151.31 475.18h2.6v1.85h-2.6zM154.92 497.05h2.6v0.65h-2.6zM158.53 497.05h2.6v0.65h-2.6zM162.14 497.05h2.6v0.65h-2.6zM165.75 496.39h2.6v1.31h-2.6zM169.36 496.39h2.6v1.31h-2.6zM172.97 492.91h2.6v4.79h-2.6zM176.58 494.76h2.6v2.94h-2.6zM180.19 497.37h2.6v0.33h-2.6zM183.8 495.52h2.6v2.18h-2.6z" fill="#86a843"/>
<path d="M75.52 492.7h2.6v5h-2.6zM82.74 497.37h2.6v0.33h-2.6zM86.35 497.26h2.6v0.44h-2.6zM89.96 496h2.6v1.48h-2.6zM151.31 477.03h2.6v20.67h-2.6z" fill="#f05a96"/>
<path d="M46.65 495.74h2.6v1.96h-2.6zM68.3 494.16h2.6v3.54h-2.6zM89.96 497.48h2.6v0.22h-2.6z" fill="#ff1030"/>
<line x1="28.10" y1="470.50" x2="186.90" y2="470.50" stroke="#fff" stroke-width="0.50" stroke-dasharray="1.2 2.4" opacity="0.35"/>
<line x1="28.10" y1="443.30" x2="186.90" y2="443.30" stroke="#fff" stroke-width="0.50" stroke-dasharray="1.2 2.4" opacity="0.35"/>
<line x1="28.10" y1="416.10" x2="186.90" y2="416.10" stroke="#fff" stroke-width="0.50" stroke-dasharray="1.2 2.4" opacity="0.35"/>
<rect x="28.10" y="373.80" width="158.80" height="128.80" fill="none" stroke="#000" stroke-width="1.50" />
<text x="107.50" y="382.00" font-size="6.90px" font-weight="bold" text-anchor="middle" fill="#111" >Non-Progressor</text>
<path d="M29.9 503.4v2.3M33.51 503.4v2.3M37.12 503.4v2.3M40.73 503.4v2.3M44.34 503.4v2.3M47.95 503.4v2.3M51.56 503.4v2.3M55.17 503.4v2.3M58.78 503.4v2.3M62.39 503.4v2.3M66 503.4v2.3M69.6 503.4v2.3M73.21 503.4v2.3M76.82 503.4v2.3M80.43 503.4v2.3M84.04 503.4v2.3M87.65 503.4v2.3M91.26 503.4v2.3M94.87 503.4v2.3M98.48 503.4v2.3M102.09 503.4v2.3M105.7 503.4v2.3M109.3 503.4v2.3M112.91 503.4v2.3M116.52 503.4v2.3M120.13 503.4v2.3M123.74 503.4v2.3M127.35 503.4v2.3M130.96 503.4v2.3M134.57 503.4v2.3M138.18 503.4v2.3M141.79 503.4v2.3M145.4 503.4v2.3M149 503.4v2.3M152.61 503.4v2.3M156.22 503.4v2.3M159.83 503.4v2.3M163.44 503.4v2.3M167.05 503.4v2.3M170.66 503.4v2.3M174.27 503.4v2.3M177.88 503.4v2.3M181.49 503.4v2.3M185.1 503.4v2.3" stroke="#2a3838" stroke-width="0.9" fill="none"/>
<g font-size="3.7px" font-weight="bold" text-anchor="end" fill="#111"><text x="31.2" y="506.9" transform="rotate(-90 31.2 506.9)">S7375</text><text x="34.81" y="506.9" transform="rotate(-90 34.81 506.9)">S914</text><text x="38.42" y="506.9" transform="rotate(-90 38.42 506.9)">S961</text><text x="42.03" y="506.9" transform="rotate(-90 42.03 506.9)">MS8628b</text><text x="45.64" y="506.9" transform="rotate(-90 45.64 506.9)">S894</text><text x="49.25" y="506.9" transform="rotate(-90 49.25 506.9)">MS3569b</text><text x="52.86" y="506.9" transform="rotate(-90 52.86 506.9)">S2153</text><text x="56.47" y="506.9" transform="rotate(-90 56.47 506.9)">S489</text><text x="60.08" y="506.9" transform="rotate(-90 60.08 506.9)">S6873</text><text x="63.69" y="506.9" transform="rotate(-90 63.69 506.9)">S5176</text><text x="67.3" y="506.9" transform="rotate(-90 67.3 506.9)">S263</text><text x="70.9" y="506.9" transform="rotate(-90 70.9 506.9)">S1739</text><text x="74.51" y="506.9" transform="rotate(-90 74.51 506.9)">S5550</text><text x="78.12" y="506.9" transform="rotate(-90 78.12 506.9)">MS4530b</text><text x="81.73" y="506.9" transform="rotate(-90 81.73 506.9)">S269</text><text x="85.34" y="506.9" transform="rotate(-90 85.34 506.9)">S3963</text><text x="88.95" y="506.9" transform="rotate(-90 88.95 506.9)">S652</text><text x="92.56" y="506.9" transform="rotate(-90 92.56 506.9)">S7403</text><text x="96.17" y="506.9" transform="rotate(-90 96.17 506.9)">S4925</text><text x="99.78" y="506.9" transform="rotate(-90 99.78 506.9)">S5242</text><text x="103.39" y="506.9" transform="rotate(-90 103.39 506.9)">MS5937b</text><text x="107" y="506.9" transform="rotate(-90 107 506.9)">S937</text><text x="110.6" y="506.9" transform="rotate(-90 110.6 506.9)">S103</text><text x="114.21" y="506.9" transform="rotate(-90 114.21 506.9)">S8244</text><text x="117.82" y="506.9" transform="rotate(-90 117.82 506.9)">S463</text><text x="121.43" y="506.9" transform="rotate(-90 121.43 506.9)">S592</text><text x="125.04" y="506.9" transform="rotate(-90 125.04 506.9)">S289</text><text x="128.65" y="506.9" transform="rotate(-90 128.65 506.9)">S8214</text><text x="132.26" y="506.9" transform="rotate(-90 132.26 506.9)">S123</text><text x="135.87" y="506.9" transform="rotate(-90 135.87 506.9)">S466</text><text x="139.48" y="506.9" transform="rotate(-90 139.48 506.9)">S118</text><text x="143.09" y="506.9" transform="rotate(-90 143.09 506.9)">S5289</text><text x="146.7" y="506.9" transform="rotate(-90 146.7 506.9)">MS1765b</text><text x="150.3" y="506.9" transform="rotate(-90 150.3 506.9)">S8243</text><text x="153.91" y="506.9" transform="rotate(-90 153.91 506.9)">S221</text><text x="157.52" y="506.9" transform="rotate(-90 157.52 506.9)">S939</text><text x="161.13" y="506.9" transform="rotate(-90 161.13 506.9)">S452</text><text x="164.74" y="506.9" transform="rotate(-90 164.74 506.9)">S6377</text><text x="168.35" y="506.9" transform="rotate(-90 168.35 506.9)">S210</text><text x="171.96" y="506.9" transform="rotate(-90 171.96 506.9)">S899</text><text x="175.57" y="506.9" transform="rotate(-90 175.57 506.9)">S9806</text><text x="179.18" y="506.9" transform="rotate(-90 179.18 506.9)">S1938</text><text x="182.79" y="506.9" transform="rotate(-90 182.79 506.9)">S7252</text><text x="186.4" y="506.9" transform="rotate(-90 186.4 506.9)">S4488</text></g>
<rect x="189.70" y="373.80" width="51.20" height="10.00" fill="#d5dbd7" stroke="none" stroke-width="1.00" />
<rect x="189.70" y="383.80" width="51.20" height="118.80" fill="#e6ebe8" stroke="none" stroke-width="1.00" />
<path d="M191.7 383.8V502.6M195.3 383.8V502.6M198.9 383.8V502.6M202.5 383.8V502.6M206.1 383.8V502.6M209.7 383.8V502.6M213.3 383.8V502.6M216.9 383.8V502.6M220.5 383.8V502.6M224.1 383.8V502.6M227.7 383.8V502.6M231.3 383.8V502.6M234.9 383.8V502.6M238.5 383.8V502.6" stroke="#fff" stroke-width="0.8" fill="none"/>
<path d="M190.4 388.9h2.6v57.28h-2.6zM194 388.9h2.6v57.28h-2.6zM197.6 388.9h2.6v56.9h-2.6zM201.2 388.9h2.6v58.21h-2.6zM204.8 388.9h2.6v54.94h-2.6zM208.4 388.9h2.6v67.56h-2.6zM212 388.9h2.6v54.94h-2.6zM215.6 388.9h2.6v64.84h-2.6zM219.2 388.9h2.6v36.99h-2.6zM222.8 388.9h2.6v69.2h-2.6zM226.4 388.9h2.6v47.33h-2.6zM230 388.9h2.6v43.52h-2.6zM233.6 388.9h2.6v58.64h-2.6zM237.2 388.9h2.6v47.87h-2.6z" fill="#96e1e8"/>
<path d="M190.4 446.18h2.6v48.8h-2.6zM194 446.18h2.6v36.28h-2.6zM197.6 445.8h2.6v41.56h-2.6zM201.2 447.11h2.6v37.1h-2.6zM204.8 443.84h2.6v40.36h-2.6zM208.4 456.46h2.6v36.34h-2.6zM212 443.84h2.6v41.71h-2.6zM215.6 453.74h2.6v33.08h-2.6zM219.2 425.89h2.6v68.54h-2.6zM222.8 458.1h2.6v29.7h-2.6zM226.4 436.23h2.6v40.58h-2.6zM230 432.42h2.6v46.24h-2.6zM233.6 447.54h2.6v44.33h-2.6zM237.2 436.77h2.6v39.6h-2.6z" fill="#3c9be6"/>
<path d="M190.4 494.98h2.6v0.54h-2.6zM194 482.47h2.6v0.33h-2.6zM197.6 487.36h2.6v4.5h-2.6zM201.2 484.21h2.6v7.29h-2.6zM204.8 484.21h2.6v6.85h-2.6zM208.4 492.8h2.6v1.09h-2.6zM212 485.56h2.6v8.23h-2.6zM215.6 486.82h2.6v7.83h-2.6zM219.2 494.44h2.6v0.44h-2.6zM222.8 487.8h2.6v7.07h-2.6zM226.4 476.81h2.6v4.08h-2.6zM230 478.66h2.6v0.44h-2.6zM233.6 491.87h2.6v1.64h-2.6zM237.2 476.38h2.6v4.13h-2.6z" fill="#4cb98f"/>
<path d="M190.4 495.52h2.6v1.31h-2.6zM194 482.79h2.6v9.07h-2.6zM197.6 491.87h2.6v3.66h-2.6zM201.2 491.5h2.6v4.03h-2.6zM204.8 491.06h2.6v5h-2.6zM208.4 493.89h2.6v2.5h-2.6zM212 493.78h2.6v2.61h-2.6zM215.6 494.65h2.6v1.74h-2.6zM219.2 494.87h2.6v1.52h-2.6zM222.8 494.87h2.6v1.52h-2.6zM226.4 480.89h2.6v2.45h-2.6zM230 479.1h2.6v12.77h-2.6zM233.6 493.51h2.6v1.47h-2.6zM237.2 480.51h2.6v1.35h-2.6z" fill="#8cf05a"/>
<path d="M190.4 496.83h2.6v0.44h-2.6zM194 491.87h2.6v4.96h-2.6zM197.6 495.52h2.6v1.31h-2.6zM201.2 495.52h2.6v1.31h-2.6zM204.8 496.07h2.6v0.76h-2.6zM208.4 496.39h2.6v0.65h-2.6zM212 496.39h2.6v0.65h-2.6zM215.6 496.39h2.6v0.44h-2.6zM219.2 496.39h2.6v0.65h-2.6zM222.8 496.39h2.6v0.44h-2.6zM226.4 483.34h2.6v0.22h-2.6zM230 491.87h2.6v3.44h-2.6zM233.6 494.98h2.6v1.85h-2.6zM237.2 481.86h2.6v14.54h-2.6z" fill="#40dc1e"/>
<path d="M190.4 497.26h2.6v0.44h-2.6zM194 496.83h2.6v0.87h-2.6zM197.6 496.83h2.6v0.87h-2.6zM201.2 496.83h2.6v0.87h-2.6zM204.8 496.83h2.6v0.87h-2.6zM208.4 497.05h2.6v0.65h-2.6zM212 497.05h2.6v0.65h-2.6zM215.6 496.83h2.6v0.54h-2.6zM219.2 497.05h2.6v0.65h-2.6zM222.8 496.83h2.6v0.54h-2.6zM226.4 483.56h2.6v0.11h-2.6zM230 495.31h2.6v0.22h-2.6zM233.6 496.83h2.6v0.87h-2.6zM237.2 496.39h2.6v1.31h-2.6z" fill="#86a843"/>
<path d="M215.6 497.37h2.6v0.33h-2.6zM222.8 497.37h2.6v0.33h-2.6zM226.4 483.66h2.6v14.04h-2.6zM230 495.52h2.6v2.18h-2.6z" fill="#f05a96"/>
<line x1="189.70" y1="470.50" x2="240.90" y2="470.50" stroke="#fff" stroke-width="0.50" stroke-dasharray="1.2 2.4" opacity="0.35"/>
<line x1="189.70" y1="443.30" x2="240.90" y2="443.30" stroke="#fff" stroke-width="0.50" stroke-dasharray="1.2 2.4" opacity="0.35"/>
<line x1="189.70" y1="416.10" x2="240.90" y2="416.10" stroke="#fff" stroke-width="0.50" stroke-dasharray="1.2 2.4" opacity="0.35"/>
<rect x="189.70" y="373.80" width="51.20" height="128.80" fill="none" stroke="#000" stroke-width="1.50" />
<text x="215.30" y="382.00" font-size="6.90px" font-weight="bold" text-anchor="middle" fill="#111" >Progressor</text>
<path d="M191.7 503.4v2.3M195.3 503.4v2.3M198.9 503.4v2.3M202.5 503.4v2.3M206.1 503.4v2.3M209.7 503.4v2.3M213.3 503.4v2.3M216.9 503.4v2.3M220.5 503.4v2.3M224.1 503.4v2.3M227.7 503.4v2.3M231.3 503.4v2.3M234.9 503.4v2.3M238.5 503.4v2.3" stroke="#2a3838" stroke-width="0.9" fill="none"/>
<g font-size="3.7px" font-weight="bold" text-anchor="end" fill="#111"><text x="193" y="506.9" transform="rotate(-90 193 506.9)">S912</text><text x="196.6" y="506.9" transform="rotate(-90 196.6 506.9)">S182</text><text x="200.2" y="506.9" transform="rotate(-90 200.2 506.9)">MS3385b</text><text x="203.8" y="506.9" transform="rotate(-90 203.8 506.9)">S778</text><text x="207.4" y="506.9" transform="rotate(-90 207.4 506.9)">S877</text><text x="211" y="506.9" transform="rotate(-90 211 506.9)">S427</text><text x="214.6" y="506.9" transform="rotate(-90 214.6 506.9)">S379</text><text x="218.2" y="506.9" transform="rotate(-90 218.2 506.9)">S302</text><text x="221.8" y="506.9" transform="rotate(-90 221.8 506.9)">S523</text><text x="225.4" y="506.9" transform="rotate(-90 225.4 506.9)">S652</text><text x="229" y="506.9" transform="rotate(-90 229 506.9)">S297</text><text x="232.6" y="506.9" transform="rotate(-90 232.6 506.9)">S816</text><text x="236.2" y="506.9" transform="rotate(-90 236.2 506.9)">S371</text><text x="239.8" y="506.9" transform="rotate(-90 239.8 506.9)">S724</text></g>
<rect x="243.90" y="373.80" width="16.40" height="10.00" fill="#d5dbd7" stroke="none" stroke-width="1.00" />
<rect x="243.90" y="383.80" width="16.40" height="118.80" fill="#e6ebe8" stroke="none" stroke-width="1.00" />
<path d="M251.7 383.8V502.6" stroke="#fff" stroke-width="0.8" fill="none"/>
<path d="M246.1 388.9h11.2v59.08h-11.2z" fill="#96e1e8"/>
<path d="M246.1 447.98h11.2v35.25h-11.2z" fill="#3c9be6"/>
<path d="M246.1 483.23h11.2v4.53h-11.2z" fill="#4cb98f"/>
<path d="M246.1 487.76h11.2v4.11h-11.2z" fill="#8cf05a"/>
<path d="M246.1 491.87h11.2v3h-11.2z" fill="#40dc1e"/>
<path d="M246.1 494.87h11.2v1.11h-11.2z" fill="#86a843"/>
<path d="M246.1 495.98h11.2v0.96h-11.2z" fill="#f05a96"/>
<path d="M246.1 496.94h11.2v0.76h-11.2z" fill="#ff1030"/>
<line x1="243.90" y1="470.50" x2="260.30" y2="470.50" stroke="#fff" stroke-width="0.50" stroke-dasharray="1.2 2.4" opacity="0.35"/>
<line x1="243.90" y1="443.30" x2="260.30" y2="443.30" stroke="#fff" stroke-width="0.50" stroke-dasharray="1.2 2.4" opacity="0.35"/>
<line x1="243.90" y1="416.10" x2="260.30" y2="416.10" stroke="#fff" stroke-width="0.50" stroke-dasharray="1.2 2.4" opacity="0.35"/>
<rect x="243.90" y="373.80" width="16.40" height="128.80" fill="none" stroke="#000" stroke-width="1.50" />
<text x="252.10" y="382.00" font-size="6.90px" font-weight="bold" text-anchor="middle" fill="#111" >NP</text>
<rect x="260.30" y="373.80" width="16.70" height="10.00" fill="#d5dbd7" stroke="none" stroke-width="1.00" />
<rect x="260.30" y="383.80" width="16.70" height="118.80" fill="#e6ebe8" stroke="none" stroke-width="1.00" />
<path d="M268.5 383.8V502.6" stroke="#fff" stroke-width="0.8" fill="none"/>
<path d="M262.85 388.9h11.3v54.94h-11.3z" fill="#96e1e8"/>
<path d="M262.85 443.84h11.3v42.11h-11.3z" fill="#3c9be6"/>
<path d="M262.85 485.95h11.3v3.72h-11.3z" fill="#4cb98f"/>
<path d="M262.85 489.67h11.3v3.84h-11.3z" fill="#8cf05a"/>
<path d="M262.85 493.51h11.3v1.36h-11.3z" fill="#40dc1e"/>
<path d="M262.85 494.87h11.3v1.11h-11.3z" fill="#86a843"/>
<path d="M262.85 495.98h11.3v0.96h-11.3z" fill="#f05a96"/>
<path d="M262.85 496.94h11.3v0.76h-11.3z" fill="#ff1030"/>
<line x1="260.30" y1="470.50" x2="277.00" y2="470.50" stroke="#fff" stroke-width="0.50" stroke-dasharray="1.2 2.4" opacity="0.35"/>
<line x1="260.30" y1="443.30" x2="277.00" y2="443.30" stroke="#fff" stroke-width="0.50" stroke-dasharray="1.2 2.4" opacity="0.35"/>
<line x1="260.30" y1="416.10" x2="277.00" y2="416.10" stroke="#fff" stroke-width="0.50" stroke-dasharray="1.2 2.4" opacity="0.35"/>
<rect x="260.30" y="373.80" width="16.70" height="128.80" fill="none" stroke="#000" stroke-width="1.50" />
<text x="268.65" y="382.00" font-size="6.90px" font-weight="bold" text-anchor="middle" fill="#111" >P</text>
<text x="260.70" y="510.20" font-size="4.45px" font-weight="bold" text-anchor="middle" fill="#111" >Grouped</text>
<line x1="25.70" y1="497.70" x2="27.50" y2="497.70" stroke="#000" stroke-width="0.90" />
<text x="25.10" y="500.00" font-size="6.40px" font-weight="bold" text-anchor="end" fill="#000" >0.00</text>
<line x1="25.70" y1="470.50" x2="27.50" y2="470.50" stroke="#000" stroke-width="0.90" />
<text x="25.10" y="472.80" font-size="6.40px" font-weight="bold" text-anchor="end" fill="#000" >0.25</text>
<line x1="25.70" y1="443.30" x2="27.50" y2="443.30" stroke="#000" stroke-width="0.90" />
<text x="25.10" y="445.60" font-size="6.40px" font-weight="bold" text-anchor="end" fill="#000" >0.50</text>
<line x1="25.70" y1="416.10" x2="27.50" y2="416.10" stroke="#000" stroke-width="0.90" />
<text x="25.10" y="418.40" font-size="6.40px" font-weight="bold" text-anchor="end" fill="#000" >0.75</text>
<line x1="25.70" y1="388.90" x2="27.50" y2="388.90" stroke="#000" stroke-width="0.90" />
<text x="25.10" y="391.20" font-size="6.40px" font-weight="bold" text-anchor="end" fill="#000" >1.00</text>
<text x="10.00" y="439.00" font-size="6.80px" font-weight="bold" text-anchor="middle" fill="#000" transform="rotate(-90 10.00 439.00)" >Relative Abundance</text>
<text x="284.40" y="391.70" font-size="5.70px" font-weight="bold" text-anchor="start" fill="#111" text-decoration="underline">Phylum</text>
<rect x="284.80" y="394.00" width="4.40" height="4.60" fill="#96e1e8" stroke="#8a9a9a" stroke-width="0.30" />
<text x="291.40" y="397.90" font-size="4.60px" font-weight="bold" text-anchor="start" fill="#111" >Firmicutes</text>
<rect x="284.80" y="398.94" width="4.40" height="4.60" fill="#3c9be6" stroke="#8a9a9a" stroke-width="0.30" />
<text x="291.40" y="402.84" font-size="4.60px" font-weight="bold" text-anchor="start" fill="#111" >Bacteroidota</text>
<rect x="284.80" y="403.88" width="4.40" height="4.60" fill="#4cb98f" stroke="#8a9a9a" stroke-width="0.30" />
<text x="291.40" y="407.78" font-size="4.60px" font-weight="bold" text-anchor="start" fill="#111" >Actinobacteriota</text>
<rect x="284.80" y="408.82" width="4.40" height="4.60" fill="#8cf05a" stroke="#8a9a9a" stroke-width="0.30" />
<text x="291.40" y="412.72" font-size="4.60px" font-weight="bold" text-anchor="start" fill="#111" >Proteobacteria</text>
<rect x="284.80" y="413.76" width="4.40" height="4.60" fill="#40dc1e" stroke="#8a9a9a" stroke-width="0.30" />
<text x="291.40" y="417.66" font-size="4.60px" font-weight="bold" text-anchor="start" fill="#111" >Verrucomicrobiota</text>
<rect x="284.80" y="418.70" width="4.40" height="4.60" fill="#86a843" stroke="#8a9a9a" stroke-width="0.30" />
<text x="291.40" y="422.60" font-size="4.60px" font-weight="bold" text-anchor="start" fill="#111" >Desulfobacterota</text>
<rect x="284.80" y="423.64" width="4.40" height="4.60" fill="#f05a96" stroke="#8a9a9a" stroke-width="0.30" />
<text x="291.40" y="427.54" font-size="4.60px" font-weight="bold" text-anchor="start" fill="#111" >Fusobacteriota</text>
<rect x="284.80" y="428.58" width="4.40" height="4.60" fill="#ff1030" stroke="#8a9a9a" stroke-width="0.30" />
<text x="291.40" y="432.48" font-size="4.60px" font-weight="bold" text-anchor="start" fill="#111" >Synergistota</text>
<text x="307.60" y="375.40" font-size="13.50px" font-weight="bold" text-anchor="start" fill="#000" >o</text>
<rect x="375.80" y="373.80" width="159.50" height="10.00" fill="#d5dbd7" stroke="none" stroke-width="1.00" />
<rect x="375.80" y="383.80" width="159.50" height="118.80" fill="#e6ebe8" stroke="none" stroke-width="1.00" />
<path d="M377.61 383.8V502.6M381.24 383.8V502.6M384.86 383.8V502.6M388.49 383.8V502.6M392.11 383.8V502.6M395.74 383.8V502.6M399.36 383.8V502.6M402.99 383.8V502.6M406.61 383.8V502.6M410.24 383.8V502.6M413.86 383.8V502.6M417.49 383.8V502.6M421.11 383.8V502.6M424.74 383.8V502.6M428.36 383.8V502.6M431.99 383.8V502.6M435.61 383.8V502.6M439.24 383.8V502.6M442.86 383.8V502.6M446.49 383.8V502.6M450.11 383.8V502.6M453.74 383.8V502.6M457.36 383.8V502.6M460.99 383.8V502.6M464.61 383.8V502.6M468.24 383.8V502.6M471.86 383.8V502.6M475.49 383.8V502.6M479.11 383.8V502.6M482.74 383.8V502.6M486.36 383.8V502.6M489.99 383.8V502.6M493.61 383.8V502.6M497.24 383.8V502.6M500.86 383.8V502.6M504.49 383.8V502.6M508.11 383.8V502.6M511.74 383.8V502.6M515.36 383.8V502.6M518.99 383.8V502.6M522.61 383.8V502.6M526.24 383.8V502.6M529.86 383.8V502.6M533.49 383.8V502.6" stroke="#fff" stroke-width="0.8" fill="none"/>
<path d="M376.31 388.9h2.6v41.67h-2.6zM379.94 388.9h2.6v37.97h-2.6zM383.56 388.9h2.6v1.09h-2.6zM387.19 388.9h2.6v75.18h-2.6zM390.81 388.9h2.6v76.81h-2.6zM394.44 388.9h2.6v36.99h-2.6zM398.06 388.9h2.6v66.69h-2.6zM401.69 388.9h2.6v62.67h-2.6zM405.31 388.9h2.6v63.87h-2.6zM408.94 388.9h2.6v44.01h-2.6zM412.56 388.9h2.6v69.09h-2.6zM416.19 388.9h2.6v23.21h-2.6zM419.81 388.9h2.6v50.05h-2.6zM423.44 388.9h2.6v60.93h-2.6zM427.06 388.9h2.6v58.64h-2.6zM430.69 388.9h2.6v27.64h-2.6zM434.31 388.9h2.6v35.25h-2.6zM437.94 388.9h2.6v53.64h-2.6zM441.56 388.9h2.6v43.52h-2.6zM445.19 388.9h2.6v45.15h-2.6zM448.81 388.9h2.6v73.11h-2.6zM452.44 388.9h2.6v55.97h-2.6zM456.06 388.9h2.6v74.04h-2.6zM459.69 388.9h2.6v105.79h-2.6zM463.31 388.9h2.6v57.45h-2.6zM466.94 388.9h2.6v65.93h-2.6zM470.56 388.9h2.6v44.28h-2.6zM474.19 388.9h2.6v55.16h-2.6zM477.81 388.9h2.6v40.26h-2.6zM481.44 388.9h2.6v13.6h-2.6zM485.06 388.9h2.6v40.26h-2.6zM488.69 388.9h2.6v1.09h-2.6zM492.31 388.9h2.6v68.22h-2.6zM495.94 388.9h2.6v103.25h-2.6zM499.56 388.9h2.6v88.17h-2.6zM503.19 388.9h2.6v51.6h-2.6zM506.81 388.9h2.6v57.12h-2.6zM510.44 388.9h2.6v2.5h-2.6zM514.06 388.9h2.6v29.38h-2.6zM517.69 388.9h2.6v39.56h-2.6zM521.31 388.9h2.6v45.8h-2.6zM524.94 388.9h2.6v38.73h-2.6zM528.56 388.9h2.6v90.74h-2.6zM532.19 388.9h2.6v56.36h-2.6z" fill="#3c9be6"/>
<path d="M376.31 430.57h2.6v38.41h-2.6zM379.94 426.87h2.6v18.39h-2.6zM383.56 389.99h2.6v68h-2.6zM387.19 464.08h2.6v6.64h-2.6zM390.81 465.71h2.6v4.13h-2.6zM394.44 425.89h2.6v5.88h-2.6zM398.06 455.59h2.6v18.01h-2.6zM401.69 451.57h2.6v11.32h-2.6zM405.31 452.77h2.6v22.58h-2.6zM408.94 432.91h2.6v24.21h-2.6zM412.56 457.99h2.6v25.13h-2.6zM416.19 412.11h2.6v4.43h-2.6zM419.81 438.95h2.6v21.87h-2.6zM427.06 447.54h2.6v18.17h-2.6zM430.69 416.54h2.6v11.47h-2.6zM434.31 424.15h2.6v43.63h-2.6zM437.94 442.54h2.6v22.41h-2.6zM445.19 434.05h2.6v4.46h-2.6zM448.81 462.01h2.6v26.87h-2.6zM452.44 444.87h2.6v16.22h-2.6zM456.06 462.94h2.6v6.95h-2.6zM463.31 446.35h2.6v13.6h-2.6zM466.94 454.83h2.6v20.16h-2.6zM470.56 433.18h2.6v31.12h-2.6zM474.19 444.06h2.6v16.21h-2.6zM477.81 429.16h2.6v11.97h-2.6zM481.44 402.5h2.6v23.39h-2.6zM485.06 429.16h2.6v7.83h-2.6zM488.69 389.99h2.6v10.77h-2.6zM492.31 457.12h2.6v16.25h-2.6zM499.56 477.07h2.6v6.95h-2.6zM503.19 440.5h2.6v7.37h-2.6zM506.81 446.02h2.6v8.81h-2.6zM510.44 391.4h2.6v37.07h-2.6zM517.69 428.46h2.6v1.57h-2.6zM521.31 434.7h2.6v19.19h-2.6zM528.56 479.64h2.6v9.25h-2.6zM532.19 445.26h2.6v8.64h-2.6z" fill="#4cb98f"/>
<path d="M376.31 468.98h2.6v10.44h-2.6zM379.94 445.26h2.6v8.6h-2.6zM387.19 470.72h2.6v3.48h-2.6zM390.81 469.85h2.6v8.16h-2.6zM394.44 431.77h2.6v21h-2.6zM398.06 473.6h2.6v6.36h-2.6zM401.69 462.88h2.6v14.14h-2.6zM405.31 475.34h2.6v4.62h-2.6zM408.94 457.12h2.6v15.34h-2.6zM416.19 416.54h2.6v5.28h-2.6zM419.81 460.82h2.6v15.34h-2.6zM423.44 449.83h2.6v8.7h-2.6zM427.06 465.71h2.6v9.63h-2.6zM430.69 428h2.6v24.98h-2.6zM434.31 467.78h2.6v3.26h-2.6zM441.56 432.42h2.6v15.12h-2.6zM445.19 438.51h2.6v8.7h-2.6zM452.44 461.09h2.6v13.87h-2.6zM456.06 469.89h2.6v9.75h-2.6zM463.31 459.95h2.6v20.84h-2.6zM466.94 474.99h2.6v8.45h-2.6zM470.56 464.3h2.6v5.82h-2.6zM474.19 460.27h2.6v15.07h-2.6zM477.81 441.12h2.6v14.91h-2.6zM481.44 425.89h2.6v2.34h-2.6zM485.06 436.99h2.6v10.01h-2.6zM492.31 473.37h2.6v8.55h-2.6zM506.81 454.83h2.6v5.11h-2.6zM514.06 418.28h2.6v31.92h-2.6zM517.69 430.03h2.6v7.56h-2.6zM521.31 453.9h2.6v25.31h-2.6zM524.94 427.63h2.6v13.49h-2.6zM532.19 453.9h2.6v9.53h-2.6z" fill="#8cf05a"/>
<path d="M376.31 479.42h2.6v10.99h-2.6zM379.94 453.85h2.6v7.18h-2.6zM394.44 452.77h2.6v32.97h-2.6zM408.94 472.46h2.6v1.41h-2.6zM416.19 421.81h2.6v39.28h-2.6zM419.81 476.16h2.6v2.28h-2.6zM423.44 458.53h2.6v8.7h-2.6zM430.69 452.98h2.6v13.06h-2.6zM437.94 464.95h2.6v7.29h-2.6zM441.56 447.54h2.6v15.4h-2.6zM445.19 447.22h2.6v16.86h-2.6zM448.81 488.89h2.6v1.2h-2.6zM452.44 474.96h2.6v11.15h-2.6zM463.31 480.78h2.6v8.46h-2.6zM474.19 475.34h2.6v9.85h-2.6zM477.81 456.03h2.6v8.05h-2.6zM485.06 447h2.6v8.05h-2.6zM488.69 400.76h2.6v30.4h-2.6zM492.31 481.92h2.6v3.05h-2.6zM503.19 447.87h2.6v15.88h-2.6zM506.81 459.95h2.6v2.99h-2.6zM514.06 450.2h2.6v36.19h-2.6zM517.69 437.59h2.6v29.97h-2.6zM521.31 479.2h2.6v5.98h-2.6zM524.94 441.12h2.6v29.27h-2.6z" fill="#40dc1e"/>
<path d="M376.31 490.41h2.6v1.74h-2.6zM379.94 461.03h2.6v3.05h-2.6zM383.56 457.99h2.6v28.94h-2.6zM387.19 474.2h2.6v4.57h-2.6zM390.81 478.01h2.6v14.69h-2.6zM398.06 479.97h2.6v4.03h-2.6zM401.69 477.03h2.6v2.94h-2.6zM405.31 479.97h2.6v8.16h-2.6zM408.94 473.87h2.6v9.03h-2.6zM412.56 483.12h2.6v2.07h-2.6zM416.19 461.09h2.6v4.95h-2.6zM419.81 478.44h2.6v7.67h-2.6zM423.44 467.24h2.6v2.88h-2.6zM427.06 475.34h2.6v3.47h-2.6zM430.69 466.04h2.6v3.48h-2.6zM434.31 471.04h2.6v6.96h-2.6zM437.94 472.24h2.6v8.54h-2.6zM441.56 462.94h2.6v9.3h-2.6zM445.19 464.08h2.6v1.96h-2.6zM448.81 490.08h2.6v1.85h-2.6zM452.44 486.11h2.6v2.01h-2.6zM456.06 479.64h2.6v7.29h-2.6zM463.31 489.25h2.6v4.65h-2.6zM466.94 483.45h2.6v8.7h-2.6zM474.19 485.19h2.6v5.22h-2.6zM477.81 464.08h2.6v6.96h-2.6zM481.44 428.23h2.6v3.75h-2.6zM485.06 455.05h2.6v9.03h-2.6zM488.69 431.16h2.6v5.83h-2.6zM492.31 484.97h2.6v2.76h-2.6zM495.94 492.15h2.6v0.91h-2.6zM499.56 484.02h2.6v2.9h-2.6zM503.19 463.75h2.6v3.81h-2.6zM506.81 462.94h2.6v5.1h-2.6zM510.44 428.47h2.6v39.31h-2.6zM514.06 486.38h2.6v8.65h-2.6zM517.69 467.56h2.6v1.41h-2.6zM521.31 485.19h2.6v2.55h-2.6zM524.94 470.39h2.6v2.61h-2.6zM528.56 488.89h2.6v5h-2.6zM532.19 463.43h2.6v6.69h-2.6z" fill="#86a843"/>
<path d="M376.31 492.15h2.6v2.5h-2.6zM379.94 464.08h2.6v8.92h-2.6zM387.19 478.77h2.6v12.19h-2.6zM394.44 485.73h2.6v3.48h-2.6zM398.06 483.99h2.6v3.7h-2.6zM401.69 479.97h2.6v2.72h-2.6zM405.31 488.13h2.6v5.22h-2.6zM408.94 482.9h2.6v2.07h-2.6zM412.56 485.19h2.6v1.41h-2.6zM419.81 486.11h2.6v0.82h-2.6zM427.06 478.81h2.6v13.9h-2.6zM430.69 469.52h2.6v10.44h-2.6zM434.31 478.01h2.6v6.96h-2.6zM437.94 480.78h2.6v4.95h-2.6zM441.56 472.24h2.6v11.21h-2.6zM445.19 466.04h2.6v17.08h-2.6zM448.81 491.93h2.6v2.28h-2.6zM452.44 488.13h2.6v2.83h-2.6zM459.69 494.69h2.6v3.01h-2.6zM466.94 492.15h2.6v2.88h-2.6zM470.56 470.12h2.6v2.88h-2.6zM477.81 471.04h2.6v7.18h-2.6zM481.44 431.98h2.6v2.07h-2.6zM485.06 464.08h2.6v11.26h-2.6zM488.69 436.99h2.6v32.53h-2.6zM499.56 486.93h2.6v1.96h-2.6zM510.44 467.78h2.6v24.37h-2.6zM517.69 468.98h2.6v4.03h-2.6zM521.31 487.73h2.6v2.35h-2.6z" fill="#ff1030"/>
<path d="M376.31 494.65h2.6v1.52h-2.6zM379.94 473h2.6v2.94h-2.6zM383.56 486.93h2.6v8.7h-2.6zM387.19 490.95h2.6v3.48h-2.6zM390.81 492.7h2.6v5h-2.6zM394.44 489.21h2.6v6.42h-2.6zM398.06 487.69h2.6v9.08h-2.6zM401.69 482.69h2.6v12.35h-2.6zM408.94 484.97h2.6v10.66h-2.6zM412.56 486.6h2.6v9.57h-2.6zM416.19 466.04h2.6v2h-2.6zM419.81 486.93h2.6v5.77h-2.6zM423.44 470.12h2.6v8.11h-2.6zM430.69 479.97h2.6v3.16h-2.6zM437.94 485.73h2.6v6.42h-2.6zM441.56 483.45h2.6v2.94h-2.6zM445.19 483.12h2.6v3.26h-2.6zM452.44 490.95h2.6v2.39h-2.6zM456.06 486.93h2.6v7.29h-2.6zM463.31 493.89h2.6v2.54h-2.6zM470.56 473h2.6v1.74h-2.6zM477.81 478.22h2.6v7.89h-2.6zM481.44 434.05h2.6v1.2h-2.6zM492.31 487.73h2.6v7.3h-2.6zM495.94 493.07h2.6v4.63h-2.6zM499.56 488.89h2.6v8.81h-2.6zM503.19 467.56h2.6v0.83h-2.6zM517.69 473h2.6v8.92h-2.6zM521.31 490.08h2.6v2.98h-2.6zM524.94 473h2.6v24.7h-2.6zM532.19 470.12h2.6v4.08h-2.6z" fill="#f05a96"/>
<path d="M376.31 496.18h2.6v0.87h-2.6zM379.94 475.94h2.6v21.76h-2.6zM405.31 493.35h2.6v4.35h-2.6zM412.56 496.18h2.6v1.52h-2.6zM416.19 468.04h2.6v26.99h-2.6zM427.06 492.72h2.6v4.98h-2.6zM441.56 486.38h2.6v2.5h-2.6zM448.81 494.22h2.6v3.48h-2.6zM452.44 493.35h2.6v1.69h-2.6zM456.06 494.22h2.6v1.98h-2.6zM463.31 496.43h2.6v1.27h-2.6zM466.94 495.03h2.6v2.67h-2.6zM470.56 474.74h2.6v4.07h-2.6zM474.19 490.41h2.6v7.29h-2.6zM477.81 486.11h2.6v6.04h-2.6zM481.44 435.25h2.6v1.74h-2.6zM485.06 475.34h2.6v10.39h-2.6zM492.31 495.03h2.6v2.67h-2.6zM503.19 468.39h2.6v28.39h-2.6zM506.81 468.04h2.6v28.16h-2.6zM514.06 495.03h2.6v2.67h-2.6zM517.69 481.92h2.6v0.98h-2.6zM521.31 493.07h2.6v3.13h-2.6zM528.56 493.89h2.6v3.81h-2.6zM532.19 474.2h2.6v7.72h-2.6z" fill="#ff9a40"/>
<path d="M423.44 478.22h2.6v19.48h-2.6zM430.69 483.12h2.6v0.9h-2.6zM470.56 478.81h2.6v17.39h-2.6zM481.44 436.99h2.6v53.96h-2.6z" fill="#f0644e"/>
<path d="M376.31 497.05h2.6v0.65h-2.6zM383.56 495.63h2.6v2.07h-2.6zM387.19 494.44h2.6v3.26h-2.6zM394.44 495.63h2.6v2.07h-2.6zM398.06 496.78h2.6v0.92h-2.6zM401.69 495.03h2.6v2.67h-2.6zM408.94 495.63h2.6v2.07h-2.6zM416.19 495.03h2.6v2.67h-2.6zM419.81 492.7h2.6v5h-2.6zM430.69 484.02h2.6v13.68h-2.6zM434.31 484.97h2.6v12.73h-2.6zM437.94 492.15h2.6v5.55h-2.6zM441.56 488.89h2.6v8.81h-2.6zM445.19 486.38h2.6v11.32h-2.6zM452.44 495.03h2.6v2.67h-2.6zM456.06 496.2h2.6v1.5h-2.6zM470.56 496.2h2.6v1.5h-2.6zM477.81 492.15h2.6v5.55h-2.6zM481.44 490.95h2.6v6.75h-2.6zM485.06 485.73h2.6v11.97h-2.6zM488.69 469.52h2.6v28.18h-2.6zM503.19 496.78h2.6v0.92h-2.6zM506.81 496.2h2.6v1.5h-2.6zM510.44 492.15h2.6v5.55h-2.6zM517.69 482.9h2.6v14.8h-2.6zM521.31 496.2h2.6v1.5h-2.6zM532.19 481.92h2.6v15.78h-2.6z" fill="#788888"/>
<line x1="375.80" y1="470.50" x2="535.30" y2="470.50" stroke="#fff" stroke-width="0.50" stroke-dasharray="1.2 2.4" opacity="0.35"/>
<line x1="375.80" y1="443.30" x2="535.30" y2="443.30" stroke="#fff" stroke-width="0.50" stroke-dasharray="1.2 2.4" opacity="0.35"/>
<line x1="375.80" y1="416.10" x2="535.30" y2="416.10" stroke="#fff" stroke-width="0.50" stroke-dasharray="1.2 2.4" opacity="0.35"/>
<rect x="375.80" y="373.80" width="159.50" height="128.80" fill="none" stroke="#000" stroke-width="1.50" />
<text x="455.55" y="382.00" font-size="6.90px" font-weight="bold" text-anchor="middle" fill="#111" >Non-Progressor</text>
<path d="M377.61 503.4v2.3M381.24 503.4v2.3M384.86 503.4v2.3M388.49 503.4v2.3M392.11 503.4v2.3M395.74 503.4v2.3M399.36 503.4v2.3M402.99 503.4v2.3M406.61 503.4v2.3M410.24 503.4v2.3M413.86 503.4v2.3M417.49 503.4v2.3M421.11 503.4v2.3M424.74 503.4v2.3M428.36 503.4v2.3M431.99 503.4v2.3M435.61 503.4v2.3M439.24 503.4v2.3M442.86 503.4v2.3M446.49 503.4v2.3M450.11 503.4v2.3M453.74 503.4v2.3M457.36 503.4v2.3M460.99 503.4v2.3M464.61 503.4v2.3M468.24 503.4v2.3M471.86 503.4v2.3M475.49 503.4v2.3M479.11 503.4v2.3M482.74 503.4v2.3M486.36 503.4v2.3M489.99 503.4v2.3M493.61 503.4v2.3M497.24 503.4v2.3M500.86 503.4v2.3M504.49 503.4v2.3M508.11 503.4v2.3M511.74 503.4v2.3M515.36 503.4v2.3M518.99 503.4v2.3M522.61 503.4v2.3M526.24 503.4v2.3M529.86 503.4v2.3M533.49 503.4v2.3" stroke="#2a3838" stroke-width="0.9" fill="none"/>
<g font-size="3.7px" font-weight="bold" text-anchor="end" fill="#111"><text x="378.91" y="506.9" transform="rotate(-90 378.91 506.9)">S7375</text><text x="382.54" y="506.9" transform="rotate(-90 382.54 506.9)">S914</text><text x="386.16" y="506.9" transform="rotate(-90 386.16 506.9)">S961</text><text x="389.79" y="506.9" transform="rotate(-90 389.79 506.9)">MS8628b</text><text x="393.41" y="506.9" transform="rotate(-90 393.41 506.9)">S894</text><text x="397.04" y="506.9" transform="rotate(-90 397.04 506.9)">MS3569b</text><text x="400.66" y="506.9" transform="rotate(-90 400.66 506.9)">S2153</text><text x="404.29" y="506.9" transform="rotate(-90 404.29 506.9)">S489</text><text x="407.91" y="506.9" transform="rotate(-90 407.91 506.9)">S6873</text><text x="411.54" y="506.9" transform="rotate(-90 411.54 506.9)">S5176</text><text x="415.16" y="506.9" transform="rotate(-90 415.16 506.9)">S263</text><text x="418.79" y="506.9" transform="rotate(-90 418.79 506.9)">S1739</text><text x="422.41" y="506.9" transform="rotate(-90 422.41 506.9)">S5550</text><text x="426.04" y="506.9" transform="rotate(-90 426.04 506.9)">MS4530b</text><text x="429.66" y="506.9" transform="rotate(-90 429.66 506.9)">S269</text><text x="433.29" y="506.9" transform="rotate(-90 433.29 506.9)">S3963</text><text x="436.91" y="506.9" transform="rotate(-90 436.91 506.9)">S652</text><text x="440.54" y="506.9" transform="rotate(-90 440.54 506.9)">S7403</text><text x="444.16" y="506.9" transform="rotate(-90 444.16 506.9)">S4925</text><text x="447.79" y="506.9" transform="rotate(-90 447.79 506.9)">S5242</text><text x="451.41" y="506.9" transform="rotate(-90 451.41 506.9)">MS5937b</text><text x="455.04" y="506.9" transform="rotate(-90 455.04 506.9)">S937</text><text x="458.66" y="506.9" transform="rotate(-90 458.66 506.9)">S103</text><text x="462.29" y="506.9" transform="rotate(-90 462.29 506.9)">S8244</text><text x="465.91" y="506.9" transform="rotate(-90 465.91 506.9)">S463</text><text x="469.54" y="506.9" transform="rotate(-90 469.54 506.9)">S592</text><text x="473.16" y="506.9" transform="rotate(-90 473.16 506.9)">S289</text><text x="476.79" y="506.9" transform="rotate(-90 476.79 506.9)">S8214</text><text x="480.41" y="506.9" transform="rotate(-90 480.41 506.9)">S123</text><text x="484.04" y="506.9" transform="rotate(-90 484.04 506.9)">S466</text><text x="487.66" y="506.9" transform="rotate(-90 487.66 506.9)">S118</text><text x="491.29" y="506.9" transform="rotate(-90 491.29 506.9)">S5289</text><text x="494.91" y="506.9" transform="rotate(-90 494.91 506.9)">MS1765b</text><text x="498.54" y="506.9" transform="rotate(-90 498.54 506.9)">S8243</text><text x="502.16" y="506.9" transform="rotate(-90 502.16 506.9)">S221</text><text x="505.79" y="506.9" transform="rotate(-90 505.79 506.9)">S939</text><text x="509.41" y="506.9" transform="rotate(-90 509.41 506.9)">S452</text><text x="513.04" y="506.9" transform="rotate(-90 513.04 506.9)">S6377</text><text x="516.66" y="506.9" transform="rotate(-90 516.66 506.9)">S210</text><text x="520.29" y="506.9" transform="rotate(-90 520.29 506.9)">S899</text><text x="523.91" y="506.9" transform="rotate(-90 523.91 506.9)">S9806</text><text x="527.54" y="506.9" transform="rotate(-90 527.54 506.9)">S1938</text><text x="531.16" y="506.9" transform="rotate(-90 531.16 506.9)">S7252</text><text x="534.79" y="506.9" transform="rotate(-90 534.79 506.9)">S4488</text></g>
<rect x="537.90" y="373.80" width="51.70" height="10.00" fill="#d5dbd7" stroke="none" stroke-width="1.00" />
<rect x="537.90" y="383.80" width="51.70" height="118.80" fill="#e6ebe8" stroke="none" stroke-width="1.00" />
<path d="M539.9 383.8V502.6M543.5 383.8V502.6M547.1 383.8V502.6M550.7 383.8V502.6M554.3 383.8V502.6M557.9 383.8V502.6M561.5 383.8V502.6M565.1 383.8V502.6M568.7 383.8V502.6M572.3 383.8V502.6M575.9 383.8V502.6M579.5 383.8V502.6M583.1 383.8V502.6M586.7 383.8V502.6" stroke="#fff" stroke-width="0.8" fill="none"/>
<path d="M538.6 388.9h2.6v52.22h-2.6zM542.2 388.9h2.6v49.83h-2.6zM545.8 388.9h2.6v6.42h-2.6zM549.4 388.9h2.6v60.6h-2.6zM553 388.9h2.6v64.41h-2.6zM556.6 388.9h2.6v48.68h-2.6zM560.2 388.9h2.6v55.97h-2.6zM563.8 388.9h2.6v49.29h-2.6zM567.4 388.9h2.6v33.51h-2.6zM571 388.9h2.6v60.93h-2.6zM574.6 388.9h2.6v50.05h-2.6zM578.2 388.9h2.6v18.89h-2.6zM581.8 388.9h2.6v55.71h-2.6zM585.4 388.9h2.6v34.05h-2.6z" fill="#3c9be6"/>
<path d="M538.6 441.12h2.6v5.88h-2.6zM542.2 438.73h2.6v13.44h-2.6zM545.8 395.32h2.6v18.28h-2.6zM549.4 449.5h2.6v20.62h-2.6zM553 453.31h2.6v19.69h-2.6zM556.6 437.58h2.6v16.32h-2.6zM560.2 444.87h2.6v30.47h-2.6zM563.8 438.19h2.6v24.75h-2.6zM567.4 422.41h2.6v19.62h-2.6zM578.2 407.79h2.6v18.32h-2.6zM581.8 444.61h2.6v16.86h-2.6zM585.4 422.95h2.6v9.96h-2.6z" fill="#4cb98f"/>
<path d="M538.6 447h2.6v23.12h-2.6zM542.2 452.17h2.6v17.95h-2.6zM549.4 470.12h2.6v2.12h-2.6zM553 473h2.6v1.99h-2.6zM556.6 453.9h2.6v14.86h-2.6zM563.8 462.94h2.6v7.78h-2.6zM567.4 442.03h2.6v2.03h-2.6zM571 449.83h2.6v9.25h-2.6zM574.6 438.95h2.6v2.18h-2.6zM578.2 426.11h2.6v2.72h-2.6zM581.8 461.47h2.6v13.27h-2.6zM585.4 432.91h2.6v18.12h-2.6z" fill="#8cf05a"/>
<path d="M542.2 470.12h2.6v9.85h-2.6zM571 459.08h2.6v2.39h-2.6zM578.2 428.83h2.6v8.16h-2.6zM581.8 474.74h2.6v2.94h-2.6zM585.4 451.02h2.6v29.53h-2.6z" fill="#40dc1e"/>
<path d="M542.2 479.97h2.6v9.86h-2.6zM545.8 413.6h2.6v5.29h-2.6zM549.4 472.24h2.6v7.72h-2.6zM553 474.99h2.6v8.78h-2.6zM556.6 468.76h2.6v3.7h-2.6zM560.2 475.34h2.6v7.56h-2.6zM563.8 470.72h2.6v7.29h-2.6zM571 461.47h2.6v3.59h-2.6zM574.6 441.12h2.6v5.22h-2.6zM578.2 436.99h2.6v2.72h-2.6zM581.8 477.68h2.6v2.87h-2.6z" fill="#86a843"/>
<path d="M542.2 489.82h2.6v1.13h-2.6zM545.8 418.89h2.6v5.92h-2.6zM549.4 479.97h2.6v9.28h-2.6zM553 483.77h2.6v5.82h-2.6zM560.2 482.9h2.6v8.05h-2.6zM563.8 478.01h2.6v8.92h-2.6zM574.6 446.35h2.6v5.22h-2.6zM581.8 480.55h2.6v2.35h-2.6zM585.4 480.55h2.6v2.89h-2.6z" fill="#ff1030"/>
<path d="M538.6 470.12h2.6v24.32h-2.6zM542.2 490.95h2.6v3.26h-2.6zM549.4 489.25h2.6v2.69h-2.6zM553 489.59h2.6v1.36h-2.6zM560.2 490.95h2.6v2.94h-2.6zM567.4 444.06h2.6v3.48h-2.6zM571 465.06h2.6v14.91h-2.6zM574.6 451.57h2.6v13.93h-2.6zM578.2 439.71h2.6v2.83h-2.6zM581.8 482.9h2.6v5.77h-2.6zM585.4 483.45h2.6v9.9h-2.6z" fill="#f05a96"/>
<path d="M538.6 494.44h2.6v3.26h-2.6zM542.2 494.22h2.6v3.48h-2.6zM556.6 472.46h2.6v25.24h-2.6zM563.8 486.93h2.6v2.89h-2.6zM571 479.97h2.6v2.33h-2.6zM578.2 442.54h2.6v3.05h-2.6zM581.8 488.67h2.6v7.53h-2.6zM585.4 493.35h2.6v1.09h-2.6z" fill="#ff9a40"/>
<path d="M545.8 424.8h2.6v69.63h-2.6zM567.4 447.54h2.6v49.23h-2.6zM574.6 465.5h2.6v25.46h-2.6zM578.2 445.58h2.6v51.19h-2.6z" fill="#f0644e"/>
<path d="M545.8 494.44h2.6v3.26h-2.6zM549.4 491.93h2.6v5.77h-2.6zM553 490.95h2.6v6.75h-2.6zM560.2 493.89h2.6v3.81h-2.6zM563.8 489.82h2.6v7.88h-2.6zM567.4 496.78h2.6v0.92h-2.6zM571 482.29h2.6v15.41h-2.6zM574.6 490.95h2.6v6.75h-2.6zM578.2 496.78h2.6v0.92h-2.6zM581.8 496.2h2.6v1.5h-2.6zM585.4 494.44h2.6v3.26h-2.6z" fill="#788888"/>
<line x1="537.90" y1="470.50" x2="589.60" y2="470.50" stroke="#fff" stroke-width="0.50" stroke-dasharray="1.2 2.4" opacity="0.35"/>
<line x1="537.90" y1="443.30" x2="589.60" y2="443.30" stroke="#fff" stroke-width="0.50" stroke-dasharray="1.2 2.4" opacity="0.35"/>
<line x1="537.90" y1="416.10" x2="589.60" y2="416.10" stroke="#fff" stroke-width="0.50" stroke-dasharray="1.2 2.4" opacity="0.35"/>
<rect x="537.90" y="373.80" width="51.70" height="128.80" fill="none" stroke="#000" stroke-width="1.50" />
<text x="563.75" y="382.00" font-size="6.90px" font-weight="bold" text-anchor="middle" fill="#111" >Progressor</text>
<path d="M539.9 503.4v2.3M543.5 503.4v2.3M547.1 503.4v2.3M550.7 503.4v2.3M554.3 503.4v2.3M557.9 503.4v2.3M561.5 503.4v2.3M565.1 503.4v2.3M568.7 503.4v2.3M572.3 503.4v2.3M575.9 503.4v2.3M579.5 503.4v2.3M583.1 503.4v2.3M586.7 503.4v2.3" stroke="#2a3838" stroke-width="0.9" fill="none"/>
<g font-size="3.7px" font-weight="bold" text-anchor="end" fill="#111"><text x="541.2" y="506.9" transform="rotate(-90 541.2 506.9)">S912</text><text x="544.8" y="506.9" transform="rotate(-90 544.8 506.9)">S182</text><text x="548.4" y="506.9" transform="rotate(-90 548.4 506.9)">MS3385b</text><text x="552" y="506.9" transform="rotate(-90 552 506.9)">S778</text><text x="555.6" y="506.9" transform="rotate(-90 555.6 506.9)">S877</text><text x="559.2" y="506.9" transform="rotate(-90 559.2 506.9)">S427</text><text x="562.8" y="506.9" transform="rotate(-90 562.8 506.9)">S379</text><text x="566.4" y="506.9" transform="rotate(-90 566.4 506.9)">S302</text><text x="570" y="506.9" transform="rotate(-90 570 506.9)">S523</text><text x="573.6" y="506.9" transform="rotate(-90 573.6 506.9)">S652</text><text x="577.2" y="506.9" transform="rotate(-90 577.2 506.9)">S297</text><text x="580.8" y="506.9" transform="rotate(-90 580.8 506.9)">S816</text><text x="584.4" y="506.9" transform="rotate(-90 584.4 506.9)">S371</text><text x="588" y="506.9" transform="rotate(-90 588 506.9)">S724</text></g>
<rect x="591.40" y="373.80" width="16.60" height="10.00" fill="#d5dbd7" stroke="none" stroke-width="1.00" />
<rect x="591.40" y="383.80" width="16.60" height="118.80" fill="#e6ebe8" stroke="none" stroke-width="1.00" />
<path d="M599.7 383.8V502.6" stroke="#fff" stroke-width="0.8" fill="none"/>
<path d="M594.1 388.9h11.2v54h-11.2z" fill="#3c9be6"/>
<path d="M594.1 442.9h11.2v15.09h-11.2z" fill="#4cb98f"/>
<path d="M594.1 457.99h11.2v8.92h-11.2z" fill="#8cf05a"/>
<path d="M594.1 466.91h11.2v6.96h-11.2z" fill="#40dc1e"/>
<path d="M594.1 473.87h11.2v6.09h-11.2z" fill="#86a843"/>
<path d="M594.1 479.97h11.2v4.06h-11.2z" fill="#ff1030"/>
<path d="M594.1 484.02h11.2v4.86h-11.2z" fill="#f05a96"/>
<path d="M594.1 488.89h11.2v4.18h-11.2z" fill="#ff9a40"/>
<path d="M594.1 493.07h11.2v0.83h-11.2z" fill="#f0644e"/>
<path d="M594.1 493.89h11.2v3.81h-11.2z" fill="#788888"/>
<line x1="591.40" y1="470.50" x2="608.00" y2="470.50" stroke="#fff" stroke-width="0.50" stroke-dasharray="1.2 2.4" opacity="0.35"/>
<line x1="591.40" y1="443.30" x2="608.00" y2="443.30" stroke="#fff" stroke-width="0.50" stroke-dasharray="1.2 2.4" opacity="0.35"/>
<line x1="591.40" y1="416.10" x2="608.00" y2="416.10" stroke="#fff" stroke-width="0.50" stroke-dasharray="1.2 2.4" opacity="0.35"/>
<rect x="591.40" y="373.80" width="16.60" height="128.80" fill="none" stroke="#000" stroke-width="1.50" />
<text x="599.70" y="382.00" font-size="6.90px" font-weight="bold" text-anchor="middle" fill="#111" >NP</text>
<rect x="608.00" y="373.80" width="17.00" height="10.00" fill="#d5dbd7" stroke="none" stroke-width="1.00" />
<rect x="608.00" y="383.80" width="17.00" height="118.80" fill="#e6ebe8" stroke="none" stroke-width="1.00" />
<path d="M616.6 383.8V502.6" stroke="#fff" stroke-width="0.8" fill="none"/>
<path d="M611 388.9h11.2v45.15h-11.2z" fill="#3c9be6"/>
<path d="M611 434.05h11.2v17.95h-11.2z" fill="#4cb98f"/>
<path d="M611 452h11.2v7.29h-11.2z" fill="#8cf05a"/>
<path d="M611 459.29h11.2v3.81h-11.2z" fill="#40dc1e"/>
<path d="M611 463.1h11.2v4.9h-11.2z" fill="#86a843"/>
<path d="M611 468h11.2v3.81h-11.2z" fill="#ff1030"/>
<path d="M611 471.81h11.2v4.9h-11.2z" fill="#f05a96"/>
<path d="M611 476.7h11.2v4.35h-11.2z" fill="#ff9a40"/>
<path d="M611 481.05h11.2v13.06h-11.2z" fill="#f0644e"/>
<path d="M611 494.11h11.2v3.59h-11.2z" fill="#788888"/>
<line x1="608.00" y1="470.50" x2="625.00" y2="470.50" stroke="#fff" stroke-width="0.50" stroke-dasharray="1.2 2.4" opacity="0.35"/>
<line x1="608.00" y1="443.30" x2="625.00" y2="443.30" stroke="#fff" stroke-width="0.50" stroke-dasharray="1.2 2.4" opacity="0.35"/>
<line x1="608.00" y1="416.10" x2="625.00" y2="416.10" stroke="#fff" stroke-width="0.50" stroke-dasharray="1.2 2.4" opacity="0.35"/>
<rect x="608.00" y="373.80" width="17.00" height="128.80" fill="none" stroke="#000" stroke-width="1.50" />
<text x="616.50" y="382.00" font-size="6.90px" font-weight="bold" text-anchor="middle" fill="#111" >P</text>
<text x="608.30" y="510.20" font-size="4.45px" font-weight="bold" text-anchor="middle" fill="#111" >Grouped</text>
<line x1="373.40" y1="497.70" x2="375.20" y2="497.70" stroke="#000" stroke-width="0.90" />
<text x="372.80" y="500.00" font-size="6.40px" font-weight="bold" text-anchor="end" fill="#000" >0.00</text>
<line x1="373.40" y1="470.50" x2="375.20" y2="470.50" stroke="#000" stroke-width="0.90" />
<text x="372.80" y="472.80" font-size="6.40px" font-weight="bold" text-anchor="end" fill="#000" >0.25</text>
<line x1="373.40" y1="443.30" x2="375.20" y2="443.30" stroke="#000" stroke-width="0.90" />
<text x="372.80" y="445.60" font-size="6.40px" font-weight="bold" text-anchor="end" fill="#000" >0.50</text>
<line x1="373.40" y1="416.10" x2="375.20" y2="416.10" stroke="#000" stroke-width="0.90" />
<text x="372.80" y="418.40" font-size="6.40px" font-weight="bold" text-anchor="end" fill="#000" >0.75</text>
<line x1="373.40" y1="388.90" x2="375.20" y2="388.90" stroke="#000" stroke-width="0.90" />
<text x="372.80" y="391.20" font-size="6.40px" font-weight="bold" text-anchor="end" fill="#000" >1.00</text>
<text x="357.20" y="439.00" font-size="6.80px" font-weight="bold" text-anchor="middle" fill="#000" transform="rotate(-90 357.20 439.00)" >Relative Abundance</text>
<text x="632.20" y="391.70" font-size="5.50px" font-weight="bold" text-anchor="start" fill="#111" text-decoration="underline">Genus</text>
<rect x="632.30" y="394.10" width="4.30" height="4.60" fill="#3c9be6" stroke="#8a9a9a" stroke-width="0.30" />
<text x="638.60" y="398.00" font-size="4.55px" font-weight="bold" text-anchor="start" fill="#111" >Bacteroides</text>
<rect x="632.30" y="399.09" width="4.30" height="4.60" fill="#4cb98f" stroke="#8a9a9a" stroke-width="0.30" />
<text x="638.60" y="402.99" font-size="4.55px" font-weight="bold" text-anchor="start" fill="#111" >Faecalibacterium</text>
<rect x="632.30" y="404.08" width="4.30" height="4.60" fill="#8cf05a" stroke="#8a9a9a" stroke-width="0.30" />
<text x="638.60" y="407.98" font-size="4.55px" font-weight="bold" text-anchor="start" fill="#111" >Alistipes</text>
<rect x="632.30" y="409.07" width="4.30" height="4.60" fill="#40dc1e" stroke="#8a9a9a" stroke-width="0.30" />
<text x="638.60" y="412.97" font-size="4.55px" font-weight="bold" text-anchor="start" fill="#111" >Akkermansia</text>
<rect x="632.30" y="414.06" width="4.30" height="4.60" fill="#86a843" stroke="#8a9a9a" stroke-width="0.30" />
<text x="638.60" y="417.96" font-size="4.55px" font-weight="bold" text-anchor="start" fill="#111" >Blautia</text>
<rect x="632.30" y="419.05" width="4.30" height="4.60" fill="#f05a96" stroke="#8a9a9a" stroke-width="0.30" />
<text x="638.60" y="422.95" font-size="4.55px" font-weight="bold" text-anchor="start" fill="#111" >Parabacteroides</text>
<rect x="632.30" y="424.04" width="4.30" height="4.60" fill="#ff1030" stroke="#8a9a9a" stroke-width="0.30" />
<text x="638.60" y="427.94" font-size="4.55px" font-weight="bold" text-anchor="start" fill="#111" >Bifidobacterium</text>
<rect x="632.30" y="429.03" width="4.30" height="4.60" fill="#f0644e" stroke="#8a9a9a" stroke-width="0.30" />
<text x="638.60" y="432.93" font-size="4.55px" font-weight="bold" text-anchor="start" fill="#111" >Prevotella_9</text>
<rect x="632.30" y="434.02" width="4.30" height="4.60" fill="#ff9a40" stroke="#8a9a9a" stroke-width="0.30" />
<text x="638.60" y="437.92" font-size="4.55px" font-weight="bold" text-anchor="start" fill="#111" >Ruminococcus</text>
<rect x="632.30" y="439.01" width="4.30" height="4.60" fill="#788888" stroke="#8a9a9a" stroke-width="0.30" />
<text x="638.60" y="442.91" font-size="4.55px" font-weight="bold" text-anchor="start" fill="#111" >Others</text>
<line x1="625.50" y1="461.40" x2="633.00" y2="461.40" stroke="#55dd33" stroke-width="2.00" />
<path d="M622.0 461.40 L627.0 458.80 L627.0 464.00 Z" fill="#55dd33" stroke="#555" stroke-width="0.3"/>
<rect x="632.80" y="457.30" width="39.40" height="8.40" fill="#55dd33" stroke="#333" stroke-width="0.70" />
<text x="652.50" y="463.70" font-size="5.70px" font-weight="bold" text-anchor="middle" fill="#000" >Akkermansia</text>
<line x1="625.50" y1="488.20" x2="633.00" y2="488.20" stroke="#ee7766" stroke-width="2.00" />
<path d="M622.0 488.20 L627.0 485.60 L627.0 490.80 Z" fill="#ee7766" stroke="#555" stroke-width="0.3"/>
<rect x="632.80" y="484.00" width="39.40" height="8.20" fill="#ee7766" stroke="#333" stroke-width="0.70" />
<text x="652.50" y="490.30" font-size="5.70px" font-weight="bold" text-anchor="middle" fill="#000" >Prevotella_9</text>
</svg>
</body></html>
